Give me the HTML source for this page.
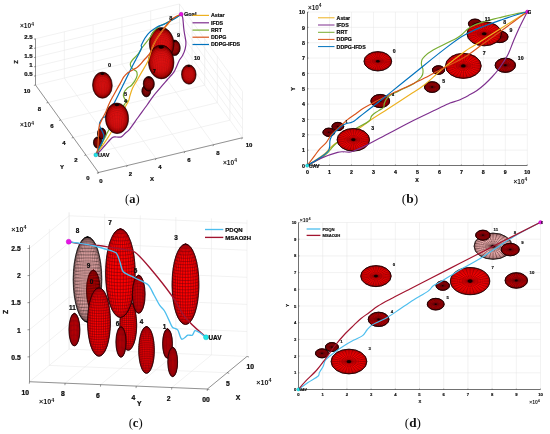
<!DOCTYPE html>
<html><head><meta charset="utf-8"><title>Figure</title>
<style>
html,body{margin:0;padding:0;background:#fff;}
body{width:550px;height:434px;overflow:hidden;}
svg{display:block;font-family:'Liberation Sans', Arial, sans-serif;}
.cap{font-family:'Liberation Serif', 'DejaVu Serif', serif;}
</style></head><body>
<svg width="550" height="434" viewBox="0 0 550 434">
<defs><radialGradient id="sg" cx="0.5" cy="0.5" r="0.5"><stop offset="0" stop-color="#f01414"/><stop offset="0.6" stop-color="#e61010"/><stop offset="0.85" stop-color="#c00808"/><stop offset="0.96" stop-color="#800000"/><stop offset="1" stop-color="#400000"/></radialGradient></defs>
<rect width="550" height="434" fill="#fff"/>
<line x1="98.5" y1="172.5" x2="35.5" y2="85" stroke="#e4e4e4" stroke-width="0.5" />
<line x1="98.5" y1="172.5" x2="242.5" y2="137.7" stroke="#e4e4e4" stroke-width="0.5" />
<line x1="35.5" y1="85" x2="35.5" y2="38.75" stroke="#e4e4e4" stroke-width="0.5" />
<line x1="242.5" y1="137.7" x2="242.5" y2="91.45" stroke="#e4e4e4" stroke-width="0.5" />
<line x1="127.3" y1="165.54" x2="64.3" y2="78.04" stroke="#e4e4e4" stroke-width="0.5" />
<line x1="85.9" y1="155" x2="229.9" y2="120.2" stroke="#e4e4e4" stroke-width="0.5" />
<line x1="64.3" y1="78.04" x2="64.3" y2="31.79" stroke="#e4e4e4" stroke-width="0.5" />
<line x1="229.9" y1="120.2" x2="229.9" y2="73.95" stroke="#e4e4e4" stroke-width="0.5" />
<line x1="156.1" y1="158.58" x2="93.1" y2="71.08" stroke="#e4e4e4" stroke-width="0.5" />
<line x1="73.3" y1="137.5" x2="217.3" y2="102.7" stroke="#e4e4e4" stroke-width="0.5" />
<line x1="93.1" y1="71.08" x2="93.1" y2="24.83" stroke="#e4e4e4" stroke-width="0.5" />
<line x1="217.3" y1="102.7" x2="217.3" y2="56.45" stroke="#e4e4e4" stroke-width="0.5" />
<line x1="184.9" y1="151.62" x2="121.9" y2="64.12" stroke="#e4e4e4" stroke-width="0.5" />
<line x1="60.7" y1="120" x2="204.7" y2="85.2" stroke="#e4e4e4" stroke-width="0.5" />
<line x1="121.9" y1="64.12" x2="121.9" y2="17.87" stroke="#e4e4e4" stroke-width="0.5" />
<line x1="204.7" y1="85.2" x2="204.7" y2="38.95" stroke="#e4e4e4" stroke-width="0.5" />
<line x1="213.7" y1="144.66" x2="150.7" y2="57.16" stroke="#e4e4e4" stroke-width="0.5" />
<line x1="48.1" y1="102.5" x2="192.1" y2="67.7" stroke="#e4e4e4" stroke-width="0.5" />
<line x1="150.7" y1="57.16" x2="150.7" y2="10.91" stroke="#e4e4e4" stroke-width="0.5" />
<line x1="192.1" y1="67.7" x2="192.1" y2="21.45" stroke="#e4e4e4" stroke-width="0.5" />
<line x1="242.5" y1="137.7" x2="179.5" y2="50.2" stroke="#e4e4e4" stroke-width="0.5" />
<line x1="35.5" y1="85" x2="179.5" y2="50.2" stroke="#e4e4e4" stroke-width="0.5" />
<line x1="179.5" y1="50.2" x2="179.5" y2="3.95" stroke="#e4e4e4" stroke-width="0.5" />
<line x1="179.5" y1="50.2" x2="179.5" y2="3.95" stroke="#e4e4e4" stroke-width="0.5" />
<line x1="35.5" y1="75.75" x2="179.5" y2="40.95" stroke="#e4e4e4" stroke-width="0.5" />
<line x1="179.5" y1="40.95" x2="242.5" y2="128.45" stroke="#e4e4e4" stroke-width="0.5" />
<line x1="35.5" y1="66.5" x2="179.5" y2="31.7" stroke="#e4e4e4" stroke-width="0.5" />
<line x1="179.5" y1="31.7" x2="242.5" y2="119.2" stroke="#e4e4e4" stroke-width="0.5" />
<line x1="35.5" y1="57.25" x2="179.5" y2="22.45" stroke="#e4e4e4" stroke-width="0.5" />
<line x1="179.5" y1="22.45" x2="242.5" y2="109.95" stroke="#e4e4e4" stroke-width="0.5" />
<line x1="35.5" y1="48" x2="179.5" y2="13.2" stroke="#e4e4e4" stroke-width="0.5" />
<line x1="179.5" y1="13.2" x2="242.5" y2="100.7" stroke="#e4e4e4" stroke-width="0.5" />
<line x1="35.5" y1="38.75" x2="179.5" y2="3.95" stroke="#e4e4e4" stroke-width="0.5" />
<line x1="179.5" y1="3.95" x2="242.5" y2="91.45" stroke="#e4e4e4" stroke-width="0.5" />
<line x1="35.5" y1="85" x2="35.5" y2="38.75" stroke="#333" stroke-width="0.5" />
<line x1="35.5" y1="85" x2="98.5" y2="172.5" stroke="#333" stroke-width="0.5" />
<line x1="98.5" y1="172.5" x2="242.5" y2="137.7" stroke="#333" stroke-width="0.5" />
<line x1="35.5" y1="75.75" x2="34" y2="76.15" stroke="#333" stroke-width="0.5" />
<line x1="35.5" y1="66.5" x2="34" y2="66.9" stroke="#333" stroke-width="0.5" />
<line x1="35.5" y1="57.25" x2="34" y2="57.65" stroke="#333" stroke-width="0.5" />
<line x1="35.5" y1="48" x2="34" y2="48.4" stroke="#333" stroke-width="0.5" />
<line x1="35.5" y1="38.75" x2="34" y2="39.15" stroke="#333" stroke-width="0.5" />
<line x1="98.5" y1="172.5" x2="96.9" y2="172.9" stroke="#333" stroke-width="0.5" />
<line x1="98.5" y1="172.5" x2="97.7" y2="174" stroke="#333" stroke-width="0.5" />
<line x1="85.9" y1="155" x2="84.3" y2="155.4" stroke="#333" stroke-width="0.5" />
<line x1="127.3" y1="165.54" x2="126.5" y2="167.04" stroke="#333" stroke-width="0.5" />
<line x1="73.3" y1="137.5" x2="71.7" y2="137.9" stroke="#333" stroke-width="0.5" />
<line x1="156.1" y1="158.58" x2="155.3" y2="160.08" stroke="#333" stroke-width="0.5" />
<line x1="60.7" y1="120" x2="59.1" y2="120.4" stroke="#333" stroke-width="0.5" />
<line x1="184.9" y1="151.62" x2="184.1" y2="153.12" stroke="#333" stroke-width="0.5" />
<line x1="48.1" y1="102.5" x2="46.5" y2="102.9" stroke="#333" stroke-width="0.5" />
<line x1="213.7" y1="144.66" x2="212.9" y2="146.16" stroke="#333" stroke-width="0.5" />
<line x1="35.5" y1="85" x2="33.9" y2="85.4" stroke="#333" stroke-width="0.5" />
<line x1="242.5" y1="137.7" x2="241.7" y2="139.2" stroke="#333" stroke-width="0.5" />
<text x="32.5" y="76.35" font-size="6" text-anchor="end" font-weight="bold" fill="#0a0a0a" stroke="#0a0a0a" stroke-width="0.21" >0.5</text>
<text x="32.5" y="67.1" font-size="6" text-anchor="end" font-weight="bold" fill="#0a0a0a" stroke="#0a0a0a" stroke-width="0.21" >1</text>
<text x="32.5" y="57.85" font-size="6" text-anchor="end" font-weight="bold" fill="#0a0a0a" stroke="#0a0a0a" stroke-width="0.21" >1.5</text>
<text x="32.5" y="48.6" font-size="6" text-anchor="end" font-weight="bold" fill="#0a0a0a" stroke="#0a0a0a" stroke-width="0.21" >2</text>
<text x="32.5" y="39.35" font-size="6" text-anchor="end" font-weight="bold" fill="#0a0a0a" stroke="#0a0a0a" stroke-width="0.21" >2.5</text>
<text x="20" y="28.2" font-size="6.6" text-anchor="start" font-weight="bold" fill="#1a1a1a">×10<tspan dy="-2.64" font-size="4.95">4</tspan></text>
<text x="0" y="0" font-size="6" text-anchor="middle" font-weight="bold" fill="#0a0a0a" stroke="#0a0a0a" stroke-width="0.21" transform="translate(18,62) rotate(-90)">Z</text>
<text x="27" y="93.1" font-size="6" text-anchor="middle" font-weight="bold" fill="#0a0a0a" stroke="#0a0a0a" stroke-width="0.21" >10</text>
<text x="39.5" y="110.6" font-size="6" text-anchor="middle" font-weight="bold" fill="#0a0a0a" stroke="#0a0a0a" stroke-width="0.21" >8</text>
<text x="52" y="127.8" font-size="6" text-anchor="middle" font-weight="bold" fill="#0a0a0a" stroke="#0a0a0a" stroke-width="0.21" >6</text>
<text x="64" y="145.1" font-size="6" text-anchor="middle" font-weight="bold" fill="#0a0a0a" stroke="#0a0a0a" stroke-width="0.21" >4</text>
<text x="76" y="162.3" font-size="6" text-anchor="middle" font-weight="bold" fill="#0a0a0a" stroke="#0a0a0a" stroke-width="0.21" >2</text>
<text x="88" y="179.7" font-size="6" text-anchor="middle" font-weight="bold" fill="#0a0a0a" stroke="#0a0a0a" stroke-width="0.21" >0</text>
<text x="20" y="127.2" font-size="6.6" text-anchor="start" font-weight="bold" fill="#1a1a1a">×10<tspan dy="-2.64" font-size="4.95">4</tspan></text>
<text x="62" y="169" font-size="6" text-anchor="middle" font-weight="bold" fill="#0a0a0a" stroke="#0a0a0a" stroke-width="0.21" >Y</text>
<text x="101" y="183.1" font-size="6" text-anchor="middle" font-weight="bold" fill="#0a0a0a" stroke="#0a0a0a" stroke-width="0.21" >0</text>
<text x="130.5" y="176.1" font-size="6" text-anchor="middle" font-weight="bold" fill="#0a0a0a" stroke="#0a0a0a" stroke-width="0.21" >2</text>
<text x="159.8" y="169" font-size="6" text-anchor="middle" font-weight="bold" fill="#0a0a0a" stroke="#0a0a0a" stroke-width="0.21" >4</text>
<text x="189" y="162.1" font-size="6" text-anchor="middle" font-weight="bold" fill="#0a0a0a" stroke="#0a0a0a" stroke-width="0.21" >6</text>
<text x="218" y="155.1" font-size="6" text-anchor="middle" font-weight="bold" fill="#0a0a0a" stroke="#0a0a0a" stroke-width="0.21" >8</text>
<text x="249" y="147.1" font-size="6" text-anchor="middle" font-weight="bold" fill="#0a0a0a" stroke="#0a0a0a" stroke-width="0.21" >10</text>
<text x="223" y="164.5" font-size="6.6" text-anchor="start" font-weight="bold" fill="#1a1a1a">×10<tspan dy="-2.64" font-size="4.95">4</tspan></text>
<text x="152" y="181.2" font-size="6" text-anchor="middle" font-weight="bold" fill="#0a0a0a" stroke="#0a0a0a" stroke-width="0.21" >X</text>
<g>
<circle r="1" transform="matrix(-5.89 -0.12 0 7.78 174.3 47.8)" fill="url(#sg)" fill-opacity="1.0" stroke="none"/>
<g fill="none" stroke="#000" stroke-width="0.17" vector-effect="non-scaling-stroke">
<path d="M-0.88 -0.475A1 1 0 0 1 0.249 -0.969" transform="matrix(2.93 -0.71 -1.28 -1.78 174.3 53.63)" vector-effect="non-scaling-stroke"/>
<path d="M-0.975 -0.223A1 1 0 0 1 0.498 -0.867" transform="matrix(3.51 -0.85 -1.54 -2.13 174.3 53.07)" vector-effect="non-scaling-stroke"/>
<path d="M-0.997 -0.079A1 1 0 0 1 0.619 -0.786" transform="matrix(3.96 -0.96 -1.73 -2.41 174.3 52.52)" vector-effect="non-scaling-stroke"/>
<path d="M-1 0.021A1 1 0 0 1 0.694 -0.72" transform="matrix(4.32 -1.04 -1.89 -2.63 174.3 51.96)" vector-effect="non-scaling-stroke"/>
<path d="M-0.995 0.097A1 1 0 0 1 0.747 -0.665" transform="matrix(4.61 -1.11 -2.02 -2.8 174.3 51.41)" vector-effect="non-scaling-stroke"/>
<path d="M-0.987 0.16A1 1 0 0 1 0.787 -0.617" transform="matrix(4.85 -1.17 -2.12 -2.95 174.3 50.85)" vector-effect="non-scaling-stroke"/>
<path d="M-0.977 0.213A1 1 0 0 1 0.82 -0.573" transform="matrix(5.04 -1.22 -2.2 -3.06 174.3 50.3)" vector-effect="non-scaling-stroke"/>
<path d="M-0.965 0.26A1 1 0 0 1 0.847 -0.532" transform="matrix(5.18 -1.25 -2.27 -3.15 174.3 49.74)" vector-effect="non-scaling-stroke"/>
<path d="M-0.953 0.304A1 1 0 0 1 0.87 -0.494" transform="matrix(5.29 -1.28 -2.31 -3.21 174.3 49.19)" vector-effect="non-scaling-stroke"/>
<path d="M-0.939 0.344A1 1 0 0 1 0.89 -0.456" transform="matrix(5.36 -1.3 -2.35 -3.26 174.3 48.63)" vector-effect="non-scaling-stroke"/>
<path d="M-0.924 0.382A1 1 0 0 1 0.908 -0.419" transform="matrix(5.4 -1.3 -2.36 -3.28 174.3 48.08)" vector-effect="non-scaling-stroke"/>
<path d="M-0.908 0.419A1 1 0 1 1 0.924 -0.382" transform="matrix(5.4 -1.3 -2.36 -3.28 174.3 47.52)" vector-effect="non-scaling-stroke"/>
<path d="M-0.89 0.456A1 1 0 1 1 0.939 -0.344" transform="matrix(5.36 -1.3 -2.35 -3.26 174.3 46.97)" vector-effect="non-scaling-stroke"/>
<path d="M-0.87 0.494A1 1 0 1 1 0.953 -0.304" transform="matrix(5.29 -1.28 -2.31 -3.21 174.3 46.41)" vector-effect="non-scaling-stroke"/>
<path d="M-0.847 0.532A1 1 0 1 1 0.965 -0.26" transform="matrix(5.18 -1.25 -2.27 -3.15 174.3 45.86)" vector-effect="non-scaling-stroke"/>
<path d="M-0.82 0.573A1 1 0 1 1 0.977 -0.213" transform="matrix(5.04 -1.22 -2.2 -3.06 174.3 45.3)" vector-effect="non-scaling-stroke"/>
<path d="M-0.787 0.617A1 1 0 1 1 0.987 -0.16" transform="matrix(4.85 -1.17 -2.12 -2.95 174.3 44.75)" vector-effect="non-scaling-stroke"/>
<path d="M-0.747 0.665A1 1 0 1 1 0.995 -0.097" transform="matrix(4.61 -1.11 -2.02 -2.8 174.3 44.19)" vector-effect="non-scaling-stroke"/>
<path d="M-0.694 0.72A1 1 0 1 1 1 -0.021" transform="matrix(4.32 -1.04 -1.89 -2.62 174.3 43.64)" vector-effect="non-scaling-stroke"/>
<path d="M-0.619 0.786A1 1 0 1 1 0.997 0.079" transform="matrix(3.96 -0.96 -1.73 -2.41 174.3 43.08)" vector-effect="non-scaling-stroke"/>
<path d="M-0.498 0.867A1 1 0 1 1 0.975 0.223" transform="matrix(3.51 -0.85 -1.54 -2.13 174.3 42.53)" vector-effect="non-scaling-stroke"/>
<path d="M-0.249 0.969A1 1 0 1 1 0.88 0.475" transform="matrix(2.93 -0.71 -1.28 -1.78 174.3 41.97)" vector-effect="non-scaling-stroke"/>
<circle r="1" transform="matrix(2.12 -0.51 -0.93 -1.29 174.3 41.42)" vector-effect="non-scaling-stroke"/>
<path d="M0.785 0.619A1 1 0 0 1 0 1" transform="matrix(5.4 -1.3 0 -6.94 174.3 47.8)" vector-effect="non-scaling-stroke"/>
<path d="M0.676 0.736A1 1 0 0 1 0 1" transform="matrix(4.91 -1.85 0 -6.94 174.3 47.8)" vector-effect="non-scaling-stroke"/>
<path d="M0.593 0.805A1 1 0 0 1 0 1" transform="matrix(4.27 -2.35 0 -6.94 174.3 47.8)" vector-effect="non-scaling-stroke"/>
<path d="M0.534 0.845A1 1 0 0 1 0 1" transform="matrix(3.5 -2.77 0 -6.94 174.3 47.8)" vector-effect="non-scaling-stroke"/>
<path d="M0.494 0.87A1 1 0 0 1 0 1" transform="matrix(2.62 -3.11 0 -6.94 174.3 47.8)" vector-effect="non-scaling-stroke"/>
<path d="M0.468 0.883A1 1 0 0 1 0 1" transform="matrix(1.66 -3.35 0 -6.94 174.3 47.8)" vector-effect="non-scaling-stroke"/>
<path d="M0.456 0.89A1 1 0 0 1 0 1" transform="matrix(0.65 -3.49 0 -6.94 174.3 47.8)" vector-effect="non-scaling-stroke"/>
<path d="M0.454 0.891A1 1 0 0 1 0 1" transform="matrix(-0.37 -3.53 0 -6.94 174.3 47.8)" vector-effect="non-scaling-stroke"/>
<path d="M0.464 0.886A1 1 0 0 1 0 1" transform="matrix(-1.39 -3.46 0 -6.94 174.3 47.8)" vector-effect="non-scaling-stroke"/>
<path d="M0.485 0.874A1 1 0 0 1 0 1" transform="matrix(-2.36 -3.28 0 -6.94 174.3 47.8)" vector-effect="non-scaling-stroke"/>
<path d="M0.521 0.853A1 1 0 0 1 0 1" transform="matrix(-3.26 -3 0 -6.94 174.3 47.8)" vector-effect="non-scaling-stroke"/>
<path d="M0.575 0.818A1 1 0 0 1 0 1" transform="matrix(-4.07 -2.64 0 -6.94 174.3 47.8)" vector-effect="non-scaling-stroke"/>
<path d="M0.651 0.759A1 1 0 0 1 0 1" transform="matrix(-4.75 -2.19 0 -6.94 174.3 47.8)" vector-effect="non-scaling-stroke"/>
<path d="M0.753 0.658A1 1 0 0 1 0 1" transform="matrix(-5.28 -1.67 0 -6.94 174.3 47.8)" vector-effect="non-scaling-stroke"/>
<path d="M0.875 0.485A1 1 0 0 1 0 1" transform="matrix(-5.66 -1.11 0 -6.94 174.3 47.8)" vector-effect="non-scaling-stroke"/>
<path d="M0.977 0.213A1 1 0 0 1 0 1" transform="matrix(-5.86 -0.51 0 -6.94 174.3 47.8)" vector-effect="non-scaling-stroke"/>
<path d="M0.992 -0.123A1 1 0 0 1 0 1" transform="matrix(-5.88 0.1 0 -6.94 174.3 47.8)" vector-effect="non-scaling-stroke"/>
<path d="M0.907 -0.42A1 1 0 0 1 0 1" transform="matrix(-5.73 0.72 0 -6.94 174.3 47.8)" vector-effect="non-scaling-stroke"/>
<path d="M0.785 -0.619A1 1 0 0 1 0 1" transform="matrix(-5.4 1.3 0 -6.94 174.3 47.8)" vector-effect="non-scaling-stroke"/>
<path d="M0.676 -0.736A1 1 0 0 1 0 1" transform="matrix(-4.91 1.85 0 -6.94 174.3 47.8)" vector-effect="non-scaling-stroke"/>
<path d="M0.593 -0.805A1 1 0 0 1 0 1" transform="matrix(-4.27 2.35 0 -6.94 174.3 47.8)" vector-effect="non-scaling-stroke"/>
<path d="M0.534 -0.845A1 1 0 0 1 0 1" transform="matrix(-3.5 2.77 0 -6.94 174.3 47.8)" vector-effect="non-scaling-stroke"/>
<path d="M0.494 -0.87A1 1 0 0 1 0 1" transform="matrix(-2.62 3.11 0 -6.94 174.3 47.8)" vector-effect="non-scaling-stroke"/>
<path d="M0.468 -0.883A1 1 0 0 1 0 1" transform="matrix(-1.66 3.35 0 -6.94 174.3 47.8)" vector-effect="non-scaling-stroke"/>
<path d="M0.456 -0.89A1 1 0 0 1 0 1" transform="matrix(-0.65 3.49 0 -6.94 174.3 47.8)" vector-effect="non-scaling-stroke"/>
<path d="M0.454 -0.891A1 1 0 0 1 0 1" transform="matrix(0.37 3.53 0 -6.94 174.3 47.8)" vector-effect="non-scaling-stroke"/>
<path d="M0.464 -0.886A1 1 0 0 1 0 1" transform="matrix(1.39 3.46 0 -6.94 174.3 47.8)" vector-effect="non-scaling-stroke"/>
<path d="M0.485 -0.874A1 1 0 0 1 0 1" transform="matrix(2.36 3.28 0 -6.94 174.3 47.8)" vector-effect="non-scaling-stroke"/>
<path d="M0.521 -0.853A1 1 0 0 1 0 1" transform="matrix(3.26 3 0 -6.94 174.3 47.8)" vector-effect="non-scaling-stroke"/>
<path d="M0.575 -0.818A1 1 0 0 1 0 1" transform="matrix(4.07 2.64 0 -6.94 174.3 47.8)" vector-effect="non-scaling-stroke"/>
<path d="M0.651 -0.759A1 1 0 0 1 0 1" transform="matrix(4.75 2.19 0 -6.94 174.3 47.8)" vector-effect="non-scaling-stroke"/>
<path d="M0.753 -0.658A1 1 0 0 1 0 1" transform="matrix(5.28 1.67 0 -6.94 174.3 47.8)" vector-effect="non-scaling-stroke"/>
<path d="M0.875 -0.485A1 1 0 0 1 0 1" transform="matrix(5.66 1.11 0 -6.94 174.3 47.8)" vector-effect="non-scaling-stroke"/>
<path d="M0.977 -0.213A1 1 0 0 1 0 1" transform="matrix(5.86 0.51 0 -6.94 174.3 47.8)" vector-effect="non-scaling-stroke"/>
<path d="M0.992 0.123A1 1 0 0 1 0 1" transform="matrix(5.88 -0.1 0 -6.94 174.3 47.8)" vector-effect="non-scaling-stroke"/>
<path d="M0.907 0.42A1 1 0 0 1 0 1" transform="matrix(5.73 -0.72 0 -6.94 174.3 47.8)" vector-effect="non-scaling-stroke"/>
</g>
<circle r="1" transform="matrix(1.08 -0.26 -0.47 -0.66 174.3 40.97)" fill="#100000"/>
<circle r="1" transform="matrix(-5.89 -0.12 0 7.78 174.3 47.8)" fill="none" stroke="#200" stroke-width="0.45" vector-effect="non-scaling-stroke"/>
</g>
<g>
<circle r="1" transform="matrix(-12.34 -0.25 0 16.29 161.6 43.8)" fill="url(#sg)" fill-opacity="1.0" stroke="none"/>
<g fill="none" stroke="#000" stroke-width="0.1" vector-effect="non-scaling-stroke">
<path d="M-0.88 -0.475A1 1 0 0 1 0.249 -0.969" transform="matrix(6.13 -1.48 -2.68 -3.73 161.6 56)" vector-effect="non-scaling-stroke"/>
<path d="M-0.975 -0.223A1 1 0 0 1 0.498 -0.867" transform="matrix(7.35 -1.78 -3.21 -4.46 161.6 54.84)" vector-effect="non-scaling-stroke"/>
<path d="M-0.997 -0.079A1 1 0 0 1 0.619 -0.786" transform="matrix(8.29 -2 -3.63 -5.04 161.6 53.68)" vector-effect="non-scaling-stroke"/>
<path d="M-1 0.021A1 1 0 0 1 0.694 -0.72" transform="matrix(9.04 -2.19 -3.96 -5.5 161.6 52.51)" vector-effect="non-scaling-stroke"/>
<path d="M-0.995 0.097A1 1 0 0 1 0.747 -0.665" transform="matrix(9.66 -2.33 -4.22 -5.87 161.6 51.35)" vector-effect="non-scaling-stroke"/>
<path d="M-0.987 0.16A1 1 0 0 1 0.787 -0.617" transform="matrix(10.15 -2.45 -4.44 -6.17 161.6 50.19)" vector-effect="non-scaling-stroke"/>
<path d="M-0.977 0.213A1 1 0 0 1 0.82 -0.573" transform="matrix(10.55 -2.55 -4.61 -6.41 161.6 49.03)" vector-effect="non-scaling-stroke"/>
<path d="M-0.965 0.26A1 1 0 0 1 0.847 -0.532" transform="matrix(10.85 -2.62 -4.75 -6.59 161.6 47.87)" vector-effect="non-scaling-stroke"/>
<path d="M-0.953 0.304A1 1 0 0 1 0.87 -0.494" transform="matrix(11.08 -2.68 -4.85 -6.73 161.6 46.7)" vector-effect="non-scaling-stroke"/>
<path d="M-0.939 0.344A1 1 0 0 1 0.89 -0.456" transform="matrix(11.22 -2.71 -4.91 -6.82 161.6 45.54)" vector-effect="non-scaling-stroke"/>
<path d="M-0.924 0.382A1 1 0 0 1 0.908 -0.419" transform="matrix(11.29 -2.73 -4.94 -6.86 161.6 44.38)" vector-effect="non-scaling-stroke"/>
<path d="M-0.908 0.419A1 1 0 1 1 0.924 -0.382" transform="matrix(11.29 -2.73 -4.94 -6.86 161.6 43.22)" vector-effect="non-scaling-stroke"/>
<path d="M-0.89 0.456A1 1 0 1 1 0.939 -0.344" transform="matrix(11.22 -2.71 -4.91 -6.82 161.6 42.06)" vector-effect="non-scaling-stroke"/>
<path d="M-0.87 0.494A1 1 0 1 1 0.953 -0.304" transform="matrix(11.08 -2.68 -4.85 -6.73 161.6 40.9)" vector-effect="non-scaling-stroke"/>
<path d="M-0.847 0.532A1 1 0 1 1 0.965 -0.26" transform="matrix(10.85 -2.62 -4.75 -6.59 161.6 39.73)" vector-effect="non-scaling-stroke"/>
<path d="M-0.82 0.573A1 1 0 1 1 0.977 -0.213" transform="matrix(10.55 -2.55 -4.61 -6.41 161.6 38.57)" vector-effect="non-scaling-stroke"/>
<path d="M-0.787 0.617A1 1 0 1 1 0.987 -0.16" transform="matrix(10.15 -2.45 -4.44 -6.17 161.6 37.41)" vector-effect="non-scaling-stroke"/>
<path d="M-0.747 0.665A1 1 0 1 1 0.995 -0.097" transform="matrix(9.66 -2.33 -4.22 -5.87 161.6 36.25)" vector-effect="non-scaling-stroke"/>
<path d="M-0.694 0.72A1 1 0 1 1 1 -0.021" transform="matrix(9.04 -2.19 -3.96 -5.5 161.6 35.09)" vector-effect="non-scaling-stroke"/>
<path d="M-0.619 0.786A1 1 0 1 1 0.997 0.079" transform="matrix(8.29 -2 -3.63 -5.04 161.6 33.92)" vector-effect="non-scaling-stroke"/>
<path d="M-0.498 0.867A1 1 0 1 1 0.975 0.223" transform="matrix(7.35 -1.78 -3.21 -4.46 161.6 32.76)" vector-effect="non-scaling-stroke"/>
<path d="M-0.249 0.969A1 1 0 1 1 0.88 0.475" transform="matrix(6.13 -1.48 -2.68 -3.73 161.6 31.6)" vector-effect="non-scaling-stroke"/>
<circle r="1" transform="matrix(4.43 -1.07 -1.94 -2.69 161.6 30.44)" vector-effect="non-scaling-stroke"/>
<path d="M0.785 0.619A1 1 0 0 1 0 1" transform="matrix(11.3 -2.73 0 -14.52 161.6 43.8)" vector-effect="non-scaling-stroke"/>
<path d="M0.676 0.736A1 1 0 0 1 0 1" transform="matrix(10.27 -3.88 0 -14.52 161.6 43.8)" vector-effect="non-scaling-stroke"/>
<path d="M0.593 0.805A1 1 0 0 1 0 1" transform="matrix(8.93 -4.92 0 -14.52 161.6 43.8)" vector-effect="non-scaling-stroke"/>
<path d="M0.534 0.845A1 1 0 0 1 0 1" transform="matrix(7.32 -5.8 0 -14.52 161.6 43.8)" vector-effect="non-scaling-stroke"/>
<path d="M0.494 0.87A1 1 0 0 1 0 1" transform="matrix(5.48 -6.51 0 -14.52 161.6 43.8)" vector-effect="non-scaling-stroke"/>
<path d="M0.468 0.883A1 1 0 0 1 0 1" transform="matrix(3.48 -7.02 0 -14.52 161.6 43.8)" vector-effect="non-scaling-stroke"/>
<path d="M0.456 0.89A1 1 0 0 1 0 1" transform="matrix(1.37 -7.31 0 -14.52 161.6 43.8)" vector-effect="non-scaling-stroke"/>
<path d="M0.454 0.891A1 1 0 0 1 0 1" transform="matrix(-0.78 -7.39 0 -14.52 161.6 43.8)" vector-effect="non-scaling-stroke"/>
<path d="M0.464 0.886A1 1 0 0 1 0 1" transform="matrix(-2.91 -7.24 0 -14.52 161.6 43.8)" vector-effect="non-scaling-stroke"/>
<path d="M0.485 0.874A1 1 0 0 1 0 1" transform="matrix(-4.95 -6.87 0 -14.52 161.6 43.8)" vector-effect="non-scaling-stroke"/>
<path d="M0.521 0.853A1 1 0 0 1 0 1" transform="matrix(-6.83 -6.29 0 -14.52 161.6 43.8)" vector-effect="non-scaling-stroke"/>
<path d="M0.575 0.818A1 1 0 0 1 0 1" transform="matrix(-8.51 -5.52 0 -14.52 161.6 43.8)" vector-effect="non-scaling-stroke"/>
<path d="M0.651 0.759A1 1 0 0 1 0 1" transform="matrix(-9.93 -4.58 0 -14.52 161.6 43.8)" vector-effect="non-scaling-stroke"/>
<path d="M0.753 0.658A1 1 0 0 1 0 1" transform="matrix(-11.05 -3.51 0 -14.52 161.6 43.8)" vector-effect="non-scaling-stroke"/>
<path d="M0.875 0.485A1 1 0 0 1 0 1" transform="matrix(-11.84 -2.32 0 -14.52 161.6 43.8)" vector-effect="non-scaling-stroke"/>
<path d="M0.977 0.213A1 1 0 0 1 0 1" transform="matrix(-12.26 -1.07 0 -14.52 161.6 43.8)" vector-effect="non-scaling-stroke"/>
<path d="M0.992 -0.123A1 1 0 0 1 0 1" transform="matrix(-12.31 0.22 0 -14.52 161.6 43.8)" vector-effect="non-scaling-stroke"/>
<path d="M0.907 -0.42A1 1 0 0 1 0 1" transform="matrix(-11.99 1.5 0 -14.52 161.6 43.8)" vector-effect="non-scaling-stroke"/>
<path d="M0.785 -0.619A1 1 0 0 1 0 1" transform="matrix(-11.3 2.73 0 -14.52 161.6 43.8)" vector-effect="non-scaling-stroke"/>
<path d="M0.676 -0.736A1 1 0 0 1 0 1" transform="matrix(-10.27 3.88 0 -14.52 161.6 43.8)" vector-effect="non-scaling-stroke"/>
<path d="M0.593 -0.805A1 1 0 0 1 0 1" transform="matrix(-8.93 4.92 0 -14.52 161.6 43.8)" vector-effect="non-scaling-stroke"/>
<path d="M0.534 -0.845A1 1 0 0 1 0 1" transform="matrix(-7.32 5.8 0 -14.52 161.6 43.8)" vector-effect="non-scaling-stroke"/>
<path d="M0.494 -0.87A1 1 0 0 1 0 1" transform="matrix(-5.48 6.51 0 -14.52 161.6 43.8)" vector-effect="non-scaling-stroke"/>
<path d="M0.468 -0.883A1 1 0 0 1 0 1" transform="matrix(-3.48 7.02 0 -14.52 161.6 43.8)" vector-effect="non-scaling-stroke"/>
<path d="M0.456 -0.89A1 1 0 0 1 0 1" transform="matrix(-1.37 7.31 0 -14.52 161.6 43.8)" vector-effect="non-scaling-stroke"/>
<path d="M0.454 -0.891A1 1 0 0 1 0 1" transform="matrix(0.78 7.39 0 -14.52 161.6 43.8)" vector-effect="non-scaling-stroke"/>
<path d="M0.464 -0.886A1 1 0 0 1 0 1" transform="matrix(2.91 7.24 0 -14.52 161.6 43.8)" vector-effect="non-scaling-stroke"/>
<path d="M0.485 -0.874A1 1 0 0 1 0 1" transform="matrix(4.95 6.87 0 -14.52 161.6 43.8)" vector-effect="non-scaling-stroke"/>
<path d="M0.521 -0.853A1 1 0 0 1 0 1" transform="matrix(6.83 6.29 0 -14.52 161.6 43.8)" vector-effect="non-scaling-stroke"/>
<path d="M0.575 -0.818A1 1 0 0 1 0 1" transform="matrix(8.51 5.52 0 -14.52 161.6 43.8)" vector-effect="non-scaling-stroke"/>
<path d="M0.651 -0.759A1 1 0 0 1 0 1" transform="matrix(9.93 4.58 0 -14.52 161.6 43.8)" vector-effect="non-scaling-stroke"/>
<path d="M0.753 -0.658A1 1 0 0 1 0 1" transform="matrix(11.05 3.51 0 -14.52 161.6 43.8)" vector-effect="non-scaling-stroke"/>
<path d="M0.875 -0.485A1 1 0 0 1 0 1" transform="matrix(11.84 2.32 0 -14.52 161.6 43.8)" vector-effect="non-scaling-stroke"/>
<path d="M0.977 -0.213A1 1 0 0 1 0 1" transform="matrix(12.26 1.07 0 -14.52 161.6 43.8)" vector-effect="non-scaling-stroke"/>
<path d="M0.992 0.123A1 1 0 0 1 0 1" transform="matrix(12.31 -0.22 0 -14.52 161.6 43.8)" vector-effect="non-scaling-stroke"/>
<path d="M0.907 0.42A1 1 0 0 1 0 1" transform="matrix(11.99 -1.5 0 -14.52 161.6 43.8)" vector-effect="non-scaling-stroke"/>
</g>
<circle r="1" transform="matrix(2.26 -0.55 -0.99 -1.37 161.6 29.5)" fill="#100000"/>
<circle r="1" transform="matrix(-12.34 -0.25 0 16.29 161.6 43.8)" fill="none" stroke="#200" stroke-width="0.45" vector-effect="non-scaling-stroke"/>
</g>
<g>
<circle r="1" transform="matrix(-12.81 -0.26 0 16.92 161.2 62)" fill="url(#sg)" fill-opacity="1.0" stroke="none"/>
<g fill="none" stroke="#000" stroke-width="0.1" vector-effect="non-scaling-stroke">
<path d="M-0.88 -0.475A1 1 0 0 1 0.249 -0.969" transform="matrix(6.37 -1.54 -2.79 -3.87 161.2 74.67)" vector-effect="non-scaling-stroke"/>
<path d="M-0.975 -0.223A1 1 0 0 1 0.498 -0.867" transform="matrix(7.63 -1.84 -3.34 -4.63 161.2 73.46)" vector-effect="non-scaling-stroke"/>
<path d="M-0.997 -0.079A1 1 0 0 1 0.619 -0.786" transform="matrix(8.6 -2.08 -3.76 -5.23 161.2 72.25)" vector-effect="non-scaling-stroke"/>
<path d="M-1 0.021A1 1 0 0 1 0.694 -0.72" transform="matrix(9.39 -2.27 -4.11 -5.71 161.2 71.05)" vector-effect="non-scaling-stroke"/>
<path d="M-0.995 0.097A1 1 0 0 1 0.747 -0.665" transform="matrix(10.02 -2.42 -4.39 -6.09 161.2 69.84)" vector-effect="non-scaling-stroke"/>
<path d="M-0.987 0.16A1 1 0 0 1 0.787 -0.617" transform="matrix(10.54 -2.55 -4.61 -6.4 161.2 68.63)" vector-effect="non-scaling-stroke"/>
<path d="M-0.977 0.213A1 1 0 0 1 0.82 -0.573" transform="matrix(10.95 -2.65 -4.79 -6.65 161.2 67.43)" vector-effect="non-scaling-stroke"/>
<path d="M-0.965 0.26A1 1 0 0 1 0.847 -0.532" transform="matrix(11.27 -2.72 -4.93 -6.85 161.2 66.22)" vector-effect="non-scaling-stroke"/>
<path d="M-0.953 0.304A1 1 0 0 1 0.87 -0.494" transform="matrix(11.5 -2.78 -5.03 -6.99 161.2 65.02)" vector-effect="non-scaling-stroke"/>
<path d="M-0.939 0.344A1 1 0 0 1 0.89 -0.456" transform="matrix(11.65 -2.82 -5.1 -7.08 161.2 63.81)" vector-effect="non-scaling-stroke"/>
<path d="M-0.924 0.382A1 1 0 0 1 0.908 -0.419" transform="matrix(11.73 -2.83 -5.13 -7.13 161.2 62.6)" vector-effect="non-scaling-stroke"/>
<path d="M-0.908 0.419A1 1 0 1 1 0.924 -0.382" transform="matrix(11.73 -2.83 -5.13 -7.13 161.2 61.4)" vector-effect="non-scaling-stroke"/>
<path d="M-0.89 0.456A1 1 0 1 1 0.939 -0.344" transform="matrix(11.65 -2.82 -5.1 -7.08 161.2 60.19)" vector-effect="non-scaling-stroke"/>
<path d="M-0.87 0.494A1 1 0 1 1 0.953 -0.304" transform="matrix(11.5 -2.78 -5.03 -6.99 161.2 58.98)" vector-effect="non-scaling-stroke"/>
<path d="M-0.847 0.532A1 1 0 1 1 0.965 -0.26" transform="matrix(11.27 -2.72 -4.93 -6.85 161.2 57.78)" vector-effect="non-scaling-stroke"/>
<path d="M-0.82 0.573A1 1 0 1 1 0.977 -0.213" transform="matrix(10.95 -2.65 -4.79 -6.65 161.2 56.57)" vector-effect="non-scaling-stroke"/>
<path d="M-0.787 0.617A1 1 0 1 1 0.987 -0.16" transform="matrix(10.54 -2.55 -4.61 -6.4 161.2 55.37)" vector-effect="non-scaling-stroke"/>
<path d="M-0.747 0.665A1 1 0 1 1 0.995 -0.097" transform="matrix(10.02 -2.42 -4.39 -6.09 161.2 54.16)" vector-effect="non-scaling-stroke"/>
<path d="M-0.694 0.72A1 1 0 1 1 1 -0.021" transform="matrix(9.39 -2.27 -4.11 -5.7 161.2 52.95)" vector-effect="non-scaling-stroke"/>
<path d="M-0.619 0.786A1 1 0 1 1 0.997 0.079" transform="matrix(8.6 -2.08 -3.76 -5.23 161.2 51.75)" vector-effect="non-scaling-stroke"/>
<path d="M-0.498 0.867A1 1 0 1 1 0.975 0.223" transform="matrix(7.63 -1.84 -3.34 -4.63 161.2 50.54)" vector-effect="non-scaling-stroke"/>
<path d="M-0.249 0.969A1 1 0 1 1 0.88 0.475" transform="matrix(6.37 -1.54 -2.79 -3.87 161.2 49.33)" vector-effect="non-scaling-stroke"/>
<circle r="1" transform="matrix(4.6 -1.11 -2.01 -2.79 161.2 48.13)" vector-effect="non-scaling-stroke"/>
<path d="M0.785 0.619A1 1 0 0 1 0 1" transform="matrix(11.74 -2.84 0 -15.08 161.2 62)" vector-effect="non-scaling-stroke"/>
<path d="M0.676 0.736A1 1 0 0 1 0 1" transform="matrix(10.67 -4.03 0 -15.08 161.2 62)" vector-effect="non-scaling-stroke"/>
<path d="M0.593 0.805A1 1 0 0 1 0 1" transform="matrix(9.27 -5.1 0 -15.08 161.2 62)" vector-effect="non-scaling-stroke"/>
<path d="M0.534 0.845A1 1 0 0 1 0 1" transform="matrix(7.6 -6.02 0 -15.08 161.2 62)" vector-effect="non-scaling-stroke"/>
<path d="M0.494 0.87A1 1 0 0 1 0 1" transform="matrix(5.69 -6.76 0 -15.08 161.2 62)" vector-effect="non-scaling-stroke"/>
<path d="M0.468 0.883A1 1 0 0 1 0 1" transform="matrix(3.61 -7.29 0 -15.08 161.2 62)" vector-effect="non-scaling-stroke"/>
<path d="M0.456 0.89A1 1 0 0 1 0 1" transform="matrix(1.42 -7.59 0 -15.08 161.2 62)" vector-effect="non-scaling-stroke"/>
<path d="M0.454 0.891A1 1 0 0 1 0 1" transform="matrix(-0.81 -7.67 0 -15.08 161.2 62)" vector-effect="non-scaling-stroke"/>
<path d="M0.464 0.886A1 1 0 0 1 0 1" transform="matrix(-3.02 -7.52 0 -15.08 161.2 62)" vector-effect="non-scaling-stroke"/>
<path d="M0.485 0.874A1 1 0 0 1 0 1" transform="matrix(-5.13 -7.13 0 -15.08 161.2 62)" vector-effect="non-scaling-stroke"/>
<path d="M0.521 0.853A1 1 0 0 1 0 1" transform="matrix(-7.09 -6.53 0 -15.08 161.2 62)" vector-effect="non-scaling-stroke"/>
<path d="M0.575 0.818A1 1 0 0 1 0 1" transform="matrix(-8.84 -5.73 0 -15.08 161.2 62)" vector-effect="non-scaling-stroke"/>
<path d="M0.651 0.759A1 1 0 0 1 0 1" transform="matrix(-10.31 -4.76 0 -15.08 161.2 62)" vector-effect="non-scaling-stroke"/>
<path d="M0.753 0.658A1 1 0 0 1 0 1" transform="matrix(-11.48 -3.64 0 -15.08 161.2 62)" vector-effect="non-scaling-stroke"/>
<path d="M0.875 0.485A1 1 0 0 1 0 1" transform="matrix(-12.29 -2.41 0 -15.08 161.2 62)" vector-effect="non-scaling-stroke"/>
<path d="M0.977 0.213A1 1 0 0 1 0 1" transform="matrix(-12.73 -1.11 0 -15.08 161.2 62)" vector-effect="non-scaling-stroke"/>
<path d="M0.992 -0.123A1 1 0 0 1 0 1" transform="matrix(-12.78 0.23 0 -15.08 161.2 62)" vector-effect="non-scaling-stroke"/>
<path d="M0.907 -0.42A1 1 0 0 1 0 1" transform="matrix(-12.45 1.55 0 -15.08 161.2 62)" vector-effect="non-scaling-stroke"/>
<path d="M0.785 -0.619A1 1 0 0 1 0 1" transform="matrix(-11.74 2.84 0 -15.08 161.2 62)" vector-effect="non-scaling-stroke"/>
<path d="M0.676 -0.736A1 1 0 0 1 0 1" transform="matrix(-10.67 4.03 0 -15.08 161.2 62)" vector-effect="non-scaling-stroke"/>
<path d="M0.593 -0.805A1 1 0 0 1 0 1" transform="matrix(-9.27 5.1 0 -15.08 161.2 62)" vector-effect="non-scaling-stroke"/>
<path d="M0.534 -0.845A1 1 0 0 1 0 1" transform="matrix(-7.6 6.02 0 -15.08 161.2 62)" vector-effect="non-scaling-stroke"/>
<path d="M0.494 -0.87A1 1 0 0 1 0 1" transform="matrix(-5.69 6.76 0 -15.08 161.2 62)" vector-effect="non-scaling-stroke"/>
<path d="M0.468 -0.883A1 1 0 0 1 0 1" transform="matrix(-3.61 7.29 0 -15.08 161.2 62)" vector-effect="non-scaling-stroke"/>
<path d="M0.456 -0.89A1 1 0 0 1 0 1" transform="matrix(-1.42 7.59 0 -15.08 161.2 62)" vector-effect="non-scaling-stroke"/>
<path d="M0.454 -0.891A1 1 0 0 1 0 1" transform="matrix(0.81 7.67 0 -15.08 161.2 62)" vector-effect="non-scaling-stroke"/>
<path d="M0.464 -0.886A1 1 0 0 1 0 1" transform="matrix(3.02 7.52 0 -15.08 161.2 62)" vector-effect="non-scaling-stroke"/>
<path d="M0.485 -0.874A1 1 0 0 1 0 1" transform="matrix(5.13 7.13 0 -15.08 161.2 62)" vector-effect="non-scaling-stroke"/>
<path d="M0.521 -0.853A1 1 0 0 1 0 1" transform="matrix(7.09 6.53 0 -15.08 161.2 62)" vector-effect="non-scaling-stroke"/>
<path d="M0.575 -0.818A1 1 0 0 1 0 1" transform="matrix(8.84 5.73 0 -15.08 161.2 62)" vector-effect="non-scaling-stroke"/>
<path d="M0.651 -0.759A1 1 0 0 1 0 1" transform="matrix(10.31 4.76 0 -15.08 161.2 62)" vector-effect="non-scaling-stroke"/>
<path d="M0.753 -0.658A1 1 0 0 1 0 1" transform="matrix(11.48 3.64 0 -15.08 161.2 62)" vector-effect="non-scaling-stroke"/>
<path d="M0.875 -0.485A1 1 0 0 1 0 1" transform="matrix(12.29 2.41 0 -15.08 161.2 62)" vector-effect="non-scaling-stroke"/>
<path d="M0.977 -0.213A1 1 0 0 1 0 1" transform="matrix(12.73 1.11 0 -15.08 161.2 62)" vector-effect="non-scaling-stroke"/>
<path d="M0.992 0.123A1 1 0 0 1 0 1" transform="matrix(12.78 -0.23 0 -15.08 161.2 62)" vector-effect="non-scaling-stroke"/>
<path d="M0.907 0.42A1 1 0 0 1 0 1" transform="matrix(12.45 -1.55 0 -15.08 161.2 62)" vector-effect="non-scaling-stroke"/>
</g>
<circle r="1" transform="matrix(2.35 -0.57 -1.03 -1.43 161.2 47.15)" fill="#100000"/>
<circle r="1" transform="matrix(-12.81 -0.26 0 16.92 161.2 62)" fill="none" stroke="#200" stroke-width="0.45" vector-effect="non-scaling-stroke"/>
</g>
<g>
<circle r="1" transform="matrix(-7.31 -0.15 0 9.65 188.8 74.5)" fill="url(#sg)" fill-opacity="1.0" stroke="none"/>
<g fill="none" stroke="#000" stroke-width="0.1" vector-effect="non-scaling-stroke">
<path d="M-0.88 -0.475A1 1 0 0 1 0.249 -0.969" transform="matrix(3.63 -0.88 -1.59 -2.21 188.8 81.73)" vector-effect="non-scaling-stroke"/>
<path d="M-0.975 -0.223A1 1 0 0 1 0.498 -0.867" transform="matrix(4.35 -1.05 -1.9 -2.64 188.8 81.04)" vector-effect="non-scaling-stroke"/>
<path d="M-0.997 -0.079A1 1 0 0 1 0.619 -0.786" transform="matrix(4.91 -1.19 -2.15 -2.98 188.8 80.35)" vector-effect="non-scaling-stroke"/>
<path d="M-1 0.021A1 1 0 0 1 0.694 -0.72" transform="matrix(5.36 -1.29 -2.34 -3.25 188.8 79.66)" vector-effect="non-scaling-stroke"/>
<path d="M-0.995 0.097A1 1 0 0 1 0.747 -0.665" transform="matrix(5.72 -1.38 -2.5 -3.48 188.8 78.97)" vector-effect="non-scaling-stroke"/>
<path d="M-0.987 0.16A1 1 0 0 1 0.787 -0.617" transform="matrix(6.01 -1.45 -2.63 -3.65 188.8 78.29)" vector-effect="non-scaling-stroke"/>
<path d="M-0.977 0.213A1 1 0 0 1 0.82 -0.573" transform="matrix(6.25 -1.51 -2.73 -3.8 188.8 77.6)" vector-effect="non-scaling-stroke"/>
<path d="M-0.965 0.26A1 1 0 0 1 0.847 -0.532" transform="matrix(6.43 -1.55 -2.81 -3.91 188.8 76.91)" vector-effect="non-scaling-stroke"/>
<path d="M-0.953 0.304A1 1 0 0 1 0.87 -0.494" transform="matrix(6.56 -1.59 -2.87 -3.99 188.8 76.22)" vector-effect="non-scaling-stroke"/>
<path d="M-0.939 0.344A1 1 0 0 1 0.89 -0.456" transform="matrix(6.65 -1.61 -2.91 -4.04 188.8 75.53)" vector-effect="non-scaling-stroke"/>
<path d="M-0.924 0.382A1 1 0 0 1 0.908 -0.419" transform="matrix(6.69 -1.62 -2.93 -4.07 188.8 74.84)" vector-effect="non-scaling-stroke"/>
<path d="M-0.908 0.419A1 1 0 1 1 0.924 -0.382" transform="matrix(6.69 -1.62 -2.93 -4.07 188.8 74.16)" vector-effect="non-scaling-stroke"/>
<path d="M-0.89 0.456A1 1 0 1 1 0.939 -0.344" transform="matrix(6.65 -1.61 -2.91 -4.04 188.8 73.47)" vector-effect="non-scaling-stroke"/>
<path d="M-0.87 0.494A1 1 0 1 1 0.953 -0.304" transform="matrix(6.56 -1.59 -2.87 -3.99 188.8 72.78)" vector-effect="non-scaling-stroke"/>
<path d="M-0.847 0.532A1 1 0 1 1 0.965 -0.26" transform="matrix(6.43 -1.55 -2.81 -3.91 188.8 72.09)" vector-effect="non-scaling-stroke"/>
<path d="M-0.82 0.573A1 1 0 1 1 0.977 -0.213" transform="matrix(6.25 -1.51 -2.73 -3.8 188.8 71.4)" vector-effect="non-scaling-stroke"/>
<path d="M-0.787 0.617A1 1 0 1 1 0.987 -0.16" transform="matrix(6.01 -1.45 -2.63 -3.65 188.8 70.71)" vector-effect="non-scaling-stroke"/>
<path d="M-0.747 0.665A1 1 0 1 1 0.995 -0.097" transform="matrix(5.72 -1.38 -2.5 -3.48 188.8 70.03)" vector-effect="non-scaling-stroke"/>
<path d="M-0.694 0.72A1 1 0 1 1 1 -0.021" transform="matrix(5.36 -1.29 -2.34 -3.25 188.8 69.34)" vector-effect="non-scaling-stroke"/>
<path d="M-0.619 0.786A1 1 0 1 1 0.997 0.079" transform="matrix(4.91 -1.19 -2.15 -2.98 188.8 68.65)" vector-effect="non-scaling-stroke"/>
<path d="M-0.498 0.867A1 1 0 1 1 0.975 0.223" transform="matrix(4.35 -1.05 -1.9 -2.64 188.8 67.96)" vector-effect="non-scaling-stroke"/>
<path d="M-0.249 0.969A1 1 0 1 1 0.88 0.475" transform="matrix(3.63 -0.88 -1.59 -2.21 188.8 67.27)" vector-effect="non-scaling-stroke"/>
<circle r="1" transform="matrix(2.62 -0.63 -1.15 -1.59 188.8 66.59)" vector-effect="non-scaling-stroke"/>
<path d="M0.785 0.619A1 1 0 0 1 0 1" transform="matrix(6.7 -1.62 0 -8.6 188.8 74.5)" vector-effect="non-scaling-stroke"/>
<path d="M0.676 0.736A1 1 0 0 1 0 1" transform="matrix(6.09 -2.3 0 -8.6 188.8 74.5)" vector-effect="non-scaling-stroke"/>
<path d="M0.593 0.805A1 1 0 0 1 0 1" transform="matrix(5.29 -2.91 0 -8.6 188.8 74.5)" vector-effect="non-scaling-stroke"/>
<path d="M0.534 0.845A1 1 0 0 1 0 1" transform="matrix(4.33 -3.44 0 -8.6 188.8 74.5)" vector-effect="non-scaling-stroke"/>
<path d="M0.494 0.87A1 1 0 0 1 0 1" transform="matrix(3.25 -3.85 0 -8.6 188.8 74.5)" vector-effect="non-scaling-stroke"/>
<path d="M0.468 0.883A1 1 0 0 1 0 1" transform="matrix(2.06 -4.16 0 -8.6 188.8 74.5)" vector-effect="non-scaling-stroke"/>
<path d="M0.456 0.89A1 1 0 0 1 0 1" transform="matrix(0.81 -4.33 0 -8.6 188.8 74.5)" vector-effect="non-scaling-stroke"/>
<path d="M0.454 0.891A1 1 0 0 1 0 1" transform="matrix(-0.46 -4.38 0 -8.6 188.8 74.5)" vector-effect="non-scaling-stroke"/>
<path d="M0.464 0.886A1 1 0 0 1 0 1" transform="matrix(-1.72 -4.29 0 -8.6 188.8 74.5)" vector-effect="non-scaling-stroke"/>
<path d="M0.485 0.874A1 1 0 0 1 0 1" transform="matrix(-2.93 -4.07 0 -8.6 188.8 74.5)" vector-effect="non-scaling-stroke"/>
<path d="M0.521 0.853A1 1 0 0 1 0 1" transform="matrix(-4.05 -3.73 0 -8.6 188.8 74.5)" vector-effect="non-scaling-stroke"/>
<path d="M0.575 0.818A1 1 0 0 1 0 1" transform="matrix(-5.04 -3.27 0 -8.6 188.8 74.5)" vector-effect="non-scaling-stroke"/>
<path d="M0.651 0.759A1 1 0 0 1 0 1" transform="matrix(-5.89 -2.71 0 -8.6 188.8 74.5)" vector-effect="non-scaling-stroke"/>
<path d="M0.753 0.658A1 1 0 0 1 0 1" transform="matrix(-6.55 -2.08 0 -8.6 188.8 74.5)" vector-effect="non-scaling-stroke"/>
<path d="M0.875 0.485A1 1 0 0 1 0 1" transform="matrix(-7.01 -1.38 0 -8.6 188.8 74.5)" vector-effect="non-scaling-stroke"/>
<path d="M0.977 0.213A1 1 0 0 1 0 1" transform="matrix(-7.26 -0.63 0 -8.6 188.8 74.5)" vector-effect="non-scaling-stroke"/>
<path d="M0.992 -0.123A1 1 0 0 1 0 1" transform="matrix(-7.29 0.13 0 -8.6 188.8 74.5)" vector-effect="non-scaling-stroke"/>
<path d="M0.907 -0.42A1 1 0 0 1 0 1" transform="matrix(-7.1 0.89 0 -8.6 188.8 74.5)" vector-effect="non-scaling-stroke"/>
<path d="M0.785 -0.619A1 1 0 0 1 0 1" transform="matrix(-6.7 1.62 0 -8.6 188.8 74.5)" vector-effect="non-scaling-stroke"/>
<path d="M0.676 -0.736A1 1 0 0 1 0 1" transform="matrix(-6.09 2.3 0 -8.6 188.8 74.5)" vector-effect="non-scaling-stroke"/>
<path d="M0.593 -0.805A1 1 0 0 1 0 1" transform="matrix(-5.29 2.91 0 -8.6 188.8 74.5)" vector-effect="non-scaling-stroke"/>
<path d="M0.534 -0.845A1 1 0 0 1 0 1" transform="matrix(-4.33 3.44 0 -8.6 188.8 74.5)" vector-effect="non-scaling-stroke"/>
<path d="M0.494 -0.87A1 1 0 0 1 0 1" transform="matrix(-3.25 3.85 0 -8.6 188.8 74.5)" vector-effect="non-scaling-stroke"/>
<path d="M0.468 -0.883A1 1 0 0 1 0 1" transform="matrix(-2.06 4.16 0 -8.6 188.8 74.5)" vector-effect="non-scaling-stroke"/>
<path d="M0.456 -0.89A1 1 0 0 1 0 1" transform="matrix(-0.81 4.33 0 -8.6 188.8 74.5)" vector-effect="non-scaling-stroke"/>
<path d="M0.454 -0.891A1 1 0 0 1 0 1" transform="matrix(0.46 4.38 0 -8.6 188.8 74.5)" vector-effect="non-scaling-stroke"/>
<path d="M0.464 -0.886A1 1 0 0 1 0 1" transform="matrix(1.72 4.29 0 -8.6 188.8 74.5)" vector-effect="non-scaling-stroke"/>
<path d="M0.485 -0.874A1 1 0 0 1 0 1" transform="matrix(2.93 4.07 0 -8.6 188.8 74.5)" vector-effect="non-scaling-stroke"/>
<path d="M0.521 -0.853A1 1 0 0 1 0 1" transform="matrix(4.05 3.73 0 -8.6 188.8 74.5)" vector-effect="non-scaling-stroke"/>
<path d="M0.575 -0.818A1 1 0 0 1 0 1" transform="matrix(5.04 3.27 0 -8.6 188.8 74.5)" vector-effect="non-scaling-stroke"/>
<path d="M0.651 -0.759A1 1 0 0 1 0 1" transform="matrix(5.89 2.71 0 -8.6 188.8 74.5)" vector-effect="non-scaling-stroke"/>
<path d="M0.753 -0.658A1 1 0 0 1 0 1" transform="matrix(6.55 2.08 0 -8.6 188.8 74.5)" vector-effect="non-scaling-stroke"/>
<path d="M0.875 -0.485A1 1 0 0 1 0 1" transform="matrix(7.01 1.38 0 -8.6 188.8 74.5)" vector-effect="non-scaling-stroke"/>
<path d="M0.977 -0.213A1 1 0 0 1 0 1" transform="matrix(7.26 0.63 0 -8.6 188.8 74.5)" vector-effect="non-scaling-stroke"/>
<path d="M0.992 0.123A1 1 0 0 1 0 1" transform="matrix(7.29 -0.13 0 -8.6 188.8 74.5)" vector-effect="non-scaling-stroke"/>
<path d="M0.907 0.42A1 1 0 0 1 0 1" transform="matrix(7.1 -0.89 0 -8.6 188.8 74.5)" vector-effect="non-scaling-stroke"/>
</g>
<circle r="1" transform="matrix(1.34 -0.32 -0.59 -0.81 188.8 66.03)" fill="#100000"/>
<circle r="1" transform="matrix(-7.31 -0.15 0 9.65 188.8 74.5)" fill="none" stroke="#200" stroke-width="0.45" vector-effect="non-scaling-stroke"/>
</g>
<g>
<circle r="1" transform="matrix(-4.4 -0.09 0 5.81 146.3 91)" fill="url(#sg)" fill-opacity="1.0" stroke="none"/>
<g fill="none" stroke="#000" stroke-width="0.17" vector-effect="non-scaling-stroke">
<path d="M-0.88 -0.475A1 1 0 0 1 0.249 -0.969" transform="matrix(2.19 -0.53 -0.96 -1.33 146.3 95.35)" vector-effect="non-scaling-stroke"/>
<path d="M-0.975 -0.223A1 1 0 0 1 0.498 -0.867" transform="matrix(2.62 -0.63 -1.15 -1.59 146.3 94.94)" vector-effect="non-scaling-stroke"/>
<path d="M-0.997 -0.079A1 1 0 0 1 0.619 -0.786" transform="matrix(2.96 -0.71 -1.29 -1.8 146.3 94.52)" vector-effect="non-scaling-stroke"/>
<path d="M-1 0.021A1 1 0 0 1 0.694 -0.72" transform="matrix(3.23 -0.78 -1.41 -1.96 146.3 94.11)" vector-effect="non-scaling-stroke"/>
<path d="M-0.995 0.097A1 1 0 0 1 0.747 -0.665" transform="matrix(3.44 -0.83 -1.51 -2.09 146.3 93.69)" vector-effect="non-scaling-stroke"/>
<path d="M-0.987 0.16A1 1 0 0 1 0.787 -0.617" transform="matrix(3.62 -0.88 -1.58 -2.2 146.3 93.28)" vector-effect="non-scaling-stroke"/>
<path d="M-0.977 0.213A1 1 0 0 1 0.82 -0.573" transform="matrix(3.76 -0.91 -1.65 -2.29 146.3 92.86)" vector-effect="non-scaling-stroke"/>
<path d="M-0.965 0.26A1 1 0 0 1 0.847 -0.532" transform="matrix(3.87 -0.94 -1.69 -2.35 146.3 92.45)" vector-effect="non-scaling-stroke"/>
<path d="M-0.953 0.304A1 1 0 0 1 0.87 -0.494" transform="matrix(3.95 -0.95 -1.73 -2.4 146.3 92.04)" vector-effect="non-scaling-stroke"/>
<path d="M-0.939 0.344A1 1 0 0 1 0.89 -0.456" transform="matrix(4 -0.97 -1.75 -2.43 146.3 91.62)" vector-effect="non-scaling-stroke"/>
<path d="M-0.924 0.382A1 1 0 0 1 0.908 -0.419" transform="matrix(4.03 -0.97 -1.76 -2.45 146.3 91.21)" vector-effect="non-scaling-stroke"/>
<path d="M-0.908 0.419A1 1 0 1 1 0.924 -0.382" transform="matrix(4.03 -0.97 -1.76 -2.45 146.3 90.79)" vector-effect="non-scaling-stroke"/>
<path d="M-0.89 0.456A1 1 0 1 1 0.939 -0.344" transform="matrix(4 -0.97 -1.75 -2.43 146.3 90.38)" vector-effect="non-scaling-stroke"/>
<path d="M-0.87 0.494A1 1 0 1 1 0.953 -0.304" transform="matrix(3.95 -0.95 -1.73 -2.4 146.3 89.96)" vector-effect="non-scaling-stroke"/>
<path d="M-0.847 0.532A1 1 0 1 1 0.965 -0.26" transform="matrix(3.87 -0.94 -1.69 -2.35 146.3 89.55)" vector-effect="non-scaling-stroke"/>
<path d="M-0.82 0.573A1 1 0 1 1 0.977 -0.213" transform="matrix(3.76 -0.91 -1.65 -2.29 146.3 89.14)" vector-effect="non-scaling-stroke"/>
<path d="M-0.787 0.617A1 1 0 1 1 0.987 -0.16" transform="matrix(3.62 -0.88 -1.58 -2.2 146.3 88.72)" vector-effect="non-scaling-stroke"/>
<path d="M-0.747 0.665A1 1 0 1 1 0.995 -0.097" transform="matrix(3.44 -0.83 -1.51 -2.09 146.3 88.31)" vector-effect="non-scaling-stroke"/>
<path d="M-0.694 0.72A1 1 0 1 1 1 -0.021" transform="matrix(3.23 -0.78 -1.41 -1.96 146.3 87.89)" vector-effect="non-scaling-stroke"/>
<path d="M-0.619 0.786A1 1 0 1 1 0.997 0.079" transform="matrix(2.96 -0.71 -1.29 -1.8 146.3 87.48)" vector-effect="non-scaling-stroke"/>
<path d="M-0.498 0.867A1 1 0 1 1 0.975 0.223" transform="matrix(2.62 -0.63 -1.15 -1.59 146.3 87.06)" vector-effect="non-scaling-stroke"/>
<path d="M-0.249 0.969A1 1 0 1 1 0.88 0.475" transform="matrix(2.19 -0.53 -0.96 -1.33 146.3 86.65)" vector-effect="non-scaling-stroke"/>
<circle r="1" transform="matrix(1.58 -0.38 -0.69 -0.96 146.3 86.23)" vector-effect="non-scaling-stroke"/>
<path d="M0.785 0.619A1 1 0 0 1 0 1" transform="matrix(4.03 -0.97 0 -5.18 146.3 91)" vector-effect="non-scaling-stroke"/>
<path d="M0.676 0.736A1 1 0 0 1 0 1" transform="matrix(3.66 -1.39 0 -5.18 146.3 91)" vector-effect="non-scaling-stroke"/>
<path d="M0.593 0.805A1 1 0 0 1 0 1" transform="matrix(3.19 -1.75 0 -5.18 146.3 91)" vector-effect="non-scaling-stroke"/>
<path d="M0.534 0.845A1 1 0 0 1 0 1" transform="matrix(2.61 -2.07 0 -5.18 146.3 91)" vector-effect="non-scaling-stroke"/>
<path d="M0.494 0.87A1 1 0 0 1 0 1" transform="matrix(1.95 -2.32 0 -5.18 146.3 91)" vector-effect="non-scaling-stroke"/>
<path d="M0.468 0.883A1 1 0 0 1 0 1" transform="matrix(1.24 -2.5 0 -5.18 146.3 91)" vector-effect="non-scaling-stroke"/>
<path d="M0.456 0.89A1 1 0 0 1 0 1" transform="matrix(0.49 -2.61 0 -5.18 146.3 91)" vector-effect="non-scaling-stroke"/>
<path d="M0.454 0.891A1 1 0 0 1 0 1" transform="matrix(-0.28 -2.64 0 -5.18 146.3 91)" vector-effect="non-scaling-stroke"/>
<path d="M0.464 0.886A1 1 0 0 1 0 1" transform="matrix(-1.04 -2.58 0 -5.18 146.3 91)" vector-effect="non-scaling-stroke"/>
<path d="M0.485 0.874A1 1 0 0 1 0 1" transform="matrix(-1.76 -2.45 0 -5.18 146.3 91)" vector-effect="non-scaling-stroke"/>
<path d="M0.521 0.853A1 1 0 0 1 0 1" transform="matrix(-2.44 -2.24 0 -5.18 146.3 91)" vector-effect="non-scaling-stroke"/>
<path d="M0.575 0.818A1 1 0 0 1 0 1" transform="matrix(-3.04 -1.97 0 -5.18 146.3 91)" vector-effect="non-scaling-stroke"/>
<path d="M0.651 0.759A1 1 0 0 1 0 1" transform="matrix(-3.54 -1.63 0 -5.18 146.3 91)" vector-effect="non-scaling-stroke"/>
<path d="M0.753 0.658A1 1 0 0 1 0 1" transform="matrix(-3.94 -1.25 0 -5.18 146.3 91)" vector-effect="non-scaling-stroke"/>
<path d="M0.875 0.485A1 1 0 0 1 0 1" transform="matrix(-4.22 -0.83 0 -5.18 146.3 91)" vector-effect="non-scaling-stroke"/>
<path d="M0.977 0.213A1 1 0 0 1 0 1" transform="matrix(-4.37 -0.38 0 -5.18 146.3 91)" vector-effect="non-scaling-stroke"/>
<path d="M0.992 -0.123A1 1 0 0 1 0 1" transform="matrix(-4.39 0.08 0 -5.18 146.3 91)" vector-effect="non-scaling-stroke"/>
<path d="M0.907 -0.42A1 1 0 0 1 0 1" transform="matrix(-4.28 0.53 0 -5.18 146.3 91)" vector-effect="non-scaling-stroke"/>
<path d="M0.785 -0.619A1 1 0 0 1 0 1" transform="matrix(-4.03 0.97 0 -5.18 146.3 91)" vector-effect="non-scaling-stroke"/>
<path d="M0.676 -0.736A1 1 0 0 1 0 1" transform="matrix(-3.66 1.39 0 -5.18 146.3 91)" vector-effect="non-scaling-stroke"/>
<path d="M0.593 -0.805A1 1 0 0 1 0 1" transform="matrix(-3.19 1.75 0 -5.18 146.3 91)" vector-effect="non-scaling-stroke"/>
<path d="M0.534 -0.845A1 1 0 0 1 0 1" transform="matrix(-2.61 2.07 0 -5.18 146.3 91)" vector-effect="non-scaling-stroke"/>
<path d="M0.494 -0.87A1 1 0 0 1 0 1" transform="matrix(-1.95 2.32 0 -5.18 146.3 91)" vector-effect="non-scaling-stroke"/>
<path d="M0.468 -0.883A1 1 0 0 1 0 1" transform="matrix(-1.24 2.5 0 -5.18 146.3 91)" vector-effect="non-scaling-stroke"/>
<path d="M0.456 -0.89A1 1 0 0 1 0 1" transform="matrix(-0.49 2.61 0 -5.18 146.3 91)" vector-effect="non-scaling-stroke"/>
<path d="M0.454 -0.891A1 1 0 0 1 0 1" transform="matrix(0.28 2.64 0 -5.18 146.3 91)" vector-effect="non-scaling-stroke"/>
<path d="M0.464 -0.886A1 1 0 0 1 0 1" transform="matrix(1.04 2.58 0 -5.18 146.3 91)" vector-effect="non-scaling-stroke"/>
<path d="M0.485 -0.874A1 1 0 0 1 0 1" transform="matrix(1.76 2.45 0 -5.18 146.3 91)" vector-effect="non-scaling-stroke"/>
<path d="M0.521 -0.853A1 1 0 0 1 0 1" transform="matrix(2.44 2.24 0 -5.18 146.3 91)" vector-effect="non-scaling-stroke"/>
<path d="M0.575 -0.818A1 1 0 0 1 0 1" transform="matrix(3.04 1.97 0 -5.18 146.3 91)" vector-effect="non-scaling-stroke"/>
<path d="M0.651 -0.759A1 1 0 0 1 0 1" transform="matrix(3.54 1.63 0 -5.18 146.3 91)" vector-effect="non-scaling-stroke"/>
<path d="M0.753 -0.658A1 1 0 0 1 0 1" transform="matrix(3.94 1.25 0 -5.18 146.3 91)" vector-effect="non-scaling-stroke"/>
<path d="M0.875 -0.485A1 1 0 0 1 0 1" transform="matrix(4.22 0.83 0 -5.18 146.3 91)" vector-effect="non-scaling-stroke"/>
<path d="M0.977 -0.213A1 1 0 0 1 0 1" transform="matrix(4.37 0.38 0 -5.18 146.3 91)" vector-effect="non-scaling-stroke"/>
<path d="M0.992 0.123A1 1 0 0 1 0 1" transform="matrix(4.39 -0.08 0 -5.18 146.3 91)" vector-effect="non-scaling-stroke"/>
<path d="M0.907 0.42A1 1 0 0 1 0 1" transform="matrix(4.28 -0.53 0 -5.18 146.3 91)" vector-effect="non-scaling-stroke"/>
</g>
<circle r="1" transform="matrix(0.81 -0.19 -0.35 -0.49 146.3 85.9)" fill="#100000"/>
<circle r="1" transform="matrix(-4.4 -0.09 0 5.81 146.3 91)" fill="none" stroke="#200" stroke-width="0.45" vector-effect="non-scaling-stroke"/>
</g>
<g>
<circle r="1" transform="matrix(-5.5 -0.11 0 7.26 148.8 83.8)" fill="url(#sg)" fill-opacity="1.0" stroke="none"/>
<g fill="none" stroke="#000" stroke-width="0.17" vector-effect="non-scaling-stroke">
<path d="M-0.88 -0.475A1 1 0 0 1 0.249 -0.969" transform="matrix(2.73 -0.66 -1.2 -1.66 148.8 89.24)" vector-effect="non-scaling-stroke"/>
<path d="M-0.975 -0.223A1 1 0 0 1 0.498 -0.867" transform="matrix(3.28 -0.79 -1.43 -1.99 148.8 88.72)" vector-effect="non-scaling-stroke"/>
<path d="M-0.997 -0.079A1 1 0 0 1 0.619 -0.786" transform="matrix(3.7 -0.89 -1.62 -2.25 148.8 88.2)" vector-effect="non-scaling-stroke"/>
<path d="M-1 0.021A1 1 0 0 1 0.694 -0.72" transform="matrix(4.03 -0.97 -1.76 -2.45 148.8 87.69)" vector-effect="non-scaling-stroke"/>
<path d="M-0.995 0.097A1 1 0 0 1 0.747 -0.665" transform="matrix(4.3 -1.04 -1.88 -2.62 148.8 87.17)" vector-effect="non-scaling-stroke"/>
<path d="M-0.987 0.16A1 1 0 0 1 0.787 -0.617" transform="matrix(4.53 -1.09 -1.98 -2.75 148.8 86.65)" vector-effect="non-scaling-stroke"/>
<path d="M-0.977 0.213A1 1 0 0 1 0.82 -0.573" transform="matrix(4.7 -1.14 -2.06 -2.86 148.8 86.13)" vector-effect="non-scaling-stroke"/>
<path d="M-0.965 0.26A1 1 0 0 1 0.847 -0.532" transform="matrix(4.84 -1.17 -2.12 -2.94 148.8 85.61)" vector-effect="non-scaling-stroke"/>
<path d="M-0.953 0.304A1 1 0 0 1 0.87 -0.494" transform="matrix(4.94 -1.19 -2.16 -3 148.8 85.09)" vector-effect="non-scaling-stroke"/>
<path d="M-0.939 0.344A1 1 0 0 1 0.89 -0.456" transform="matrix(5 -1.21 -2.19 -3.04 148.8 84.58)" vector-effect="non-scaling-stroke"/>
<path d="M-0.924 0.382A1 1 0 0 1 0.908 -0.419" transform="matrix(5.04 -1.22 -2.2 -3.06 148.8 84.06)" vector-effect="non-scaling-stroke"/>
<path d="M-0.908 0.419A1 1 0 1 1 0.924 -0.382" transform="matrix(5.04 -1.22 -2.2 -3.06 148.8 83.54)" vector-effect="non-scaling-stroke"/>
<path d="M-0.89 0.456A1 1 0 1 1 0.939 -0.344" transform="matrix(5 -1.21 -2.19 -3.04 148.8 83.02)" vector-effect="non-scaling-stroke"/>
<path d="M-0.87 0.494A1 1 0 1 1 0.953 -0.304" transform="matrix(4.94 -1.19 -2.16 -3 148.8 82.5)" vector-effect="non-scaling-stroke"/>
<path d="M-0.847 0.532A1 1 0 1 1 0.965 -0.26" transform="matrix(4.84 -1.17 -2.12 -2.94 148.8 81.99)" vector-effect="non-scaling-stroke"/>
<path d="M-0.82 0.573A1 1 0 1 1 0.977 -0.213" transform="matrix(4.7 -1.14 -2.06 -2.86 148.8 81.47)" vector-effect="non-scaling-stroke"/>
<path d="M-0.787 0.617A1 1 0 1 1 0.987 -0.16" transform="matrix(4.53 -1.09 -1.98 -2.75 148.8 80.95)" vector-effect="non-scaling-stroke"/>
<path d="M-0.747 0.665A1 1 0 1 1 0.995 -0.097" transform="matrix(4.3 -1.04 -1.88 -2.62 148.8 80.43)" vector-effect="non-scaling-stroke"/>
<path d="M-0.694 0.72A1 1 0 1 1 1 -0.021" transform="matrix(4.03 -0.97 -1.76 -2.45 148.8 79.91)" vector-effect="non-scaling-stroke"/>
<path d="M-0.619 0.786A1 1 0 1 1 0.997 0.079" transform="matrix(3.7 -0.89 -1.62 -2.25 148.8 79.4)" vector-effect="non-scaling-stroke"/>
<path d="M-0.498 0.867A1 1 0 1 1 0.975 0.223" transform="matrix(3.28 -0.79 -1.43 -1.99 148.8 78.88)" vector-effect="non-scaling-stroke"/>
<path d="M-0.249 0.969A1 1 0 1 1 0.88 0.475" transform="matrix(2.73 -0.66 -1.2 -1.66 148.8 78.36)" vector-effect="non-scaling-stroke"/>
<circle r="1" transform="matrix(1.98 -0.48 -0.86 -1.2 148.8 77.84)" vector-effect="non-scaling-stroke"/>
<path d="M0.785 0.619A1 1 0 0 1 0 1" transform="matrix(5.04 -1.22 0 -6.47 148.8 83.8)" vector-effect="non-scaling-stroke"/>
<path d="M0.676 0.736A1 1 0 0 1 0 1" transform="matrix(4.58 -1.73 0 -6.47 148.8 83.8)" vector-effect="non-scaling-stroke"/>
<path d="M0.593 0.805A1 1 0 0 1 0 1" transform="matrix(3.98 -2.19 0 -6.47 148.8 83.8)" vector-effect="non-scaling-stroke"/>
<path d="M0.534 0.845A1 1 0 0 1 0 1" transform="matrix(3.26 -2.59 0 -6.47 148.8 83.8)" vector-effect="non-scaling-stroke"/>
<path d="M0.494 0.87A1 1 0 0 1 0 1" transform="matrix(2.44 -2.9 0 -6.47 148.8 83.8)" vector-effect="non-scaling-stroke"/>
<path d="M0.468 0.883A1 1 0 0 1 0 1" transform="matrix(1.55 -3.13 0 -6.47 148.8 83.8)" vector-effect="non-scaling-stroke"/>
<path d="M0.456 0.89A1 1 0 0 1 0 1" transform="matrix(0.61 -3.26 0 -6.47 148.8 83.8)" vector-effect="non-scaling-stroke"/>
<path d="M0.454 0.891A1 1 0 0 1 0 1" transform="matrix(-0.35 -3.29 0 -6.47 148.8 83.8)" vector-effect="non-scaling-stroke"/>
<path d="M0.464 0.886A1 1 0 0 1 0 1" transform="matrix(-1.3 -3.23 0 -6.47 148.8 83.8)" vector-effect="non-scaling-stroke"/>
<path d="M0.485 0.874A1 1 0 0 1 0 1" transform="matrix(-2.2 -3.06 0 -6.47 148.8 83.8)" vector-effect="non-scaling-stroke"/>
<path d="M0.521 0.853A1 1 0 0 1 0 1" transform="matrix(-3.05 -2.8 0 -6.47 148.8 83.8)" vector-effect="non-scaling-stroke"/>
<path d="M0.575 0.818A1 1 0 0 1 0 1" transform="matrix(-3.8 -2.46 0 -6.47 148.8 83.8)" vector-effect="non-scaling-stroke"/>
<path d="M0.651 0.759A1 1 0 0 1 0 1" transform="matrix(-4.43 -2.04 0 -6.47 148.8 83.8)" vector-effect="non-scaling-stroke"/>
<path d="M0.753 0.658A1 1 0 0 1 0 1" transform="matrix(-4.93 -1.56 0 -6.47 148.8 83.8)" vector-effect="non-scaling-stroke"/>
<path d="M0.875 0.485A1 1 0 0 1 0 1" transform="matrix(-5.28 -1.04 0 -6.47 148.8 83.8)" vector-effect="non-scaling-stroke"/>
<path d="M0.977 0.213A1 1 0 0 1 0 1" transform="matrix(-5.47 -0.48 0 -6.47 148.8 83.8)" vector-effect="non-scaling-stroke"/>
<path d="M0.992 -0.123A1 1 0 0 1 0 1" transform="matrix(-5.49 0.1 0 -6.47 148.8 83.8)" vector-effect="non-scaling-stroke"/>
<path d="M0.907 -0.42A1 1 0 0 1 0 1" transform="matrix(-5.35 0.67 0 -6.47 148.8 83.8)" vector-effect="non-scaling-stroke"/>
<path d="M0.785 -0.619A1 1 0 0 1 0 1" transform="matrix(-5.04 1.22 0 -6.47 148.8 83.8)" vector-effect="non-scaling-stroke"/>
<path d="M0.676 -0.736A1 1 0 0 1 0 1" transform="matrix(-4.58 1.73 0 -6.47 148.8 83.8)" vector-effect="non-scaling-stroke"/>
<path d="M0.593 -0.805A1 1 0 0 1 0 1" transform="matrix(-3.98 2.19 0 -6.47 148.8 83.8)" vector-effect="non-scaling-stroke"/>
<path d="M0.534 -0.845A1 1 0 0 1 0 1" transform="matrix(-3.26 2.59 0 -6.47 148.8 83.8)" vector-effect="non-scaling-stroke"/>
<path d="M0.494 -0.87A1 1 0 0 1 0 1" transform="matrix(-2.44 2.9 0 -6.47 148.8 83.8)" vector-effect="non-scaling-stroke"/>
<path d="M0.468 -0.883A1 1 0 0 1 0 1" transform="matrix(-1.55 3.13 0 -6.47 148.8 83.8)" vector-effect="non-scaling-stroke"/>
<path d="M0.456 -0.89A1 1 0 0 1 0 1" transform="matrix(-0.61 3.26 0 -6.47 148.8 83.8)" vector-effect="non-scaling-stroke"/>
<path d="M0.454 -0.891A1 1 0 0 1 0 1" transform="matrix(0.35 3.29 0 -6.47 148.8 83.8)" vector-effect="non-scaling-stroke"/>
<path d="M0.464 -0.886A1 1 0 0 1 0 1" transform="matrix(1.3 3.23 0 -6.47 148.8 83.8)" vector-effect="non-scaling-stroke"/>
<path d="M0.485 -0.874A1 1 0 0 1 0 1" transform="matrix(2.2 3.06 0 -6.47 148.8 83.8)" vector-effect="non-scaling-stroke"/>
<path d="M0.521 -0.853A1 1 0 0 1 0 1" transform="matrix(3.05 2.8 0 -6.47 148.8 83.8)" vector-effect="non-scaling-stroke"/>
<path d="M0.575 -0.818A1 1 0 0 1 0 1" transform="matrix(3.8 2.46 0 -6.47 148.8 83.8)" vector-effect="non-scaling-stroke"/>
<path d="M0.651 -0.759A1 1 0 0 1 0 1" transform="matrix(4.43 2.04 0 -6.47 148.8 83.8)" vector-effect="non-scaling-stroke"/>
<path d="M0.753 -0.658A1 1 0 0 1 0 1" transform="matrix(4.93 1.56 0 -6.47 148.8 83.8)" vector-effect="non-scaling-stroke"/>
<path d="M0.875 -0.485A1 1 0 0 1 0 1" transform="matrix(5.28 1.04 0 -6.47 148.8 83.8)" vector-effect="non-scaling-stroke"/>
<path d="M0.977 -0.213A1 1 0 0 1 0 1" transform="matrix(5.47 0.48 0 -6.47 148.8 83.8)" vector-effect="non-scaling-stroke"/>
<path d="M0.992 0.123A1 1 0 0 1 0 1" transform="matrix(5.49 -0.1 0 -6.47 148.8 83.8)" vector-effect="non-scaling-stroke"/>
<path d="M0.907 0.42A1 1 0 0 1 0 1" transform="matrix(5.35 -0.67 0 -6.47 148.8 83.8)" vector-effect="non-scaling-stroke"/>
</g>
<circle r="1" transform="matrix(1.01 -0.24 -0.44 -0.61 148.8 77.42)" fill="#100000"/>
<circle r="1" transform="matrix(-5.5 -0.11 0 7.26 148.8 83.8)" fill="none" stroke="#200" stroke-width="0.45" vector-effect="non-scaling-stroke"/>
</g>
<g>
<circle r="1" transform="matrix(-9.9 -0.2 0 13.08 102.4 85.2)" fill="url(#sg)" fill-opacity="1.0" stroke="none"/>
<g fill="none" stroke="#000" stroke-width="0.1" vector-effect="non-scaling-stroke">
<path d="M-0.88 -0.475A1 1 0 0 1 0.249 -0.969" transform="matrix(4.92 -1.19 -2.15 -2.99 102.4 94.99)" vector-effect="non-scaling-stroke"/>
<path d="M-0.975 -0.223A1 1 0 0 1 0.498 -0.867" transform="matrix(5.9 -1.42 -2.58 -3.58 102.4 94.06)" vector-effect="non-scaling-stroke"/>
<path d="M-0.997 -0.079A1 1 0 0 1 0.619 -0.786" transform="matrix(6.65 -1.61 -2.91 -4.04 102.4 93.13)" vector-effect="non-scaling-stroke"/>
<path d="M-1 0.021A1 1 0 0 1 0.694 -0.72" transform="matrix(7.26 -1.75 -3.18 -4.41 102.4 92.19)" vector-effect="non-scaling-stroke"/>
<path d="M-0.995 0.097A1 1 0 0 1 0.747 -0.665" transform="matrix(7.75 -1.87 -3.39 -4.71 102.4 91.26)" vector-effect="non-scaling-stroke"/>
<path d="M-0.987 0.16A1 1 0 0 1 0.787 -0.617" transform="matrix(8.15 -1.97 -3.56 -4.95 102.4 90.33)" vector-effect="non-scaling-stroke"/>
<path d="M-0.977 0.213A1 1 0 0 1 0.82 -0.573" transform="matrix(8.46 -2.05 -3.7 -5.14 102.4 89.4)" vector-effect="non-scaling-stroke"/>
<path d="M-0.965 0.26A1 1 0 0 1 0.847 -0.532" transform="matrix(8.71 -2.1 -3.81 -5.29 102.4 88.46)" vector-effect="non-scaling-stroke"/>
<path d="M-0.953 0.304A1 1 0 0 1 0.87 -0.494" transform="matrix(8.89 -2.15 -3.89 -5.4 102.4 87.53)" vector-effect="non-scaling-stroke"/>
<path d="M-0.939 0.344A1 1 0 0 1 0.89 -0.456" transform="matrix(9.01 -2.18 -3.94 -5.47 102.4 86.6)" vector-effect="non-scaling-stroke"/>
<path d="M-0.924 0.382A1 1 0 0 1 0.908 -0.419" transform="matrix(9.06 -2.19 -3.97 -5.51 102.4 85.67)" vector-effect="non-scaling-stroke"/>
<path d="M-0.908 0.419A1 1 0 1 1 0.924 -0.382" transform="matrix(9.06 -2.19 -3.97 -5.51 102.4 84.73)" vector-effect="non-scaling-stroke"/>
<path d="M-0.89 0.456A1 1 0 1 1 0.939 -0.344" transform="matrix(9.01 -2.18 -3.94 -5.47 102.4 83.8)" vector-effect="non-scaling-stroke"/>
<path d="M-0.87 0.494A1 1 0 1 1 0.953 -0.304" transform="matrix(8.89 -2.15 -3.89 -5.4 102.4 82.87)" vector-effect="non-scaling-stroke"/>
<path d="M-0.847 0.532A1 1 0 1 1 0.965 -0.26" transform="matrix(8.71 -2.1 -3.81 -5.29 102.4 81.94)" vector-effect="non-scaling-stroke"/>
<path d="M-0.82 0.573A1 1 0 1 1 0.977 -0.213" transform="matrix(8.46 -2.05 -3.7 -5.14 102.4 81)" vector-effect="non-scaling-stroke"/>
<path d="M-0.787 0.617A1 1 0 1 1 0.987 -0.16" transform="matrix(8.15 -1.97 -3.56 -4.95 102.4 80.07)" vector-effect="non-scaling-stroke"/>
<path d="M-0.747 0.665A1 1 0 1 1 0.995 -0.097" transform="matrix(7.75 -1.87 -3.39 -4.71 102.4 79.14)" vector-effect="non-scaling-stroke"/>
<path d="M-0.694 0.72A1 1 0 1 1 1 -0.021" transform="matrix(7.26 -1.75 -3.18 -4.41 102.4 78.21)" vector-effect="non-scaling-stroke"/>
<path d="M-0.619 0.786A1 1 0 1 1 0.997 0.079" transform="matrix(6.65 -1.61 -2.91 -4.04 102.4 77.27)" vector-effect="non-scaling-stroke"/>
<path d="M-0.498 0.867A1 1 0 1 1 0.975 0.223" transform="matrix(5.9 -1.42 -2.58 -3.58 102.4 76.34)" vector-effect="non-scaling-stroke"/>
<path d="M-0.249 0.969A1 1 0 1 1 0.88 0.475" transform="matrix(4.92 -1.19 -2.15 -2.99 102.4 75.41)" vector-effect="non-scaling-stroke"/>
<circle r="1" transform="matrix(3.56 -0.86 -1.56 -2.16 102.4 74.48)" vector-effect="non-scaling-stroke"/>
<path d="M0.785 0.619A1 1 0 0 1 0 1" transform="matrix(9.07 -2.19 0 -11.65 102.4 85.2)" vector-effect="non-scaling-stroke"/>
<path d="M0.676 0.736A1 1 0 0 1 0 1" transform="matrix(8.24 -3.12 0 -11.65 102.4 85.2)" vector-effect="non-scaling-stroke"/>
<path d="M0.593 0.805A1 1 0 0 1 0 1" transform="matrix(7.17 -3.95 0 -11.65 102.4 85.2)" vector-effect="non-scaling-stroke"/>
<path d="M0.534 0.845A1 1 0 0 1 0 1" transform="matrix(5.87 -4.65 0 -11.65 102.4 85.2)" vector-effect="non-scaling-stroke"/>
<path d="M0.494 0.87A1 1 0 0 1 0 1" transform="matrix(4.4 -5.22 0 -11.65 102.4 85.2)" vector-effect="non-scaling-stroke"/>
<path d="M0.468 0.883A1 1 0 0 1 0 1" transform="matrix(2.79 -5.63 0 -11.65 102.4 85.2)" vector-effect="non-scaling-stroke"/>
<path d="M0.456 0.89A1 1 0 0 1 0 1" transform="matrix(1.1 -5.87 0 -11.65 102.4 85.2)" vector-effect="non-scaling-stroke"/>
<path d="M0.454 0.891A1 1 0 0 1 0 1" transform="matrix(-0.63 -5.93 0 -11.65 102.4 85.2)" vector-effect="non-scaling-stroke"/>
<path d="M0.464 0.886A1 1 0 0 1 0 1" transform="matrix(-2.33 -5.81 0 -11.65 102.4 85.2)" vector-effect="non-scaling-stroke"/>
<path d="M0.485 0.874A1 1 0 0 1 0 1" transform="matrix(-3.97 -5.51 0 -11.65 102.4 85.2)" vector-effect="non-scaling-stroke"/>
<path d="M0.521 0.853A1 1 0 0 1 0 1" transform="matrix(-5.48 -5.05 0 -11.65 102.4 85.2)" vector-effect="non-scaling-stroke"/>
<path d="M0.575 0.818A1 1 0 0 1 0 1" transform="matrix(-6.83 -4.43 0 -11.65 102.4 85.2)" vector-effect="non-scaling-stroke"/>
<path d="M0.651 0.759A1 1 0 0 1 0 1" transform="matrix(-7.97 -3.68 0 -11.65 102.4 85.2)" vector-effect="non-scaling-stroke"/>
<path d="M0.753 0.658A1 1 0 0 1 0 1" transform="matrix(-8.87 -2.81 0 -11.65 102.4 85.2)" vector-effect="non-scaling-stroke"/>
<path d="M0.875 0.485A1 1 0 0 1 0 1" transform="matrix(-9.5 -1.86 0 -11.65 102.4 85.2)" vector-effect="non-scaling-stroke"/>
<path d="M0.977 0.213A1 1 0 0 1 0 1" transform="matrix(-9.84 -0.86 0 -11.65 102.4 85.2)" vector-effect="non-scaling-stroke"/>
<path d="M0.992 -0.123A1 1 0 0 1 0 1" transform="matrix(-9.88 0.17 0 -11.65 102.4 85.2)" vector-effect="non-scaling-stroke"/>
<path d="M0.907 -0.42A1 1 0 0 1 0 1" transform="matrix(-9.62 1.2 0 -11.65 102.4 85.2)" vector-effect="non-scaling-stroke"/>
<path d="M0.785 -0.619A1 1 0 0 1 0 1" transform="matrix(-9.07 2.19 0 -11.65 102.4 85.2)" vector-effect="non-scaling-stroke"/>
<path d="M0.676 -0.736A1 1 0 0 1 0 1" transform="matrix(-8.24 3.12 0 -11.65 102.4 85.2)" vector-effect="non-scaling-stroke"/>
<path d="M0.593 -0.805A1 1 0 0 1 0 1" transform="matrix(-7.17 3.95 0 -11.65 102.4 85.2)" vector-effect="non-scaling-stroke"/>
<path d="M0.534 -0.845A1 1 0 0 1 0 1" transform="matrix(-5.87 4.65 0 -11.65 102.4 85.2)" vector-effect="non-scaling-stroke"/>
<path d="M0.494 -0.87A1 1 0 0 1 0 1" transform="matrix(-4.4 5.22 0 -11.65 102.4 85.2)" vector-effect="non-scaling-stroke"/>
<path d="M0.468 -0.883A1 1 0 0 1 0 1" transform="matrix(-2.79 5.63 0 -11.65 102.4 85.2)" vector-effect="non-scaling-stroke"/>
<path d="M0.456 -0.89A1 1 0 0 1 0 1" transform="matrix(-1.1 5.87 0 -11.65 102.4 85.2)" vector-effect="non-scaling-stroke"/>
<path d="M0.454 -0.891A1 1 0 0 1 0 1" transform="matrix(0.63 5.93 0 -11.65 102.4 85.2)" vector-effect="non-scaling-stroke"/>
<path d="M0.464 -0.886A1 1 0 0 1 0 1" transform="matrix(2.33 5.81 0 -11.65 102.4 85.2)" vector-effect="non-scaling-stroke"/>
<path d="M0.485 -0.874A1 1 0 0 1 0 1" transform="matrix(3.97 5.51 0 -11.65 102.4 85.2)" vector-effect="non-scaling-stroke"/>
<path d="M0.521 -0.853A1 1 0 0 1 0 1" transform="matrix(5.48 5.05 0 -11.65 102.4 85.2)" vector-effect="non-scaling-stroke"/>
<path d="M0.575 -0.818A1 1 0 0 1 0 1" transform="matrix(6.83 4.43 0 -11.65 102.4 85.2)" vector-effect="non-scaling-stroke"/>
<path d="M0.651 -0.759A1 1 0 0 1 0 1" transform="matrix(7.97 3.68 0 -11.65 102.4 85.2)" vector-effect="non-scaling-stroke"/>
<path d="M0.753 -0.658A1 1 0 0 1 0 1" transform="matrix(8.87 2.81 0 -11.65 102.4 85.2)" vector-effect="non-scaling-stroke"/>
<path d="M0.875 -0.485A1 1 0 0 1 0 1" transform="matrix(9.5 1.86 0 -11.65 102.4 85.2)" vector-effect="non-scaling-stroke"/>
<path d="M0.977 -0.213A1 1 0 0 1 0 1" transform="matrix(9.84 0.86 0 -11.65 102.4 85.2)" vector-effect="non-scaling-stroke"/>
<path d="M0.992 0.123A1 1 0 0 1 0 1" transform="matrix(9.88 -0.17 0 -11.65 102.4 85.2)" vector-effect="non-scaling-stroke"/>
<path d="M0.907 0.42A1 1 0 0 1 0 1" transform="matrix(9.62 -1.2 0 -11.65 102.4 85.2)" vector-effect="non-scaling-stroke"/>
</g>
<circle r="1" transform="matrix(1.81 -0.44 -0.79 -1.1 102.4 73.72)" fill="#100000"/>
<circle r="1" transform="matrix(-9.9 -0.2 0 13.08 102.4 85.2)" fill="none" stroke="#200" stroke-width="0.45" vector-effect="non-scaling-stroke"/>
</g>
<g>
<circle r="1" transform="matrix(-4.24 -0.09 0 5.6 101.7 133.7)" fill="url(#sg)" fill-opacity="1.0" stroke="none"/>
<g fill="none" stroke="#000" stroke-width="0.17" vector-effect="non-scaling-stroke">
<path d="M-0.88 -0.475A1 1 0 0 1 0.249 -0.969" transform="matrix(2.11 -0.51 -0.92 -1.28 101.7 137.9)" vector-effect="non-scaling-stroke"/>
<path d="M-0.975 -0.223A1 1 0 0 1 0.498 -0.867" transform="matrix(2.53 -0.61 -1.11 -1.54 101.7 137.5)" vector-effect="non-scaling-stroke"/>
<path d="M-0.997 -0.079A1 1 0 0 1 0.619 -0.786" transform="matrix(2.85 -0.69 -1.25 -1.73 101.7 137.1)" vector-effect="non-scaling-stroke"/>
<path d="M-1 0.021A1 1 0 0 1 0.694 -0.72" transform="matrix(3.11 -0.75 -1.36 -1.89 101.7 136.7)" vector-effect="non-scaling-stroke"/>
<path d="M-0.995 0.097A1 1 0 0 1 0.747 -0.665" transform="matrix(3.32 -0.8 -1.45 -2.02 101.7 136.3)" vector-effect="non-scaling-stroke"/>
<path d="M-0.987 0.16A1 1 0 0 1 0.787 -0.617" transform="matrix(3.49 -0.84 -1.53 -2.12 101.7 135.9)" vector-effect="non-scaling-stroke"/>
<path d="M-0.977 0.213A1 1 0 0 1 0.82 -0.573" transform="matrix(3.63 -0.88 -1.59 -2.2 101.7 135.5)" vector-effect="non-scaling-stroke"/>
<path d="M-0.965 0.26A1 1 0 0 1 0.847 -0.532" transform="matrix(3.73 -0.9 -1.63 -2.27 101.7 135.1)" vector-effect="non-scaling-stroke"/>
<path d="M-0.953 0.304A1 1 0 0 1 0.87 -0.494" transform="matrix(3.81 -0.92 -1.67 -2.31 101.7 134.7)" vector-effect="non-scaling-stroke"/>
<path d="M-0.939 0.344A1 1 0 0 1 0.89 -0.456" transform="matrix(3.86 -0.93 -1.69 -2.35 101.7 134.3)" vector-effect="non-scaling-stroke"/>
<path d="M-0.924 0.382A1 1 0 0 1 0.908 -0.419" transform="matrix(3.88 -0.94 -1.7 -2.36 101.7 133.9)" vector-effect="non-scaling-stroke"/>
<path d="M-0.908 0.419A1 1 0 1 1 0.924 -0.382" transform="matrix(3.88 -0.94 -1.7 -2.36 101.7 133.5)" vector-effect="non-scaling-stroke"/>
<path d="M-0.89 0.456A1 1 0 1 1 0.939 -0.344" transform="matrix(3.86 -0.93 -1.69 -2.35 101.7 133.1)" vector-effect="non-scaling-stroke"/>
<path d="M-0.87 0.494A1 1 0 1 1 0.953 -0.304" transform="matrix(3.81 -0.92 -1.67 -2.31 101.7 132.7)" vector-effect="non-scaling-stroke"/>
<path d="M-0.847 0.532A1 1 0 1 1 0.965 -0.26" transform="matrix(3.73 -0.9 -1.63 -2.27 101.7 132.3)" vector-effect="non-scaling-stroke"/>
<path d="M-0.82 0.573A1 1 0 1 1 0.977 -0.213" transform="matrix(3.63 -0.88 -1.59 -2.2 101.7 131.9)" vector-effect="non-scaling-stroke"/>
<path d="M-0.787 0.617A1 1 0 1 1 0.987 -0.16" transform="matrix(3.49 -0.84 -1.53 -2.12 101.7 131.5)" vector-effect="non-scaling-stroke"/>
<path d="M-0.747 0.665A1 1 0 1 1 0.995 -0.097" transform="matrix(3.32 -0.8 -1.45 -2.02 101.7 131.1)" vector-effect="non-scaling-stroke"/>
<path d="M-0.694 0.72A1 1 0 1 1 1 -0.021" transform="matrix(3.11 -0.75 -1.36 -1.89 101.7 130.7)" vector-effect="non-scaling-stroke"/>
<path d="M-0.619 0.786A1 1 0 1 1 0.997 0.079" transform="matrix(2.85 -0.69 -1.25 -1.73 101.7 130.3)" vector-effect="non-scaling-stroke"/>
<path d="M-0.498 0.867A1 1 0 1 1 0.975 0.223" transform="matrix(2.53 -0.61 -1.11 -1.54 101.7 129.9)" vector-effect="non-scaling-stroke"/>
<path d="M-0.249 0.969A1 1 0 1 1 0.88 0.475" transform="matrix(2.11 -0.51 -0.92 -1.28 101.7 129.5)" vector-effect="non-scaling-stroke"/>
<circle r="1" transform="matrix(1.52 -0.37 -0.67 -0.93 101.7 129.1)" vector-effect="non-scaling-stroke"/>
<path d="M0.785 0.619A1 1 0 0 1 0 1" transform="matrix(3.89 -0.94 0 -5 101.7 133.7)" vector-effect="non-scaling-stroke"/>
<path d="M0.676 0.736A1 1 0 0 1 0 1" transform="matrix(3.53 -1.34 0 -5 101.7 133.7)" vector-effect="non-scaling-stroke"/>
<path d="M0.593 0.805A1 1 0 0 1 0 1" transform="matrix(3.07 -1.69 0 -5 101.7 133.7)" vector-effect="non-scaling-stroke"/>
<path d="M0.534 0.845A1 1 0 0 1 0 1" transform="matrix(2.52 -1.99 0 -5 101.7 133.7)" vector-effect="non-scaling-stroke"/>
<path d="M0.494 0.87A1 1 0 0 1 0 1" transform="matrix(1.88 -2.24 0 -5 101.7 133.7)" vector-effect="non-scaling-stroke"/>
<path d="M0.468 0.883A1 1 0 0 1 0 1" transform="matrix(1.2 -2.41 0 -5 101.7 133.7)" vector-effect="non-scaling-stroke"/>
<path d="M0.456 0.89A1 1 0 0 1 0 1" transform="matrix(0.47 -2.52 0 -5 101.7 133.7)" vector-effect="non-scaling-stroke"/>
<path d="M0.454 0.891A1 1 0 0 1 0 1" transform="matrix(-0.27 -2.54 0 -5 101.7 133.7)" vector-effect="non-scaling-stroke"/>
<path d="M0.464 0.886A1 1 0 0 1 0 1" transform="matrix(-1 -2.49 0 -5 101.7 133.7)" vector-effect="non-scaling-stroke"/>
<path d="M0.485 0.874A1 1 0 0 1 0 1" transform="matrix(-1.7 -2.36 0 -5 101.7 133.7)" vector-effect="non-scaling-stroke"/>
<path d="M0.521 0.853A1 1 0 0 1 0 1" transform="matrix(-2.35 -2.16 0 -5 101.7 133.7)" vector-effect="non-scaling-stroke"/>
<path d="M0.575 0.818A1 1 0 0 1 0 1" transform="matrix(-2.93 -1.9 0 -5 101.7 133.7)" vector-effect="non-scaling-stroke"/>
<path d="M0.651 0.759A1 1 0 0 1 0 1" transform="matrix(-3.42 -1.58 0 -5 101.7 133.7)" vector-effect="non-scaling-stroke"/>
<path d="M0.753 0.658A1 1 0 0 1 0 1" transform="matrix(-3.8 -1.21 0 -5 101.7 133.7)" vector-effect="non-scaling-stroke"/>
<path d="M0.875 0.485A1 1 0 0 1 0 1" transform="matrix(-4.07 -0.8 0 -5 101.7 133.7)" vector-effect="non-scaling-stroke"/>
<path d="M0.977 0.213A1 1 0 0 1 0 1" transform="matrix(-4.22 -0.37 0 -5 101.7 133.7)" vector-effect="non-scaling-stroke"/>
<path d="M0.992 -0.123A1 1 0 0 1 0 1" transform="matrix(-4.24 0.07 0 -5 101.7 133.7)" vector-effect="non-scaling-stroke"/>
<path d="M0.907 -0.42A1 1 0 0 1 0 1" transform="matrix(-4.12 0.52 0 -5 101.7 133.7)" vector-effect="non-scaling-stroke"/>
<path d="M0.785 -0.619A1 1 0 0 1 0 1" transform="matrix(-3.89 0.94 0 -5 101.7 133.7)" vector-effect="non-scaling-stroke"/>
<path d="M0.676 -0.736A1 1 0 0 1 0 1" transform="matrix(-3.53 1.34 0 -5 101.7 133.7)" vector-effect="non-scaling-stroke"/>
<path d="M0.593 -0.805A1 1 0 0 1 0 1" transform="matrix(-3.07 1.69 0 -5 101.7 133.7)" vector-effect="non-scaling-stroke"/>
<path d="M0.534 -0.845A1 1 0 0 1 0 1" transform="matrix(-2.52 1.99 0 -5 101.7 133.7)" vector-effect="non-scaling-stroke"/>
<path d="M0.494 -0.87A1 1 0 0 1 0 1" transform="matrix(-1.88 2.24 0 -5 101.7 133.7)" vector-effect="non-scaling-stroke"/>
<path d="M0.468 -0.883A1 1 0 0 1 0 1" transform="matrix(-1.2 2.41 0 -5 101.7 133.7)" vector-effect="non-scaling-stroke"/>
<path d="M0.456 -0.89A1 1 0 0 1 0 1" transform="matrix(-0.47 2.52 0 -5 101.7 133.7)" vector-effect="non-scaling-stroke"/>
<path d="M0.454 -0.891A1 1 0 0 1 0 1" transform="matrix(0.27 2.54 0 -5 101.7 133.7)" vector-effect="non-scaling-stroke"/>
<path d="M0.464 -0.886A1 1 0 0 1 0 1" transform="matrix(1 2.49 0 -5 101.7 133.7)" vector-effect="non-scaling-stroke"/>
<path d="M0.485 -0.874A1 1 0 0 1 0 1" transform="matrix(1.7 2.36 0 -5 101.7 133.7)" vector-effect="non-scaling-stroke"/>
<path d="M0.521 -0.853A1 1 0 0 1 0 1" transform="matrix(2.35 2.16 0 -5 101.7 133.7)" vector-effect="non-scaling-stroke"/>
<path d="M0.575 -0.818A1 1 0 0 1 0 1" transform="matrix(2.93 1.9 0 -5 101.7 133.7)" vector-effect="non-scaling-stroke"/>
<path d="M0.651 -0.759A1 1 0 0 1 0 1" transform="matrix(3.42 1.58 0 -5 101.7 133.7)" vector-effect="non-scaling-stroke"/>
<path d="M0.753 -0.658A1 1 0 0 1 0 1" transform="matrix(3.8 1.21 0 -5 101.7 133.7)" vector-effect="non-scaling-stroke"/>
<path d="M0.875 -0.485A1 1 0 0 1 0 1" transform="matrix(4.07 0.8 0 -5 101.7 133.7)" vector-effect="non-scaling-stroke"/>
<path d="M0.977 -0.213A1 1 0 0 1 0 1" transform="matrix(4.22 0.37 0 -5 101.7 133.7)" vector-effect="non-scaling-stroke"/>
<path d="M0.992 0.123A1 1 0 0 1 0 1" transform="matrix(4.24 -0.07 0 -5 101.7 133.7)" vector-effect="non-scaling-stroke"/>
<path d="M0.907 0.42A1 1 0 0 1 0 1" transform="matrix(4.12 -0.52 0 -5 101.7 133.7)" vector-effect="non-scaling-stroke"/>
</g>
<circle r="1" transform="matrix(0.78 -0.19 -0.34 -0.47 101.7 128.78)" fill="#100000"/>
<circle r="1" transform="matrix(-4.24 -0.09 0 5.6 101.7 133.7)" fill="none" stroke="#200" stroke-width="0.45" vector-effect="non-scaling-stroke"/>
</g>
<g>
<circle r="1" transform="matrix(-4.24 -0.09 0 5.6 97.7 142.6)" fill="url(#sg)" fill-opacity="1.0" stroke="none"/>
<g fill="none" stroke="#000" stroke-width="0.17" vector-effect="non-scaling-stroke">
<path d="M-0.88 -0.475A1 1 0 0 1 0.249 -0.969" transform="matrix(2.11 -0.51 -0.92 -1.28 97.7 146.8)" vector-effect="non-scaling-stroke"/>
<path d="M-0.975 -0.223A1 1 0 0 1 0.498 -0.867" transform="matrix(2.53 -0.61 -1.11 -1.54 97.7 146.4)" vector-effect="non-scaling-stroke"/>
<path d="M-0.997 -0.079A1 1 0 0 1 0.619 -0.786" transform="matrix(2.85 -0.69 -1.25 -1.73 97.7 146)" vector-effect="non-scaling-stroke"/>
<path d="M-1 0.021A1 1 0 0 1 0.694 -0.72" transform="matrix(3.11 -0.75 -1.36 -1.89 97.7 145.6)" vector-effect="non-scaling-stroke"/>
<path d="M-0.995 0.097A1 1 0 0 1 0.747 -0.665" transform="matrix(3.32 -0.8 -1.45 -2.02 97.7 145.2)" vector-effect="non-scaling-stroke"/>
<path d="M-0.987 0.16A1 1 0 0 1 0.787 -0.617" transform="matrix(3.49 -0.84 -1.53 -2.12 97.7 144.8)" vector-effect="non-scaling-stroke"/>
<path d="M-0.977 0.213A1 1 0 0 1 0.82 -0.573" transform="matrix(3.63 -0.88 -1.59 -2.2 97.7 144.4)" vector-effect="non-scaling-stroke"/>
<path d="M-0.965 0.26A1 1 0 0 1 0.847 -0.532" transform="matrix(3.73 -0.9 -1.63 -2.27 97.7 144)" vector-effect="non-scaling-stroke"/>
<path d="M-0.953 0.304A1 1 0 0 1 0.87 -0.494" transform="matrix(3.81 -0.92 -1.67 -2.31 97.7 143.6)" vector-effect="non-scaling-stroke"/>
<path d="M-0.939 0.344A1 1 0 0 1 0.89 -0.456" transform="matrix(3.86 -0.93 -1.69 -2.35 97.7 143.2)" vector-effect="non-scaling-stroke"/>
<path d="M-0.924 0.382A1 1 0 0 1 0.908 -0.419" transform="matrix(3.88 -0.94 -1.7 -2.36 97.7 142.8)" vector-effect="non-scaling-stroke"/>
<path d="M-0.908 0.419A1 1 0 1 1 0.924 -0.382" transform="matrix(3.88 -0.94 -1.7 -2.36 97.7 142.4)" vector-effect="non-scaling-stroke"/>
<path d="M-0.89 0.456A1 1 0 1 1 0.939 -0.344" transform="matrix(3.86 -0.93 -1.69 -2.35 97.7 142)" vector-effect="non-scaling-stroke"/>
<path d="M-0.87 0.494A1 1 0 1 1 0.953 -0.304" transform="matrix(3.81 -0.92 -1.67 -2.31 97.7 141.6)" vector-effect="non-scaling-stroke"/>
<path d="M-0.847 0.532A1 1 0 1 1 0.965 -0.26" transform="matrix(3.73 -0.9 -1.63 -2.27 97.7 141.2)" vector-effect="non-scaling-stroke"/>
<path d="M-0.82 0.573A1 1 0 1 1 0.977 -0.213" transform="matrix(3.63 -0.88 -1.59 -2.2 97.7 140.8)" vector-effect="non-scaling-stroke"/>
<path d="M-0.787 0.617A1 1 0 1 1 0.987 -0.16" transform="matrix(3.49 -0.84 -1.53 -2.12 97.7 140.4)" vector-effect="non-scaling-stroke"/>
<path d="M-0.747 0.665A1 1 0 1 1 0.995 -0.097" transform="matrix(3.32 -0.8 -1.45 -2.02 97.7 140)" vector-effect="non-scaling-stroke"/>
<path d="M-0.694 0.72A1 1 0 1 1 1 -0.021" transform="matrix(3.11 -0.75 -1.36 -1.89 97.7 139.6)" vector-effect="non-scaling-stroke"/>
<path d="M-0.619 0.786A1 1 0 1 1 0.997 0.079" transform="matrix(2.85 -0.69 -1.25 -1.73 97.7 139.2)" vector-effect="non-scaling-stroke"/>
<path d="M-0.498 0.867A1 1 0 1 1 0.975 0.223" transform="matrix(2.53 -0.61 -1.11 -1.54 97.7 138.8)" vector-effect="non-scaling-stroke"/>
<path d="M-0.249 0.969A1 1 0 1 1 0.88 0.475" transform="matrix(2.11 -0.51 -0.92 -1.28 97.7 138.4)" vector-effect="non-scaling-stroke"/>
<circle r="1" transform="matrix(1.52 -0.37 -0.67 -0.93 97.7 138)" vector-effect="non-scaling-stroke"/>
<path d="M0.785 0.619A1 1 0 0 1 0 1" transform="matrix(3.89 -0.94 0 -5 97.7 142.6)" vector-effect="non-scaling-stroke"/>
<path d="M0.676 0.736A1 1 0 0 1 0 1" transform="matrix(3.53 -1.34 0 -5 97.7 142.6)" vector-effect="non-scaling-stroke"/>
<path d="M0.593 0.805A1 1 0 0 1 0 1" transform="matrix(3.07 -1.69 0 -5 97.7 142.6)" vector-effect="non-scaling-stroke"/>
<path d="M0.534 0.845A1 1 0 0 1 0 1" transform="matrix(2.52 -1.99 0 -5 97.7 142.6)" vector-effect="non-scaling-stroke"/>
<path d="M0.494 0.87A1 1 0 0 1 0 1" transform="matrix(1.88 -2.24 0 -5 97.7 142.6)" vector-effect="non-scaling-stroke"/>
<path d="M0.468 0.883A1 1 0 0 1 0 1" transform="matrix(1.2 -2.41 0 -5 97.7 142.6)" vector-effect="non-scaling-stroke"/>
<path d="M0.456 0.89A1 1 0 0 1 0 1" transform="matrix(0.47 -2.52 0 -5 97.7 142.6)" vector-effect="non-scaling-stroke"/>
<path d="M0.454 0.891A1 1 0 0 1 0 1" transform="matrix(-0.27 -2.54 0 -5 97.7 142.6)" vector-effect="non-scaling-stroke"/>
<path d="M0.464 0.886A1 1 0 0 1 0 1" transform="matrix(-1 -2.49 0 -5 97.7 142.6)" vector-effect="non-scaling-stroke"/>
<path d="M0.485 0.874A1 1 0 0 1 0 1" transform="matrix(-1.7 -2.36 0 -5 97.7 142.6)" vector-effect="non-scaling-stroke"/>
<path d="M0.521 0.853A1 1 0 0 1 0 1" transform="matrix(-2.35 -2.16 0 -5 97.7 142.6)" vector-effect="non-scaling-stroke"/>
<path d="M0.575 0.818A1 1 0 0 1 0 1" transform="matrix(-2.93 -1.9 0 -5 97.7 142.6)" vector-effect="non-scaling-stroke"/>
<path d="M0.651 0.759A1 1 0 0 1 0 1" transform="matrix(-3.42 -1.58 0 -5 97.7 142.6)" vector-effect="non-scaling-stroke"/>
<path d="M0.753 0.658A1 1 0 0 1 0 1" transform="matrix(-3.8 -1.21 0 -5 97.7 142.6)" vector-effect="non-scaling-stroke"/>
<path d="M0.875 0.485A1 1 0 0 1 0 1" transform="matrix(-4.07 -0.8 0 -5 97.7 142.6)" vector-effect="non-scaling-stroke"/>
<path d="M0.977 0.213A1 1 0 0 1 0 1" transform="matrix(-4.22 -0.37 0 -5 97.7 142.6)" vector-effect="non-scaling-stroke"/>
<path d="M0.992 -0.123A1 1 0 0 1 0 1" transform="matrix(-4.24 0.07 0 -5 97.7 142.6)" vector-effect="non-scaling-stroke"/>
<path d="M0.907 -0.42A1 1 0 0 1 0 1" transform="matrix(-4.12 0.52 0 -5 97.7 142.6)" vector-effect="non-scaling-stroke"/>
<path d="M0.785 -0.619A1 1 0 0 1 0 1" transform="matrix(-3.89 0.94 0 -5 97.7 142.6)" vector-effect="non-scaling-stroke"/>
<path d="M0.676 -0.736A1 1 0 0 1 0 1" transform="matrix(-3.53 1.34 0 -5 97.7 142.6)" vector-effect="non-scaling-stroke"/>
<path d="M0.593 -0.805A1 1 0 0 1 0 1" transform="matrix(-3.07 1.69 0 -5 97.7 142.6)" vector-effect="non-scaling-stroke"/>
<path d="M0.534 -0.845A1 1 0 0 1 0 1" transform="matrix(-2.52 1.99 0 -5 97.7 142.6)" vector-effect="non-scaling-stroke"/>
<path d="M0.494 -0.87A1 1 0 0 1 0 1" transform="matrix(-1.88 2.24 0 -5 97.7 142.6)" vector-effect="non-scaling-stroke"/>
<path d="M0.468 -0.883A1 1 0 0 1 0 1" transform="matrix(-1.2 2.41 0 -5 97.7 142.6)" vector-effect="non-scaling-stroke"/>
<path d="M0.456 -0.89A1 1 0 0 1 0 1" transform="matrix(-0.47 2.52 0 -5 97.7 142.6)" vector-effect="non-scaling-stroke"/>
<path d="M0.454 -0.891A1 1 0 0 1 0 1" transform="matrix(0.27 2.54 0 -5 97.7 142.6)" vector-effect="non-scaling-stroke"/>
<path d="M0.464 -0.886A1 1 0 0 1 0 1" transform="matrix(1 2.49 0 -5 97.7 142.6)" vector-effect="non-scaling-stroke"/>
<path d="M0.485 -0.874A1 1 0 0 1 0 1" transform="matrix(1.7 2.36 0 -5 97.7 142.6)" vector-effect="non-scaling-stroke"/>
<path d="M0.521 -0.853A1 1 0 0 1 0 1" transform="matrix(2.35 2.16 0 -5 97.7 142.6)" vector-effect="non-scaling-stroke"/>
<path d="M0.575 -0.818A1 1 0 0 1 0 1" transform="matrix(2.93 1.9 0 -5 97.7 142.6)" vector-effect="non-scaling-stroke"/>
<path d="M0.651 -0.759A1 1 0 0 1 0 1" transform="matrix(3.42 1.58 0 -5 97.7 142.6)" vector-effect="non-scaling-stroke"/>
<path d="M0.753 -0.658A1 1 0 0 1 0 1" transform="matrix(3.8 1.21 0 -5 97.7 142.6)" vector-effect="non-scaling-stroke"/>
<path d="M0.875 -0.485A1 1 0 0 1 0 1" transform="matrix(4.07 0.8 0 -5 97.7 142.6)" vector-effect="non-scaling-stroke"/>
<path d="M0.977 -0.213A1 1 0 0 1 0 1" transform="matrix(4.22 0.37 0 -5 97.7 142.6)" vector-effect="non-scaling-stroke"/>
<path d="M0.992 0.123A1 1 0 0 1 0 1" transform="matrix(4.24 -0.07 0 -5 97.7 142.6)" vector-effect="non-scaling-stroke"/>
<path d="M0.907 0.42A1 1 0 0 1 0 1" transform="matrix(4.12 -0.52 0 -5 97.7 142.6)" vector-effect="non-scaling-stroke"/>
</g>
<circle r="1" transform="matrix(0.78 -0.19 -0.34 -0.47 97.7 137.68)" fill="#100000"/>
<circle r="1" transform="matrix(-4.24 -0.09 0 5.6 97.7 142.6)" fill="none" stroke="#200" stroke-width="0.45" vector-effect="non-scaling-stroke"/>
</g>
<path d="M95.8 154.9 C97.4 152.65 102.85 145.13 105.4 141.4 C107.95 137.67 108.83 136.4 111.1 132.5 C113.37 128.6 116.35 122.78 119 118 C121.65 113.22 125.35 106.8 127 103.8 C128.65 100.8 128.42 101.33 128.9 100 C129.38 98.67 129.3 97.77 129.9 95.8 C130.5 93.83 131.33 90.75 132.5 88.2 C133.67 85.65 135.32 83.27 136.9 80.5 C138.48 77.73 140.15 74.85 142 71.6 C143.85 68.35 146.42 64.6 148 61 C149.58 57.4 150.17 53.5 151.5 50 C152.83 46.5 154.3 43.05 156 40 C157.7 36.95 159.87 34.2 161.7 31.7 C163.53 29.2 165.08 27.22 167 25 C168.92 22.78 170.83 20.2 173.2 18.4 C175.57 16.6 179.87 14.9 181.2 14.2" fill="none" stroke="#EDB120" stroke-width="1.2" stroke-linejoin="round" stroke-linecap="round" />
<path d="M95.8 154.9 C97.99 150.79 100.61 146.01 104 139.5 C107.39 132.99 105.03 136.77 108.5 130.5 C111.97 124.23 112.41 123.47 117 116 C121.59 108.53 123.11 106.42 125.7 102.5 C128.29 98.58 126.94 102.23 126.7 101.3 C126.46 100.37 125.65 100.97 124.8 99 C123.95 97.03 122.81 96.78 123.5 93.9 C124.19 91.02 125.19 90.57 127.4 88.2 C129.61 85.83 129.43 87.72 131.8 85 C134.17 82.28 134.94 81.39 136.3 78 C137.66 74.61 137.75 74.67 136.9 72.3 C136.05 69.93 134.81 70.97 133.1 69.1 C131.39 67.23 130.85 67.51 130.5 65.3 C130.15 63.09 129.75 63.87 131.8 60.8 C133.85 57.73 135.32 57.48 138.2 53.8 C141.08 50.12 139.45 51.35 142.6 47 C145.75 42.65 146.96 41.77 150 37.5 C153.04 33.23 151.6 33.93 154 31 C156.4 28.07 156.25 28.37 159 26.5 C161.75 24.63 160.51 25.92 164.3 24 C168.09 22.08 168.69 21.91 173.2 19.3 C177.71 16.69 179.07 15.56 181.2 14.2" fill="none" stroke="#77AC30" stroke-width="1.2" stroke-linejoin="round" stroke-linecap="round" />
<path d="M95.8 154.9 C96.43 153.52 97.17 151.71 98.5 149 C99.83 146.29 100.22 146.12 101.5 143.3 C102.78 140.48 103.84 139.72 104 136.9 C104.16 134.08 103.06 133.42 102.2 131.2 C101.34 128.98 100.91 129.34 100.3 127.4 C99.69 125.46 99.02 125.14 99.6 122.9 C100.18 120.66 101.31 119.41 102.8 117.8 C104.29 116.19 104.32 118.05 106 116 C107.68 113.95 107.9 112.38 110 109 C112.1 105.62 110.4 110.27 115 101.5 C119.6 92.73 123.7 83.42 129.7 71.4 C135.7 59.38 137.92 56.28 140.7 50 C143.48 43.72 139.97 48.16 141.6 44.5 C143.23 40.84 144.2 38.31 147.7 34.3 C151.2 30.29 152.73 29.68 156.6 27.3 C160.47 24.92 160.43 25.9 164.3 24.1 C168.17 22.3 169.26 21.91 173.2 19.6 C177.14 17.29 179.33 15.46 181.2 14.2" fill="none" stroke="#0072BD" stroke-width="1.2" stroke-linejoin="round" stroke-linecap="round" />
<g>
<circle r="1" transform="matrix(-11.63 -0.24 0 15.36 117 118.3)" fill="url(#sg)" fill-opacity="1.0" stroke="none"/>
<g fill="none" stroke="#000" stroke-width="0.1" vector-effect="non-scaling-stroke">
<path d="M-0.88 -0.475A1 1 0 0 1 0.249 -0.969" transform="matrix(5.78 -1.4 -2.53 -3.51 117 129.8)" vector-effect="non-scaling-stroke"/>
<path d="M-0.975 -0.223A1 1 0 0 1 0.498 -0.867" transform="matrix(6.93 -1.67 -3.03 -4.21 117 128.7)" vector-effect="non-scaling-stroke"/>
<path d="M-0.997 -0.079A1 1 0 0 1 0.619 -0.786" transform="matrix(7.81 -1.89 -3.42 -4.75 117 127.61)" vector-effect="non-scaling-stroke"/>
<path d="M-1 0.021A1 1 0 0 1 0.694 -0.72" transform="matrix(8.52 -2.06 -3.73 -5.18 117 126.51)" vector-effect="non-scaling-stroke"/>
<path d="M-0.995 0.097A1 1 0 0 1 0.747 -0.665" transform="matrix(9.1 -2.2 -3.98 -5.53 117 125.42)" vector-effect="non-scaling-stroke"/>
<path d="M-0.987 0.16A1 1 0 0 1 0.787 -0.617" transform="matrix(9.57 -2.31 -4.19 -5.81 117 124.32)" vector-effect="non-scaling-stroke"/>
<path d="M-0.977 0.213A1 1 0 0 1 0.82 -0.573" transform="matrix(9.94 -2.4 -4.35 -6.04 117 123.23)" vector-effect="non-scaling-stroke"/>
<path d="M-0.965 0.26A1 1 0 0 1 0.847 -0.532" transform="matrix(10.23 -2.47 -4.48 -6.22 117 122.13)" vector-effect="non-scaling-stroke"/>
<path d="M-0.953 0.304A1 1 0 0 1 0.87 -0.494" transform="matrix(10.44 -2.52 -4.57 -6.34 117 121.04)" vector-effect="non-scaling-stroke"/>
<path d="M-0.939 0.344A1 1 0 0 1 0.89 -0.456" transform="matrix(10.58 -2.56 -4.63 -6.43 117 119.94)" vector-effect="non-scaling-stroke"/>
<path d="M-0.924 0.382A1 1 0 0 1 0.908 -0.419" transform="matrix(10.65 -2.57 -4.66 -6.47 117 118.85)" vector-effect="non-scaling-stroke"/>
<path d="M-0.908 0.419A1 1 0 1 1 0.924 -0.382" transform="matrix(10.65 -2.57 -4.66 -6.47 117 117.75)" vector-effect="non-scaling-stroke"/>
<path d="M-0.89 0.456A1 1 0 1 1 0.939 -0.344" transform="matrix(10.58 -2.56 -4.63 -6.43 117 116.66)" vector-effect="non-scaling-stroke"/>
<path d="M-0.87 0.494A1 1 0 1 1 0.953 -0.304" transform="matrix(10.44 -2.52 -4.57 -6.34 117 115.56)" vector-effect="non-scaling-stroke"/>
<path d="M-0.847 0.532A1 1 0 1 1 0.965 -0.26" transform="matrix(10.23 -2.47 -4.48 -6.22 117 114.47)" vector-effect="non-scaling-stroke"/>
<path d="M-0.82 0.573A1 1 0 1 1 0.977 -0.213" transform="matrix(9.94 -2.4 -4.35 -6.04 117 113.37)" vector-effect="non-scaling-stroke"/>
<path d="M-0.787 0.617A1 1 0 1 1 0.987 -0.16" transform="matrix(9.57 -2.31 -4.19 -5.81 117 112.28)" vector-effect="non-scaling-stroke"/>
<path d="M-0.747 0.665A1 1 0 1 1 0.995 -0.097" transform="matrix(9.1 -2.2 -3.98 -5.53 117 111.18)" vector-effect="non-scaling-stroke"/>
<path d="M-0.694 0.72A1 1 0 1 1 1 -0.021" transform="matrix(8.52 -2.06 -3.73 -5.18 117 110.09)" vector-effect="non-scaling-stroke"/>
<path d="M-0.619 0.786A1 1 0 1 1 0.997 0.079" transform="matrix(7.81 -1.89 -3.42 -4.75 117 108.99)" vector-effect="non-scaling-stroke"/>
<path d="M-0.498 0.867A1 1 0 1 1 0.975 0.223" transform="matrix(6.93 -1.67 -3.03 -4.21 117 107.9)" vector-effect="non-scaling-stroke"/>
<path d="M-0.249 0.969A1 1 0 1 1 0.88 0.475" transform="matrix(5.78 -1.4 -2.53 -3.51 117 106.8)" vector-effect="non-scaling-stroke"/>
<circle r="1" transform="matrix(4.18 -1.01 -1.83 -2.54 117 105.71)" vector-effect="non-scaling-stroke"/>
<path d="M0.785 0.619A1 1 0 0 1 0 1" transform="matrix(10.66 -2.58 0 -13.69 117 118.3)" vector-effect="non-scaling-stroke"/>
<path d="M0.676 0.736A1 1 0 0 1 0 1" transform="matrix(9.68 -3.66 0 -13.69 117 118.3)" vector-effect="non-scaling-stroke"/>
<path d="M0.593 0.805A1 1 0 0 1 0 1" transform="matrix(8.42 -4.63 0 -13.69 117 118.3)" vector-effect="non-scaling-stroke"/>
<path d="M0.534 0.845A1 1 0 0 1 0 1" transform="matrix(6.9 -5.47 0 -13.69 117 118.3)" vector-effect="non-scaling-stroke"/>
<path d="M0.494 0.87A1 1 0 0 1 0 1" transform="matrix(5.17 -6.13 0 -13.69 117 118.3)" vector-effect="non-scaling-stroke"/>
<path d="M0.468 0.883A1 1 0 0 1 0 1" transform="matrix(3.28 -6.62 0 -13.69 117 118.3)" vector-effect="non-scaling-stroke"/>
<path d="M0.456 0.89A1 1 0 0 1 0 1" transform="matrix(1.29 -6.9 0 -13.69 117 118.3)" vector-effect="non-scaling-stroke"/>
<path d="M0.454 0.891A1 1 0 0 1 0 1" transform="matrix(-0.74 -6.97 0 -13.69 117 118.3)" vector-effect="non-scaling-stroke"/>
<path d="M0.464 0.886A1 1 0 0 1 0 1" transform="matrix(-2.74 -6.82 0 -13.69 117 118.3)" vector-effect="non-scaling-stroke"/>
<path d="M0.485 0.874A1 1 0 0 1 0 1" transform="matrix(-4.66 -6.47 0 -13.69 117 118.3)" vector-effect="non-scaling-stroke"/>
<path d="M0.521 0.853A1 1 0 0 1 0 1" transform="matrix(-6.44 -5.93 0 -13.69 117 118.3)" vector-effect="non-scaling-stroke"/>
<path d="M0.575 0.818A1 1 0 0 1 0 1" transform="matrix(-8.03 -5.2 0 -13.69 117 118.3)" vector-effect="non-scaling-stroke"/>
<path d="M0.651 0.759A1 1 0 0 1 0 1" transform="matrix(-9.37 -4.32 0 -13.69 117 118.3)" vector-effect="non-scaling-stroke"/>
<path d="M0.753 0.658A1 1 0 0 1 0 1" transform="matrix(-10.42 -3.3 0 -13.69 117 118.3)" vector-effect="non-scaling-stroke"/>
<path d="M0.875 0.485A1 1 0 0 1 0 1" transform="matrix(-11.16 -2.19 0 -13.69 117 118.3)" vector-effect="non-scaling-stroke"/>
<path d="M0.977 0.213A1 1 0 0 1 0 1" transform="matrix(-11.56 -1.01 0 -13.69 117 118.3)" vector-effect="non-scaling-stroke"/>
<path d="M0.992 -0.123A1 1 0 0 1 0 1" transform="matrix(-11.61 0.21 0 -13.69 117 118.3)" vector-effect="non-scaling-stroke"/>
<path d="M0.907 -0.42A1 1 0 0 1 0 1" transform="matrix(-11.3 1.41 0 -13.69 117 118.3)" vector-effect="non-scaling-stroke"/>
<path d="M0.785 -0.619A1 1 0 0 1 0 1" transform="matrix(-10.66 2.58 0 -13.69 117 118.3)" vector-effect="non-scaling-stroke"/>
<path d="M0.676 -0.736A1 1 0 0 1 0 1" transform="matrix(-9.68 3.66 0 -13.69 117 118.3)" vector-effect="non-scaling-stroke"/>
<path d="M0.593 -0.805A1 1 0 0 1 0 1" transform="matrix(-8.42 4.63 0 -13.69 117 118.3)" vector-effect="non-scaling-stroke"/>
<path d="M0.534 -0.845A1 1 0 0 1 0 1" transform="matrix(-6.9 5.47 0 -13.69 117 118.3)" vector-effect="non-scaling-stroke"/>
<path d="M0.494 -0.87A1 1 0 0 1 0 1" transform="matrix(-5.17 6.13 0 -13.69 117 118.3)" vector-effect="non-scaling-stroke"/>
<path d="M0.468 -0.883A1 1 0 0 1 0 1" transform="matrix(-3.28 6.62 0 -13.69 117 118.3)" vector-effect="non-scaling-stroke"/>
<path d="M0.456 -0.89A1 1 0 0 1 0 1" transform="matrix(-1.29 6.9 0 -13.69 117 118.3)" vector-effect="non-scaling-stroke"/>
<path d="M0.454 -0.891A1 1 0 0 1 0 1" transform="matrix(0.74 6.97 0 -13.69 117 118.3)" vector-effect="non-scaling-stroke"/>
<path d="M0.464 -0.886A1 1 0 0 1 0 1" transform="matrix(2.74 6.82 0 -13.69 117 118.3)" vector-effect="non-scaling-stroke"/>
<path d="M0.485 -0.874A1 1 0 0 1 0 1" transform="matrix(4.66 6.47 0 -13.69 117 118.3)" vector-effect="non-scaling-stroke"/>
<path d="M0.521 -0.853A1 1 0 0 1 0 1" transform="matrix(6.44 5.93 0 -13.69 117 118.3)" vector-effect="non-scaling-stroke"/>
<path d="M0.575 -0.818A1 1 0 0 1 0 1" transform="matrix(8.03 5.2 0 -13.69 117 118.3)" vector-effect="non-scaling-stroke"/>
<path d="M0.651 -0.759A1 1 0 0 1 0 1" transform="matrix(9.37 4.32 0 -13.69 117 118.3)" vector-effect="non-scaling-stroke"/>
<path d="M0.753 -0.658A1 1 0 0 1 0 1" transform="matrix(10.42 3.3 0 -13.69 117 118.3)" vector-effect="non-scaling-stroke"/>
<path d="M0.875 -0.485A1 1 0 0 1 0 1" transform="matrix(11.16 2.19 0 -13.69 117 118.3)" vector-effect="non-scaling-stroke"/>
<path d="M0.977 -0.213A1 1 0 0 1 0 1" transform="matrix(11.56 1.01 0 -13.69 117 118.3)" vector-effect="non-scaling-stroke"/>
<path d="M0.992 0.123A1 1 0 0 1 0 1" transform="matrix(11.61 -0.21 0 -13.69 117 118.3)" vector-effect="non-scaling-stroke"/>
<path d="M0.907 0.42A1 1 0 0 1 0 1" transform="matrix(11.3 -1.41 0 -13.69 117 118.3)" vector-effect="non-scaling-stroke"/>
</g>
<circle r="1" transform="matrix(2.13 -0.52 -0.93 -1.29 117 104.82)" fill="#100000"/>
<circle r="1" transform="matrix(-11.63 -0.24 0 15.36 117 118.3)" fill="none" stroke="#200" stroke-width="0.45" vector-effect="non-scaling-stroke"/>
</g>
<path d="M95.8 154.9 C96.25 153.59 96.86 153.44 97.5 150 C98.14 146.56 97.93 146 98.2 142 C98.47 138 98.29 138.89 98.5 135 C98.71 131.11 98.2 131.29 99 127.4 C99.8 123.51 99.63 124.64 101.5 120.4 C103.37 116.16 103.87 116.14 106 111.5 C108.13 106.86 107.37 107.53 109.5 103 C111.63 98.47 111.09 99.81 114 94.5 C116.91 89.19 117.33 88.35 120.4 83.1 C123.47 77.85 122.11 78.37 125.5 74.8 C128.89 71.23 129.71 71.91 133.1 69.7 C136.49 67.49 135.16 69.22 138.2 66.5 C141.24 63.78 141.27 63.23 144.5 59.5 C147.73 55.77 148.17 56.1 150.3 52.5 C152.43 48.9 150.85 49.6 152.5 46 C154.15 42.4 154.05 42.95 156.5 39 C158.95 35.05 158.9 35.04 161.7 31.2 C164.5 27.36 163.93 28.07 167 24.6 C170.07 21.13 169.41 20.97 173.2 18.2 C176.99 15.43 179.07 15.27 181.2 14.2" fill="none" stroke="#D95319" stroke-width="1.2" stroke-linejoin="round" stroke-linecap="round" />
<path d="M95.8 154.9 C96.12 154.67 96.17 155.07 97.7 153.5 C99.23 151.93 102.55 148.17 105 145.5 C107.45 142.83 110.48 138.92 112.4 137.5 C114.32 136.08 115.02 137.1 116.5 137 C117.98 136.9 119.8 137.57 121.3 136.9 C122.8 136.23 124.13 134.27 125.5 133 C126.87 131.73 127.42 131.88 129.5 129.3 C131.58 126.72 135.07 121.55 138 117.5 C140.93 113.45 144.52 108.62 147.1 105 C149.68 101.38 151.17 98.82 153.5 95.8 C155.83 92.78 158.35 90.08 161.1 86.9 C163.85 83.72 167.8 79.28 170 76.7 C172.2 74.12 172.72 74.18 174.3 71.4 C175.88 68.62 178.1 62.68 179.5 60 C180.9 57.32 181.73 57.25 182.7 55.3 C183.67 53.35 184.77 50.53 185.3 48.3 C185.83 46.07 186.12 44.87 185.9 41.9 C185.68 38.93 184.53 34.53 184 30.5 C183.47 26.47 183.17 20.42 182.7 17.7 C182.23 14.98 181.45 14.78 181.2 14.2" fill="none" stroke="#7E2F8E" stroke-width="1.2" stroke-linejoin="round" stroke-linecap="round" />
<circle cx="181.2" cy="14.2" r="1.9" fill="#e514e5" stroke="#b000b0" stroke-width="0.5"/>
<circle cx="95.8" cy="154.9" r="1.9" fill="#22e6e6" stroke="#00a0b0" stroke-width="0.5"/>
<text x="184" y="16.3" font-size="5.6" text-anchor="start" font-weight="bold" fill="#0a0a0a" stroke="#0a0a0a" stroke-width="0.2" >Goal</text>
<text x="98" y="157" font-size="5.6" text-anchor="start" font-weight="bold" fill="#0a0a0a" stroke="#0a0a0a" stroke-width="0.2" >UAV</text>
<text x="109.6" y="66.5" font-size="5.6" text-anchor="middle" font-weight="bold" fill="#0a0a0a" stroke="#0a0a0a" stroke-width="0.2" >0</text>
<text x="178.6" y="36.6" font-size="5.6" text-anchor="middle" font-weight="bold" fill="#0a0a0a" stroke="#0a0a0a" stroke-width="0.2" >9</text>
<text x="197" y="60" font-size="5.6" text-anchor="middle" font-weight="bold" fill="#0a0a0a" stroke="#0a0a0a" stroke-width="0.2" >10</text>
<text x="170.8" y="20.3" font-size="5.6" text-anchor="middle" font-weight="bold" fill="#0a0a0a" stroke="#0a0a0a" stroke-width="0.2" >8</text>
<text x="125.6" y="95.6" font-size="5.6" text-anchor="middle" font-weight="bold" fill="#0a0a0a" stroke="#0a0a0a" stroke-width="0.2" >5</text>
<text x="125.6" y="103.2" font-size="5.6" text-anchor="middle" font-weight="bold" fill="#0a0a0a" stroke="#0a0a0a" stroke-width="0.2" >4</text>
<text x="154.3" y="72.8" font-size="5.0" text-anchor="middle" font-weight="bold" fill="#0a0a0a" stroke="#0a0a0a" stroke-width="0.18" >7</text>
<line x1="192.5" y1="15.4" x2="209" y2="15.4" stroke="#EDB120" stroke-width="1.2" />
<text x="211" y="17.3" font-size="5.3" text-anchor="start" font-weight="bold" fill="#0a0a0a" stroke="#0a0a0a" stroke-width="0.19" >Astar</text>
<line x1="192.5" y1="22.8" x2="209" y2="22.8" stroke="#7E2F8E" stroke-width="1.2" />
<text x="211" y="24.7" font-size="5.3" text-anchor="start" font-weight="bold" fill="#0a0a0a" stroke="#0a0a0a" stroke-width="0.19" >IFDS</text>
<line x1="192.5" y1="30.1" x2="209" y2="30.1" stroke="#77AC30" stroke-width="1.2" />
<text x="211" y="32" font-size="5.3" text-anchor="start" font-weight="bold" fill="#0a0a0a" stroke="#0a0a0a" stroke-width="0.19" >RRT</text>
<line x1="192.5" y1="37.2" x2="209" y2="37.2" stroke="#D95319" stroke-width="1.2" />
<text x="211" y="39.1" font-size="5.3" text-anchor="start" font-weight="bold" fill="#0a0a0a" stroke="#0a0a0a" stroke-width="0.19" >DDPG</text>
<line x1="192.5" y1="44.5" x2="209" y2="44.5" stroke="#0072BD" stroke-width="1.2" />
<text x="211" y="46.4" font-size="5.3" text-anchor="start" font-weight="bold" fill="#0a0a0a" stroke="#0a0a0a" stroke-width="0.19" >DDPG-IFDS</text>
<text class="cap" transform="translate(132.4 202.6) scale(1.04 1)" font-size="12" text-anchor="middle" fill="#111">(<tspan font-weight="bold">a</tspan>)</text>
<line x1="329.48" y1="165.5" x2="329.48" y2="12" stroke="#e4e4e4" stroke-width="0.5" />
<line x1="307.5" y1="150.15" x2="527.3" y2="150.15" stroke="#e4e4e4" stroke-width="0.5" />
<line x1="351.46" y1="165.5" x2="351.46" y2="12" stroke="#e4e4e4" stroke-width="0.5" />
<line x1="307.5" y1="134.8" x2="527.3" y2="134.8" stroke="#e4e4e4" stroke-width="0.5" />
<line x1="373.44" y1="165.5" x2="373.44" y2="12" stroke="#e4e4e4" stroke-width="0.5" />
<line x1="307.5" y1="119.45" x2="527.3" y2="119.45" stroke="#e4e4e4" stroke-width="0.5" />
<line x1="395.42" y1="165.5" x2="395.42" y2="12" stroke="#e4e4e4" stroke-width="0.5" />
<line x1="307.5" y1="104.1" x2="527.3" y2="104.1" stroke="#e4e4e4" stroke-width="0.5" />
<line x1="417.4" y1="165.5" x2="417.4" y2="12" stroke="#e4e4e4" stroke-width="0.5" />
<line x1="307.5" y1="88.75" x2="527.3" y2="88.75" stroke="#e4e4e4" stroke-width="0.5" />
<line x1="439.38" y1="165.5" x2="439.38" y2="12" stroke="#e4e4e4" stroke-width="0.5" />
<line x1="307.5" y1="73.4" x2="527.3" y2="73.4" stroke="#e4e4e4" stroke-width="0.5" />
<line x1="461.36" y1="165.5" x2="461.36" y2="12" stroke="#e4e4e4" stroke-width="0.5" />
<line x1="307.5" y1="58.05" x2="527.3" y2="58.05" stroke="#e4e4e4" stroke-width="0.5" />
<line x1="483.34" y1="165.5" x2="483.34" y2="12" stroke="#e4e4e4" stroke-width="0.5" />
<line x1="307.5" y1="42.7" x2="527.3" y2="42.7" stroke="#e4e4e4" stroke-width="0.5" />
<line x1="505.32" y1="165.5" x2="505.32" y2="12" stroke="#e4e4e4" stroke-width="0.5" />
<line x1="307.5" y1="27.35" x2="527.3" y2="27.35" stroke="#e4e4e4" stroke-width="0.5" />
<line x1="527.3" y1="165.5" x2="527.3" y2="12" stroke="#e4e4e4" stroke-width="0.5" />
<line x1="307.5" y1="12" x2="527.3" y2="12" stroke="#e4e4e4" stroke-width="0.5" />
<line x1="307.5" y1="165.5" x2="527.3" y2="165.5" stroke="#333" stroke-width="0.7" />
<line x1="307.5" y1="165.5" x2="307.5" y2="12" stroke="#333" stroke-width="0.7" />
<line x1="307.5" y1="165.5" x2="307.5" y2="164.3" stroke="#333" stroke-width="0.4" />
<line x1="307.5" y1="165.5" x2="308.7" y2="165.5" stroke="#333" stroke-width="0.4" />
<line x1="329.48" y1="165.5" x2="329.48" y2="164.3" stroke="#333" stroke-width="0.4" />
<line x1="307.5" y1="150.15" x2="308.7" y2="150.15" stroke="#333" stroke-width="0.4" />
<line x1="351.46" y1="165.5" x2="351.46" y2="164.3" stroke="#333" stroke-width="0.4" />
<line x1="307.5" y1="134.8" x2="308.7" y2="134.8" stroke="#333" stroke-width="0.4" />
<line x1="373.44" y1="165.5" x2="373.44" y2="164.3" stroke="#333" stroke-width="0.4" />
<line x1="307.5" y1="119.45" x2="308.7" y2="119.45" stroke="#333" stroke-width="0.4" />
<line x1="395.42" y1="165.5" x2="395.42" y2="164.3" stroke="#333" stroke-width="0.4" />
<line x1="307.5" y1="104.1" x2="308.7" y2="104.1" stroke="#333" stroke-width="0.4" />
<line x1="417.4" y1="165.5" x2="417.4" y2="164.3" stroke="#333" stroke-width="0.4" />
<line x1="307.5" y1="88.75" x2="308.7" y2="88.75" stroke="#333" stroke-width="0.4" />
<line x1="439.38" y1="165.5" x2="439.38" y2="164.3" stroke="#333" stroke-width="0.4" />
<line x1="307.5" y1="73.4" x2="308.7" y2="73.4" stroke="#333" stroke-width="0.4" />
<line x1="461.36" y1="165.5" x2="461.36" y2="164.3" stroke="#333" stroke-width="0.4" />
<line x1="307.5" y1="58.05" x2="308.7" y2="58.05" stroke="#333" stroke-width="0.4" />
<line x1="483.34" y1="165.5" x2="483.34" y2="164.3" stroke="#333" stroke-width="0.4" />
<line x1="307.5" y1="42.7" x2="308.7" y2="42.7" stroke="#333" stroke-width="0.4" />
<line x1="505.32" y1="165.5" x2="505.32" y2="164.3" stroke="#333" stroke-width="0.4" />
<line x1="307.5" y1="27.35" x2="308.7" y2="27.35" stroke="#333" stroke-width="0.4" />
<line x1="527.3" y1="165.5" x2="527.3" y2="164.3" stroke="#333" stroke-width="0.4" />
<line x1="307.5" y1="12" x2="308.7" y2="12" stroke="#333" stroke-width="0.4" />
<text x="307.5" y="173.9" font-size="5.3" text-anchor="middle" font-weight="bold" fill="#0a0a0a" stroke="#0a0a0a" stroke-width="0.19" >0</text>
<text x="305" y="167.7" font-size="5.3" text-anchor="end" font-weight="bold" fill="#0a0a0a" stroke="#0a0a0a" stroke-width="0.19" >0</text>
<text x="329.48" y="173.9" font-size="5.3" text-anchor="middle" font-weight="bold" fill="#0a0a0a" stroke="#0a0a0a" stroke-width="0.19" >1</text>
<text x="305" y="152.35" font-size="5.3" text-anchor="end" font-weight="bold" fill="#0a0a0a" stroke="#0a0a0a" stroke-width="0.19" >1</text>
<text x="351.46" y="173.9" font-size="5.3" text-anchor="middle" font-weight="bold" fill="#0a0a0a" stroke="#0a0a0a" stroke-width="0.19" >2</text>
<text x="305" y="137" font-size="5.3" text-anchor="end" font-weight="bold" fill="#0a0a0a" stroke="#0a0a0a" stroke-width="0.19" >2</text>
<text x="373.44" y="173.9" font-size="5.3" text-anchor="middle" font-weight="bold" fill="#0a0a0a" stroke="#0a0a0a" stroke-width="0.19" >3</text>
<text x="305" y="121.65" font-size="5.3" text-anchor="end" font-weight="bold" fill="#0a0a0a" stroke="#0a0a0a" stroke-width="0.19" >3</text>
<text x="395.42" y="173.9" font-size="5.3" text-anchor="middle" font-weight="bold" fill="#0a0a0a" stroke="#0a0a0a" stroke-width="0.19" >4</text>
<text x="305" y="106.3" font-size="5.3" text-anchor="end" font-weight="bold" fill="#0a0a0a" stroke="#0a0a0a" stroke-width="0.19" >4</text>
<text x="417.4" y="173.9" font-size="5.3" text-anchor="middle" font-weight="bold" fill="#0a0a0a" stroke="#0a0a0a" stroke-width="0.19" >5</text>
<text x="305" y="90.95" font-size="5.3" text-anchor="end" font-weight="bold" fill="#0a0a0a" stroke="#0a0a0a" stroke-width="0.19" >5</text>
<text x="439.38" y="173.9" font-size="5.3" text-anchor="middle" font-weight="bold" fill="#0a0a0a" stroke="#0a0a0a" stroke-width="0.19" >6</text>
<text x="305" y="75.6" font-size="5.3" text-anchor="end" font-weight="bold" fill="#0a0a0a" stroke="#0a0a0a" stroke-width="0.19" >6</text>
<text x="461.36" y="173.9" font-size="5.3" text-anchor="middle" font-weight="bold" fill="#0a0a0a" stroke="#0a0a0a" stroke-width="0.19" >7</text>
<text x="305" y="60.25" font-size="5.3" text-anchor="end" font-weight="bold" fill="#0a0a0a" stroke="#0a0a0a" stroke-width="0.19" >7</text>
<text x="483.34" y="173.9" font-size="5.3" text-anchor="middle" font-weight="bold" fill="#0a0a0a" stroke="#0a0a0a" stroke-width="0.19" >8</text>
<text x="305" y="44.9" font-size="5.3" text-anchor="end" font-weight="bold" fill="#0a0a0a" stroke="#0a0a0a" stroke-width="0.19" >8</text>
<text x="505.32" y="173.9" font-size="5.3" text-anchor="middle" font-weight="bold" fill="#0a0a0a" stroke="#0a0a0a" stroke-width="0.19" >9</text>
<text x="305" y="29.55" font-size="5.3" text-anchor="end" font-weight="bold" fill="#0a0a0a" stroke="#0a0a0a" stroke-width="0.19" >9</text>
<text x="527.3" y="173.9" font-size="5.3" text-anchor="middle" font-weight="bold" fill="#0a0a0a" stroke="#0a0a0a" stroke-width="0.19" >10</text>
<text x="305" y="14.2" font-size="5.3" text-anchor="end" font-weight="bold" fill="#0a0a0a" stroke="#0a0a0a" stroke-width="0.19" >10</text>
<text x="308" y="10" font-size="6.4" text-anchor="start" font-weight="bold" fill="#1a1a1a">×10<tspan dy="-2.56" font-size="4.8">4</tspan></text>
<text x="513.6" y="184" font-size="6.4" text-anchor="start" font-weight="bold" fill="#1a1a1a">×10<tspan dy="-2.56" font-size="4.8">4</tspan></text>
<text x="417" y="181.5" font-size="5.3" text-anchor="middle" font-weight="bold" fill="#0a0a0a" stroke="#0a0a0a" stroke-width="0.19" >X</text>
<text x="0" y="0" font-size="5.3" text-anchor="middle" font-weight="bold" fill="#0a0a0a" stroke="#0a0a0a" stroke-width="0.19" transform="translate(295,89) rotate(-90)">Y</text>
<g transform="matrix(13.85 0 0 9.67 377.84 61.27)">
<circle r="1" fill="#ff0000" fill-opacity="1.0"/>
<g fill="none" stroke="#5a0008" stroke-width="0.42">
<circle r="0.392" stroke-width="0.21" vector-effect="non-scaling-stroke"/>
<circle r="0.543" stroke-width="0.21" vector-effect="non-scaling-stroke"/>
<circle r="0.65" stroke-width="0.21" vector-effect="non-scaling-stroke"/>
<circle r="0.733" stroke-width="0.21" vector-effect="non-scaling-stroke"/>
<circle r="0.8" stroke-width="0.21" vector-effect="non-scaling-stroke"/>
<circle r="0.854" stroke-width="0.21" vector-effect="non-scaling-stroke"/>
<circle r="0.898" stroke-width="0.21" vector-effect="non-scaling-stroke"/>
<circle r="0.933" stroke-width="0.21" vector-effect="non-scaling-stroke"/>
<circle r="0.96" stroke-width="0.21" vector-effect="non-scaling-stroke"/>
<circle r="0.98" stroke-width="0.21" vector-effect="non-scaling-stroke"/>
<circle r="0.993" stroke-width="0.21" vector-effect="non-scaling-stroke"/>
<circle r="0.999" stroke-width="0.21" vector-effect="non-scaling-stroke"/>
<path d="M-1 0L1 0M-0.975 -0.223L0.975 0.223M-0.901 -0.434L0.901 0.434M-0.782 -0.623L0.782 0.623M-0.623 -0.782L0.623 0.782M-0.434 -0.901L0.434 0.901M-0.223 -0.975L0.223 0.975M0 -1L0 1M0.223 -0.975L-0.223 0.975M0.434 -0.901L-0.434 0.901M0.623 -0.782L-0.623 0.782M0.782 -0.623L-0.782 0.623M0.901 -0.434L-0.901 0.434M0.975 -0.223L-0.975 0.223" vector-effect="non-scaling-stroke"/>
</g>
<circle r="0.13" fill="#140000"/>
<circle r="1" fill="none" stroke="#000" stroke-width="0.75" vector-effect="non-scaling-stroke"/>
</g>
<g transform="matrix(5.93 0 0 4.14 328.82 132.27)">
<circle r="1" fill="#ff0000" fill-opacity="1.0"/>
<g fill="none" stroke="#5a0008" stroke-width="0.62">
<circle r="0.392" stroke-width="0.31" vector-effect="non-scaling-stroke"/>
<circle r="0.543" stroke-width="0.31" vector-effect="non-scaling-stroke"/>
<circle r="0.65" stroke-width="0.31" vector-effect="non-scaling-stroke"/>
<circle r="0.733" stroke-width="0.31" vector-effect="non-scaling-stroke"/>
<circle r="0.8" stroke-width="0.31" vector-effect="non-scaling-stroke"/>
<circle r="0.854" stroke-width="0.31" vector-effect="non-scaling-stroke"/>
<circle r="0.898" stroke-width="0.31" vector-effect="non-scaling-stroke"/>
<circle r="0.933" stroke-width="0.31" vector-effect="non-scaling-stroke"/>
<circle r="0.96" stroke-width="0.31" vector-effect="non-scaling-stroke"/>
<circle r="0.98" stroke-width="0.31" vector-effect="non-scaling-stroke"/>
<circle r="0.993" stroke-width="0.31" vector-effect="non-scaling-stroke"/>
<circle r="0.999" stroke-width="0.31" vector-effect="non-scaling-stroke"/>
<path d="M-1 0L1 0M-0.975 -0.223L0.975 0.223M-0.901 -0.434L0.901 0.434M-0.782 -0.623L0.782 0.623M-0.623 -0.782L0.623 0.782M-0.434 -0.901L0.434 0.901M-0.223 -0.975L0.223 0.975M0 -1L0 1M0.223 -0.975L-0.223 0.975M0.434 -0.901L-0.434 0.901M0.623 -0.782L-0.623 0.782M0.782 -0.623L-0.782 0.623M0.901 -0.434L-0.901 0.434M0.975 -0.223L-0.975 0.223" vector-effect="non-scaling-stroke"/>
</g>
<circle r="0.13" fill="#140000"/>
<circle r="1" fill="none" stroke="#000" stroke-width="0.75" vector-effect="non-scaling-stroke"/>
</g>
<g transform="matrix(5.93 0 0 4.14 337.83 126.51)">
<circle r="1" fill="#ff0000" fill-opacity="1.0"/>
<g fill="none" stroke="#5a0008" stroke-width="0.62">
<circle r="0.392" stroke-width="0.31" vector-effect="non-scaling-stroke"/>
<circle r="0.543" stroke-width="0.31" vector-effect="non-scaling-stroke"/>
<circle r="0.65" stroke-width="0.31" vector-effect="non-scaling-stroke"/>
<circle r="0.733" stroke-width="0.31" vector-effect="non-scaling-stroke"/>
<circle r="0.8" stroke-width="0.31" vector-effect="non-scaling-stroke"/>
<circle r="0.854" stroke-width="0.31" vector-effect="non-scaling-stroke"/>
<circle r="0.898" stroke-width="0.31" vector-effect="non-scaling-stroke"/>
<circle r="0.933" stroke-width="0.31" vector-effect="non-scaling-stroke"/>
<circle r="0.96" stroke-width="0.31" vector-effect="non-scaling-stroke"/>
<circle r="0.98" stroke-width="0.31" vector-effect="non-scaling-stroke"/>
<circle r="0.993" stroke-width="0.31" vector-effect="non-scaling-stroke"/>
<circle r="0.999" stroke-width="0.31" vector-effect="non-scaling-stroke"/>
<path d="M-1 0L1 0M-0.975 -0.223L0.975 0.223M-0.901 -0.434L0.901 0.434M-0.782 -0.623L0.782 0.623M-0.623 -0.782L0.623 0.782M-0.434 -0.901L0.434 0.901M-0.223 -0.975L0.223 0.975M0 -1L0 1M0.223 -0.975L-0.223 0.975M0.434 -0.901L-0.434 0.901M0.623 -0.782L-0.623 0.782M0.782 -0.623L-0.782 0.623M0.901 -0.434L-0.901 0.434M0.975 -0.223L-0.975 0.223" vector-effect="non-scaling-stroke"/>
</g>
<circle r="0.13" fill="#140000"/>
<circle r="1" fill="none" stroke="#000" stroke-width="0.75" vector-effect="non-scaling-stroke"/>
</g>
<g transform="matrix(9.45 0 0 6.6 380.25 101.03)">
<circle r="1" fill="#ff0000" fill-opacity="1.0"/>
<g fill="none" stroke="#5a0008" stroke-width="0.62">
<circle r="0.392" stroke-width="0.31" vector-effect="non-scaling-stroke"/>
<circle r="0.543" stroke-width="0.31" vector-effect="non-scaling-stroke"/>
<circle r="0.65" stroke-width="0.31" vector-effect="non-scaling-stroke"/>
<circle r="0.733" stroke-width="0.31" vector-effect="non-scaling-stroke"/>
<circle r="0.8" stroke-width="0.31" vector-effect="non-scaling-stroke"/>
<circle r="0.854" stroke-width="0.31" vector-effect="non-scaling-stroke"/>
<circle r="0.898" stroke-width="0.31" vector-effect="non-scaling-stroke"/>
<circle r="0.933" stroke-width="0.31" vector-effect="non-scaling-stroke"/>
<circle r="0.96" stroke-width="0.31" vector-effect="non-scaling-stroke"/>
<circle r="0.98" stroke-width="0.31" vector-effect="non-scaling-stroke"/>
<circle r="0.993" stroke-width="0.31" vector-effect="non-scaling-stroke"/>
<circle r="0.999" stroke-width="0.31" vector-effect="non-scaling-stroke"/>
<path d="M-1 0L1 0M-0.975 -0.223L0.975 0.223M-0.901 -0.434L0.901 0.434M-0.782 -0.623L0.782 0.623M-0.623 -0.782L0.623 0.782M-0.434 -0.901L0.434 0.901M-0.223 -0.975L0.223 0.975M0 -1L0 1M0.223 -0.975L-0.223 0.975M0.434 -0.901L-0.434 0.901M0.623 -0.782L-0.623 0.782M0.782 -0.623L-0.782 0.623M0.901 -0.434L-0.901 0.434M0.975 -0.223L-0.975 0.223" vector-effect="non-scaling-stroke"/>
</g>
<circle r="0.13" fill="#140000"/>
<circle r="1" fill="none" stroke="#000" stroke-width="0.75" vector-effect="non-scaling-stroke"/>
</g>
<g transform="matrix(7.69 0 0 5.37 432.13 87.06)">
<circle r="1" fill="#ff0000" fill-opacity="1.0"/>
<g fill="none" stroke="#5a0008" stroke-width="0.62">
<circle r="0.392" stroke-width="0.31" vector-effect="non-scaling-stroke"/>
<circle r="0.543" stroke-width="0.31" vector-effect="non-scaling-stroke"/>
<circle r="0.65" stroke-width="0.31" vector-effect="non-scaling-stroke"/>
<circle r="0.733" stroke-width="0.31" vector-effect="non-scaling-stroke"/>
<circle r="0.8" stroke-width="0.31" vector-effect="non-scaling-stroke"/>
<circle r="0.854" stroke-width="0.31" vector-effect="non-scaling-stroke"/>
<circle r="0.898" stroke-width="0.31" vector-effect="non-scaling-stroke"/>
<circle r="0.933" stroke-width="0.31" vector-effect="non-scaling-stroke"/>
<circle r="0.96" stroke-width="0.31" vector-effect="non-scaling-stroke"/>
<circle r="0.98" stroke-width="0.31" vector-effect="non-scaling-stroke"/>
<circle r="0.993" stroke-width="0.31" vector-effect="non-scaling-stroke"/>
<circle r="0.999" stroke-width="0.31" vector-effect="non-scaling-stroke"/>
<path d="M-1 0L1 0M-0.975 -0.223L0.975 0.223M-0.901 -0.434L0.901 0.434M-0.782 -0.623L0.782 0.623M-0.623 -0.782L0.623 0.782M-0.434 -0.901L0.434 0.901M-0.223 -0.975L0.223 0.975M0 -1L0 1M0.223 -0.975L-0.223 0.975M0.434 -0.901L-0.434 0.901M0.623 -0.782L-0.623 0.782M0.782 -0.623L-0.782 0.623M0.901 -0.434L-0.901 0.434M0.975 -0.223L-0.975 0.223" vector-effect="non-scaling-stroke"/>
</g>
<circle r="0.13" fill="#140000"/>
<circle r="1" fill="none" stroke="#000" stroke-width="0.75" vector-effect="non-scaling-stroke"/>
</g>
<g transform="matrix(6.15 0 0 4.3 438.5 70.02)">
<circle r="1" fill="#ff0000" fill-opacity="1.0"/>
<g fill="none" stroke="#5a0008" stroke-width="0.62">
<circle r="0.392" stroke-width="0.31" vector-effect="non-scaling-stroke"/>
<circle r="0.543" stroke-width="0.31" vector-effect="non-scaling-stroke"/>
<circle r="0.65" stroke-width="0.31" vector-effect="non-scaling-stroke"/>
<circle r="0.733" stroke-width="0.31" vector-effect="non-scaling-stroke"/>
<circle r="0.8" stroke-width="0.31" vector-effect="non-scaling-stroke"/>
<circle r="0.854" stroke-width="0.31" vector-effect="non-scaling-stroke"/>
<circle r="0.898" stroke-width="0.31" vector-effect="non-scaling-stroke"/>
<circle r="0.933" stroke-width="0.31" vector-effect="non-scaling-stroke"/>
<circle r="0.96" stroke-width="0.31" vector-effect="non-scaling-stroke"/>
<circle r="0.98" stroke-width="0.31" vector-effect="non-scaling-stroke"/>
<circle r="0.993" stroke-width="0.31" vector-effect="non-scaling-stroke"/>
<circle r="0.999" stroke-width="0.31" vector-effect="non-scaling-stroke"/>
<path d="M-1 0L1 0M-0.975 -0.223L0.975 0.223M-0.901 -0.434L0.901 0.434M-0.782 -0.623L0.782 0.623M-0.623 -0.782L0.623 0.782M-0.434 -0.901L0.434 0.901M-0.223 -0.975L0.223 0.975M0 -1L0 1M0.223 -0.975L-0.223 0.975M0.434 -0.901L-0.434 0.901M0.623 -0.782L-0.623 0.782M0.782 -0.623L-0.782 0.623M0.901 -0.434L-0.901 0.434M0.975 -0.223L-0.975 0.223" vector-effect="non-scaling-stroke"/>
</g>
<circle r="0.13" fill="#140000"/>
<circle r="1" fill="none" stroke="#000" stroke-width="0.75" vector-effect="non-scaling-stroke"/>
</g>
<g transform="matrix(6.59 0 0 4.6 474.99 23.67)">
<circle r="1" fill="#ff0000" fill-opacity="1.0"/>
<g fill="none" stroke="#5a0008" stroke-width="0.62">
<circle r="0.392" stroke-width="0.31" vector-effect="non-scaling-stroke"/>
<circle r="0.543" stroke-width="0.31" vector-effect="non-scaling-stroke"/>
<circle r="0.65" stroke-width="0.31" vector-effect="non-scaling-stroke"/>
<circle r="0.733" stroke-width="0.31" vector-effect="non-scaling-stroke"/>
<circle r="0.8" stroke-width="0.31" vector-effect="non-scaling-stroke"/>
<circle r="0.854" stroke-width="0.31" vector-effect="non-scaling-stroke"/>
<circle r="0.898" stroke-width="0.31" vector-effect="non-scaling-stroke"/>
<circle r="0.933" stroke-width="0.31" vector-effect="non-scaling-stroke"/>
<circle r="0.96" stroke-width="0.31" vector-effect="non-scaling-stroke"/>
<circle r="0.98" stroke-width="0.31" vector-effect="non-scaling-stroke"/>
<circle r="0.993" stroke-width="0.31" vector-effect="non-scaling-stroke"/>
<circle r="0.999" stroke-width="0.31" vector-effect="non-scaling-stroke"/>
<path d="M-1 0L1 0M-0.975 -0.223L0.975 0.223M-0.901 -0.434L0.901 0.434M-0.782 -0.623L0.782 0.623M-0.623 -0.782L0.623 0.782M-0.434 -0.901L0.434 0.901M-0.223 -0.975L0.223 0.975M0 -1L0 1M0.223 -0.975L-0.223 0.975M0.434 -0.901L-0.434 0.901M0.623 -0.782L-0.623 0.782M0.782 -0.623L-0.782 0.623M0.901 -0.434L-0.901 0.434M0.975 -0.223L-0.975 0.223" vector-effect="non-scaling-stroke"/>
</g>
<circle r="0.13" fill="#140000"/>
<circle r="1" fill="none" stroke="#000" stroke-width="0.75" vector-effect="non-scaling-stroke"/>
</g>
<g transform="matrix(8.24 0 0 5.76 499.82 36.87)">
<circle r="1" fill="#ff0000" fill-opacity="1.0"/>
<g fill="none" stroke="#5a0008" stroke-width="0.62">
<circle r="0.392" stroke-width="0.31" vector-effect="non-scaling-stroke"/>
<circle r="0.543" stroke-width="0.31" vector-effect="non-scaling-stroke"/>
<circle r="0.65" stroke-width="0.31" vector-effect="non-scaling-stroke"/>
<circle r="0.733" stroke-width="0.31" vector-effect="non-scaling-stroke"/>
<circle r="0.8" stroke-width="0.31" vector-effect="non-scaling-stroke"/>
<circle r="0.854" stroke-width="0.31" vector-effect="non-scaling-stroke"/>
<circle r="0.898" stroke-width="0.31" vector-effect="non-scaling-stroke"/>
<circle r="0.933" stroke-width="0.31" vector-effect="non-scaling-stroke"/>
<circle r="0.96" stroke-width="0.31" vector-effect="non-scaling-stroke"/>
<circle r="0.98" stroke-width="0.31" vector-effect="non-scaling-stroke"/>
<circle r="0.993" stroke-width="0.31" vector-effect="non-scaling-stroke"/>
<circle r="0.999" stroke-width="0.31" vector-effect="non-scaling-stroke"/>
<path d="M-1 0L1 0M-0.975 -0.223L0.975 0.223M-0.901 -0.434L0.901 0.434M-0.782 -0.623L0.782 0.623M-0.623 -0.782L0.623 0.782M-0.434 -0.901L0.434 0.901M-0.223 -0.975L0.223 0.975M0 -1L0 1M0.223 -0.975L-0.223 0.975M0.434 -0.901L-0.434 0.901M0.623 -0.782L-0.623 0.782M0.782 -0.623L-0.782 0.623M0.901 -0.434L-0.901 0.434M0.975 -0.223L-0.975 0.223" vector-effect="non-scaling-stroke"/>
</g>
<circle r="0.13" fill="#140000"/>
<circle r="1" fill="none" stroke="#000" stroke-width="0.75" vector-effect="non-scaling-stroke"/>
</g>
<g transform="matrix(17.25 0 0 12.05 484.22 33.8)">
<circle r="1" fill="#ff0000" fill-opacity="1.0"/>
<g fill="none" stroke="#5a0008" stroke-width="0.42">
<circle r="0.392" stroke-width="0.21" vector-effect="non-scaling-stroke"/>
<circle r="0.543" stroke-width="0.21" vector-effect="non-scaling-stroke"/>
<circle r="0.65" stroke-width="0.21" vector-effect="non-scaling-stroke"/>
<circle r="0.733" stroke-width="0.21" vector-effect="non-scaling-stroke"/>
<circle r="0.8" stroke-width="0.21" vector-effect="non-scaling-stroke"/>
<circle r="0.854" stroke-width="0.21" vector-effect="non-scaling-stroke"/>
<circle r="0.898" stroke-width="0.21" vector-effect="non-scaling-stroke"/>
<circle r="0.933" stroke-width="0.21" vector-effect="non-scaling-stroke"/>
<circle r="0.96" stroke-width="0.21" vector-effect="non-scaling-stroke"/>
<circle r="0.98" stroke-width="0.21" vector-effect="non-scaling-stroke"/>
<circle r="0.993" stroke-width="0.21" vector-effect="non-scaling-stroke"/>
<circle r="0.999" stroke-width="0.21" vector-effect="non-scaling-stroke"/>
<path d="M-1 0L1 0M-0.975 -0.223L0.975 0.223M-0.901 -0.434L0.901 0.434M-0.782 -0.623L0.782 0.623M-0.623 -0.782L0.623 0.782M-0.434 -0.901L0.434 0.901M-0.223 -0.975L0.223 0.975M0 -1L0 1M0.223 -0.975L-0.223 0.975M0.434 -0.901L-0.434 0.901M0.623 -0.782L-0.623 0.782M0.782 -0.623L-0.782 0.623M0.901 -0.434L-0.901 0.434M0.975 -0.223L-0.975 0.223" vector-effect="non-scaling-stroke"/>
</g>
<circle r="0.13" fill="#140000"/>
<circle r="1" fill="none" stroke="#000" stroke-width="0.75" vector-effect="non-scaling-stroke"/>
</g>
<g transform="matrix(17.91 0 0 12.51 463.34 65.88)">
<circle r="1" fill="#ff0000" fill-opacity="1.0"/>
<g fill="none" stroke="#5a0008" stroke-width="0.42">
<circle r="0.392" stroke-width="0.21" vector-effect="non-scaling-stroke"/>
<circle r="0.543" stroke-width="0.21" vector-effect="non-scaling-stroke"/>
<circle r="0.65" stroke-width="0.21" vector-effect="non-scaling-stroke"/>
<circle r="0.733" stroke-width="0.21" vector-effect="non-scaling-stroke"/>
<circle r="0.8" stroke-width="0.21" vector-effect="non-scaling-stroke"/>
<circle r="0.854" stroke-width="0.21" vector-effect="non-scaling-stroke"/>
<circle r="0.898" stroke-width="0.21" vector-effect="non-scaling-stroke"/>
<circle r="0.933" stroke-width="0.21" vector-effect="non-scaling-stroke"/>
<circle r="0.96" stroke-width="0.21" vector-effect="non-scaling-stroke"/>
<circle r="0.98" stroke-width="0.21" vector-effect="non-scaling-stroke"/>
<circle r="0.993" stroke-width="0.21" vector-effect="non-scaling-stroke"/>
<circle r="0.999" stroke-width="0.21" vector-effect="non-scaling-stroke"/>
<path d="M-1 0L1 0M-0.975 -0.223L0.975 0.223M-0.901 -0.434L0.901 0.434M-0.782 -0.623L0.782 0.623M-0.623 -0.782L0.623 0.782M-0.434 -0.901L0.434 0.901M-0.223 -0.975L0.223 0.975M0 -1L0 1M0.223 -0.975L-0.223 0.975M0.434 -0.901L-0.434 0.901M0.623 -0.782L-0.623 0.782M0.782 -0.623L-0.782 0.623M0.901 -0.434L-0.901 0.434M0.975 -0.223L-0.975 0.223" vector-effect="non-scaling-stroke"/>
</g>
<circle r="0.13" fill="#140000"/>
<circle r="1" fill="none" stroke="#000" stroke-width="0.75" vector-effect="non-scaling-stroke"/>
</g>
<g transform="matrix(10.22 0 0 7.14 505.32 65.26)">
<circle r="1" fill="#ff0000" fill-opacity="1.0"/>
<g fill="none" stroke="#5a0008" stroke-width="0.62">
<circle r="0.392" stroke-width="0.31" vector-effect="non-scaling-stroke"/>
<circle r="0.543" stroke-width="0.31" vector-effect="non-scaling-stroke"/>
<circle r="0.65" stroke-width="0.31" vector-effect="non-scaling-stroke"/>
<circle r="0.733" stroke-width="0.31" vector-effect="non-scaling-stroke"/>
<circle r="0.8" stroke-width="0.31" vector-effect="non-scaling-stroke"/>
<circle r="0.854" stroke-width="0.31" vector-effect="non-scaling-stroke"/>
<circle r="0.898" stroke-width="0.31" vector-effect="non-scaling-stroke"/>
<circle r="0.933" stroke-width="0.31" vector-effect="non-scaling-stroke"/>
<circle r="0.96" stroke-width="0.31" vector-effect="non-scaling-stroke"/>
<circle r="0.98" stroke-width="0.31" vector-effect="non-scaling-stroke"/>
<circle r="0.993" stroke-width="0.31" vector-effect="non-scaling-stroke"/>
<circle r="0.999" stroke-width="0.31" vector-effect="non-scaling-stroke"/>
<path d="M-1 0L1 0M-0.975 -0.223L0.975 0.223M-0.901 -0.434L0.901 0.434M-0.782 -0.623L0.782 0.623M-0.623 -0.782L0.623 0.782M-0.434 -0.901L0.434 0.901M-0.223 -0.975L0.223 0.975M0 -1L0 1M0.223 -0.975L-0.223 0.975M0.434 -0.901L-0.434 0.901M0.623 -0.782L-0.623 0.782M0.782 -0.623L-0.782 0.623M0.901 -0.434L-0.901 0.434M0.975 -0.223L-0.975 0.223" vector-effect="non-scaling-stroke"/>
</g>
<circle r="0.13" fill="#140000"/>
<circle r="1" fill="none" stroke="#000" stroke-width="0.75" vector-effect="non-scaling-stroke"/>
</g>
<path d="M307.2 165.6 C310.08 163.67 319.97 157.57 324.5 154 C329.03 150.43 328.67 148.43 334.4 144.2 C340.13 139.97 352.37 132.97 358.9 128.6 C365.43 124.23 368.78 121.27 373.6 118 C378.42 114.73 381.73 112.92 387.8 109 C393.87 105.08 403.93 98.5 410 94.5 C416.07 90.5 418.6 89.42 424.2 85 C429.8 80.58 436.83 73.58 443.6 68 C450.37 62.42 459.57 55.33 464.8 51.5 C470.03 47.67 469.13 48.75 475 45 C480.87 41.25 491.28 34.53 500 29 C508.72 23.47 522.75 14.67 527.3 11.8" fill="none" stroke="#EDB120" stroke-width="1.15" stroke-linejoin="round" stroke-linecap="round" />
<path d="M307.2 165.6 C311.24 163.27 318.15 160.41 324.5 155.6 C330.85 150.79 329.62 149.57 334.4 145 C339.18 140.43 339.66 140.01 345 136 C350.34 131.99 351.77 131.23 357.3 127.8 C362.83 124.37 365.27 124.17 368.7 121.3 C372.13 118.43 369.69 118 372 115.5 C374.31 113 375.92 112.47 378.6 110.6 C381.28 108.73 382.12 109.27 383.5 107.5 C384.88 105.73 383.31 105.57 384.5 103 C385.69 100.43 385.15 99.37 388.6 96.5 C392.05 93.63 393.37 93.76 399.3 90.7 C405.23 87.64 408.84 86.64 414 83.4 C419.16 80.16 419.3 79.86 421.4 76.8 C423.5 73.74 423 73.54 423 70.3 C423 67.06 421.03 66.14 421.4 62.9 C421.77 59.66 421.75 59.46 424.6 56.4 C427.45 53.34 427.67 53.25 433.6 49.8 C439.53 46.35 443.84 44.82 450 41.6 C456.16 38.38 455.1 39.48 460 36 C464.9 32.52 465.17 30.08 471 26.7 C476.83 23.32 478.47 23.58 485 21.5 C491.53 19.42 492.47 19.43 499 17.8 C505.53 16.17 506.4 15.9 513 14.5 C519.6 13.1 523.96 12.43 527.3 11.8" fill="none" stroke="#77AC30" stroke-width="1.15" stroke-linejoin="round" stroke-linecap="round" />
<g transform="matrix(16.27 0 0 11.36 353.33 139.79)">
<circle r="1" fill="#ff0000" fill-opacity="1.0"/>
<g fill="none" stroke="#5a0008" stroke-width="0.42">
<circle r="0.392" stroke-width="0.21" vector-effect="non-scaling-stroke"/>
<circle r="0.543" stroke-width="0.21" vector-effect="non-scaling-stroke"/>
<circle r="0.65" stroke-width="0.21" vector-effect="non-scaling-stroke"/>
<circle r="0.733" stroke-width="0.21" vector-effect="non-scaling-stroke"/>
<circle r="0.8" stroke-width="0.21" vector-effect="non-scaling-stroke"/>
<circle r="0.854" stroke-width="0.21" vector-effect="non-scaling-stroke"/>
<circle r="0.898" stroke-width="0.21" vector-effect="non-scaling-stroke"/>
<circle r="0.933" stroke-width="0.21" vector-effect="non-scaling-stroke"/>
<circle r="0.96" stroke-width="0.21" vector-effect="non-scaling-stroke"/>
<circle r="0.98" stroke-width="0.21" vector-effect="non-scaling-stroke"/>
<circle r="0.993" stroke-width="0.21" vector-effect="non-scaling-stroke"/>
<circle r="0.999" stroke-width="0.21" vector-effect="non-scaling-stroke"/>
<path d="M-1 0L1 0M-0.975 -0.223L0.975 0.223M-0.901 -0.434L0.901 0.434M-0.782 -0.623L0.782 0.623M-0.623 -0.782L0.623 0.782M-0.434 -0.901L0.434 0.901M-0.223 -0.975L0.223 0.975M0 -1L0 1M0.223 -0.975L-0.223 0.975M0.434 -0.901L-0.434 0.901M0.623 -0.782L-0.623 0.782M0.782 -0.623L-0.782 0.623M0.901 -0.434L-0.901 0.434M0.975 -0.223L-0.975 0.223" vector-effect="non-scaling-stroke"/>
</g>
<circle r="0.13" fill="#140000"/>
<circle r="1" fill="none" stroke="#000" stroke-width="0.75" vector-effect="non-scaling-stroke"/>
</g>
<path d="M307.2 165.6 C309.55 164.35 316.23 160.3 321.3 158.1 C326.37 155.9 333.82 153.45 337.6 152.4 C341.38 151.35 341.82 151.87 344 151.8 C346.18 151.73 348.37 152.43 350.7 152 C353.03 151.57 355.53 150.23 358 149.2 C360.47 148.17 360.17 148.55 365.5 145.8 C370.83 143.05 382.58 136.63 390 132.7 C397.42 128.77 402.45 125.98 410 122.2 C417.55 118.42 428.63 113.2 435.3 110 C441.97 106.8 446.22 104.58 450 103 C453.78 101.42 454.92 101.77 458 100.5 C461.08 99.23 465.33 97.07 468.5 95.4 C471.67 93.73 474.25 92.4 477 90.5 C479.75 88.6 482.5 86.25 485 84 C487.5 81.75 489.83 79.33 492 77 C494.17 74.67 496.08 72.5 498 70 C499.92 67.5 501.75 64.77 503.5 62 C505.25 59.23 506.83 56.9 508.5 53.4 C510.17 49.9 511.72 45.23 513.5 41 C515.28 36.77 516.9 32.87 519.2 28 C521.5 23.13 525.95 14.5 527.3 11.8" fill="none" stroke="#7E2F8E" stroke-width="1.15" stroke-linejoin="round" stroke-linecap="round" />
<path d="M307.2 165.6 C308.45 163.93 312.63 158.35 314.7 155.6 C316.77 152.85 317.68 151.27 319.6 149.1 C321.52 146.93 324.28 144.92 326.2 142.6 C328.12 140.28 329.05 137.67 331.1 135.2 C333.15 132.73 335.77 130.4 338.5 127.8 C341.23 125.2 344.65 121.9 347.5 119.6 C350.35 117.3 353.02 115.85 355.6 114 C358.18 112.15 360.27 110.25 363 108.5 C365.73 106.75 369.4 104.92 372 103.5 C374.6 102.08 375.15 101.72 378.6 100 C382.05 98.28 387.63 95.57 392.7 93.2 C397.77 90.83 405.28 87.53 409 85.8 C412.72 84.07 411.72 84.43 415 82.8 C418.28 81.17 423.93 78.47 428.7 76 C433.47 73.53 437.58 71.17 443.6 68 C449.62 64.83 458.48 60.83 464.8 57 C471.12 53.17 475.8 49.08 481.5 45 C487.2 40.92 493.58 36.42 499 32.5 C504.42 28.58 509.28 24.95 514 21.5 C518.72 18.05 525.08 13.42 527.3 11.8" fill="none" stroke="#D95319" stroke-width="1.15" stroke-linejoin="round" stroke-linecap="round" />
<path d="M307.2 165.6 C309.72 164.04 313.38 161.98 318 158.9 C322.62 155.82 324.32 155.06 327 152.4 C329.68 149.74 328.73 150.56 329.5 147.5 C330.27 144.44 329.16 142.75 330.3 139.3 C331.44 135.85 331.16 136.15 334.4 132.7 C337.64 129.25 340 126.97 344.2 124.5 C348.4 122.03 348.97 123.8 352.4 122.1 C355.83 120.4 355.21 120.02 358.9 117.2 C362.59 114.38 362.86 114.13 368.2 110 C373.54 105.87 372.05 107.27 381.8 99.5 C391.55 91.73 394.09 89.44 410 76.7 C425.91 63.96 436.35 55.1 450 44.9 C463.65 34.7 460.1 37.53 468.5 33 C476.9 28.47 477.72 28.77 486 25.5 C494.28 22.23 497 21.45 504 19 C511 16.55 510.56 16.68 516 15 C521.44 13.32 524.66 12.55 527.3 11.8" fill="none" stroke="#0072BD" stroke-width="1.15" stroke-linejoin="round" stroke-linecap="round" />
<circle cx="527.3" cy="11.8" r="1.7" fill="#e514e5" stroke="#b000b0" stroke-width="0.5"/>
<circle cx="307.2" cy="165.6" r="1.6" fill="#22e6e6" stroke="#00a0b0" stroke-width="0.5"/>
<clipPath id="cb"><rect x="520" y="0" width="11" height="30"/></clipPath>
<g clip-path="url(#cb)">
<text x="527.6" y="13.9" font-size="5.4" text-anchor="start" font-weight="bold" fill="#0a0a0a" stroke="#0a0a0a" stroke-width="0.19" >Goal</text>
</g>
<text x="309" y="167.7" font-size="5.1" text-anchor="start" font-weight="bold" fill="#0a0a0a" stroke="#0a0a0a" stroke-width="0.18" >UAV</text>
<text x="394.3" y="52.9" font-size="5.2" text-anchor="middle" font-weight="bold" fill="#0a0a0a" stroke="#0a0a0a" stroke-width="0.18" >0</text>
<text x="487.6" y="20.5" font-size="5.2" text-anchor="middle" font-weight="bold" fill="#0a0a0a" stroke="#0a0a0a" stroke-width="0.18" >11</text>
<text x="504.7" y="23.5" font-size="5.2" text-anchor="middle" font-weight="bold" fill="#0a0a0a" stroke="#0a0a0a" stroke-width="0.18" >8</text>
<text x="511" y="32.4" font-size="5.2" text-anchor="middle" font-weight="bold" fill="#0a0a0a" stroke="#0a0a0a" stroke-width="0.18" >9</text>
<text x="484.3" y="55.3" font-size="5.2" text-anchor="middle" font-weight="bold" fill="#0a0a0a" stroke="#0a0a0a" stroke-width="0.18" >7</text>
<text x="520.7" y="60.4" font-size="5.2" text-anchor="middle" font-weight="bold" fill="#0a0a0a" stroke="#0a0a0a" stroke-width="0.18" >10</text>
<text x="443.8" y="83.3" font-size="5.2" text-anchor="middle" font-weight="bold" fill="#0a0a0a" stroke="#0a0a0a" stroke-width="0.18" >5</text>
<text x="372.7" y="129.9" font-size="5.2" text-anchor="middle" font-weight="bold" fill="#0a0a0a" stroke="#0a0a0a" stroke-width="0.18" >3</text>
<text x="346.5" y="123.2" font-size="3.8" text-anchor="middle" font-weight="bold" fill="#0a0a0a" stroke="#0a0a0a" stroke-width="0.13" >1</text>
<text x="393" y="95.7" font-size="3.8" text-anchor="middle" font-weight="bold" fill="#0a0a0a" stroke="#0a0a0a" stroke-width="0.13" >4</text>
<line x1="318" y1="17.8" x2="334.5" y2="17.8" stroke="#EDB120" stroke-width="1.0" />
<text x="336.6" y="19.7" font-size="5.3" text-anchor="start" font-weight="bold" fill="#0a0a0a" stroke="#0a0a0a" stroke-width="0.19" >Astar</text>
<line x1="318" y1="25" x2="334.5" y2="25" stroke="#7E2F8E" stroke-width="1.0" />
<text x="336.6" y="26.9" font-size="5.3" text-anchor="start" font-weight="bold" fill="#0a0a0a" stroke="#0a0a0a" stroke-width="0.19" >IFDS</text>
<line x1="318" y1="32.3" x2="334.5" y2="32.3" stroke="#77AC30" stroke-width="1.0" />
<text x="336.6" y="34.2" font-size="5.3" text-anchor="start" font-weight="bold" fill="#0a0a0a" stroke="#0a0a0a" stroke-width="0.19" >RRT</text>
<line x1="318" y1="39.4" x2="334.5" y2="39.4" stroke="#D95319" stroke-width="1.0" />
<text x="336.6" y="41.3" font-size="5.3" text-anchor="start" font-weight="bold" fill="#0a0a0a" stroke="#0a0a0a" stroke-width="0.19" >DDPG</text>
<line x1="318" y1="46.6" x2="334.5" y2="46.6" stroke="#0072BD" stroke-width="1.0" />
<text x="336.6" y="48.5" font-size="5.3" text-anchor="start" font-weight="bold" fill="#0a0a0a" stroke="#0a0a0a" stroke-width="0.19" >DDPG-IFDS</text>
<text class="cap" transform="translate(410 202.9) scale(1.12 1)" font-size="12" text-anchor="middle" fill="#111">(<tspan font-weight="bold">b</tspan>)</text>
<line x1="207.4" y1="389.03" x2="247" y2="356.43" stroke="#e4e4e4" stroke-width="0.5" />
<line x1="247" y1="356.43" x2="247" y2="219.85" stroke="#e4e4e4" stroke-width="0.5" />
<line x1="171.82" y1="387.57" x2="211.42" y2="354.97" stroke="#e4e4e4" stroke-width="0.5" />
<line x1="211.42" y1="354.97" x2="211.42" y2="218.39" stroke="#e4e4e4" stroke-width="0.5" />
<line x1="136.24" y1="386.11" x2="175.84" y2="353.51" stroke="#e4e4e4" stroke-width="0.5" />
<line x1="175.84" y1="353.51" x2="175.84" y2="216.93" stroke="#e4e4e4" stroke-width="0.5" />
<line x1="100.66" y1="384.65" x2="140.26" y2="352.05" stroke="#e4e4e4" stroke-width="0.5" />
<line x1="140.26" y1="352.05" x2="140.26" y2="215.47" stroke="#e4e4e4" stroke-width="0.5" />
<line x1="65.08" y1="383.19" x2="104.68" y2="350.59" stroke="#e4e4e4" stroke-width="0.5" />
<line x1="104.68" y1="350.59" x2="104.68" y2="214.01" stroke="#e4e4e4" stroke-width="0.5" />
<line x1="29.5" y1="381.73" x2="69.1" y2="349.13" stroke="#e4e4e4" stroke-width="0.5" />
<line x1="69.1" y1="349.13" x2="69.1" y2="212.55" stroke="#e4e4e4" stroke-width="0.5" />
<line x1="207.4" y1="389.03" x2="29.5" y2="381.73" stroke="#e4e4e4" stroke-width="0.5" />
<line x1="29.5" y1="381.73" x2="29.5" y2="245.15" stroke="#e4e4e4" stroke-width="0.5" />
<line x1="227.2" y1="372.73" x2="49.3" y2="365.43" stroke="#e4e4e4" stroke-width="0.5" />
<line x1="49.3" y1="365.43" x2="49.3" y2="228.85" stroke="#e4e4e4" stroke-width="0.5" />
<line x1="247" y1="356.43" x2="69.1" y2="349.13" stroke="#e4e4e4" stroke-width="0.5" />
<line x1="69.1" y1="349.13" x2="69.1" y2="212.55" stroke="#e4e4e4" stroke-width="0.5" />
<line x1="29.5" y1="356.8" x2="69.1" y2="324.2" stroke="#e4e4e4" stroke-width="0.5" />
<line x1="69.1" y1="324.2" x2="247" y2="331.5" stroke="#e4e4e4" stroke-width="0.5" />
<line x1="29.5" y1="329.7" x2="69.1" y2="297.1" stroke="#e4e4e4" stroke-width="0.5" />
<line x1="69.1" y1="297.1" x2="247" y2="304.4" stroke="#e4e4e4" stroke-width="0.5" />
<line x1="29.5" y1="302.6" x2="69.1" y2="270" stroke="#e4e4e4" stroke-width="0.5" />
<line x1="69.1" y1="270" x2="247" y2="277.3" stroke="#e4e4e4" stroke-width="0.5" />
<line x1="29.5" y1="275.5" x2="69.1" y2="242.9" stroke="#e4e4e4" stroke-width="0.5" />
<line x1="69.1" y1="242.9" x2="247" y2="250.2" stroke="#e4e4e4" stroke-width="0.5" />
<line x1="29.5" y1="248.4" x2="69.1" y2="215.8" stroke="#e4e4e4" stroke-width="0.5" />
<line x1="69.1" y1="215.8" x2="247" y2="223.1" stroke="#e4e4e4" stroke-width="0.5" />
<line x1="29.5" y1="381.73" x2="29.5" y2="245.15" stroke="#333" stroke-width="0.5" />
<line x1="29.5" y1="381.73" x2="207.4" y2="389.03" stroke="#333" stroke-width="0.5" />
<line x1="207.4" y1="389.03" x2="247" y2="356.43" stroke="#333" stroke-width="0.5" />
<line x1="29.5" y1="356.8" x2="27.5" y2="356.9" stroke="#333" stroke-width="0.5" />
<line x1="29.5" y1="329.7" x2="27.5" y2="329.8" stroke="#333" stroke-width="0.5" />
<line x1="29.5" y1="302.6" x2="27.5" y2="302.7" stroke="#333" stroke-width="0.5" />
<line x1="29.5" y1="275.5" x2="27.5" y2="275.6" stroke="#333" stroke-width="0.5" />
<line x1="29.5" y1="248.4" x2="27.5" y2="248.5" stroke="#333" stroke-width="0.5" />
<line x1="207.4" y1="389.03" x2="207.2" y2="391.03" stroke="#333" stroke-width="0.5" />
<line x1="171.82" y1="387.57" x2="171.62" y2="389.57" stroke="#333" stroke-width="0.5" />
<line x1="136.24" y1="386.11" x2="136.04" y2="388.11" stroke="#333" stroke-width="0.5" />
<line x1="100.66" y1="384.65" x2="100.46" y2="386.65" stroke="#333" stroke-width="0.5" />
<line x1="65.08" y1="383.19" x2="64.88" y2="385.19" stroke="#333" stroke-width="0.5" />
<line x1="29.5" y1="381.73" x2="29.3" y2="383.73" stroke="#333" stroke-width="0.5" />
<line x1="207.4" y1="389.03" x2="209.4" y2="389.63" stroke="#333" stroke-width="0.5" />
<line x1="227.2" y1="372.73" x2="229.2" y2="373.33" stroke="#333" stroke-width="0.5" />
<line x1="247" y1="356.43" x2="249" y2="357.03" stroke="#333" stroke-width="0.5" />
<text x="20.8" y="359.6" font-size="6.8" text-anchor="end" font-weight="bold" fill="#0a0a0a" stroke="#0a0a0a" stroke-width="0.24" >0.5</text>
<text x="20.8" y="332.5" font-size="6.8" text-anchor="end" font-weight="bold" fill="#0a0a0a" stroke="#0a0a0a" stroke-width="0.24" >1</text>
<text x="20.8" y="305.4" font-size="6.8" text-anchor="end" font-weight="bold" fill="#0a0a0a" stroke="#0a0a0a" stroke-width="0.24" >1.5</text>
<text x="20.8" y="278.3" font-size="6.8" text-anchor="end" font-weight="bold" fill="#0a0a0a" stroke="#0a0a0a" stroke-width="0.24" >2</text>
<text x="20.8" y="251.2" font-size="6.8" text-anchor="end" font-weight="bold" fill="#0a0a0a" stroke="#0a0a0a" stroke-width="0.24" >2.5</text>
<text x="11.3" y="232.2" font-size="7.2" text-anchor="start" font-weight="bold" fill="#1a1a1a">×10<tspan dy="-2.88" font-size="5.4">4</tspan></text>
<text x="0" y="0" font-size="6.8" text-anchor="middle" font-weight="bold" fill="#0a0a0a" stroke="#0a0a0a" stroke-width="0.24" transform="translate(8,312) rotate(-90)">Z</text>
<text x="25.2" y="394.9" font-size="6.8" text-anchor="middle" font-weight="bold" fill="#0a0a0a" stroke="#0a0a0a" stroke-width="0.24" >10</text>
<text x="62.8" y="396.1" font-size="6.8" text-anchor="middle" font-weight="bold" fill="#0a0a0a" stroke="#0a0a0a" stroke-width="0.24" >8</text>
<text x="98" y="397.8" font-size="6.8" text-anchor="middle" font-weight="bold" fill="#0a0a0a" stroke="#0a0a0a" stroke-width="0.24" >6</text>
<text x="133.5" y="399.9" font-size="6.8" text-anchor="middle" font-weight="bold" fill="#0a0a0a" stroke="#0a0a0a" stroke-width="0.24" >4</text>
<text x="168.6" y="401" font-size="6.8" text-anchor="middle" font-weight="bold" fill="#0a0a0a" stroke="#0a0a0a" stroke-width="0.24" >2</text>
<text x="206" y="402.4" font-size="6.8" text-anchor="middle" font-weight="bold" fill="#0a0a0a" stroke="#0a0a0a" stroke-width="0.24" >00</text>
<text x="228" y="386.1" font-size="6.8" text-anchor="middle" font-weight="bold" fill="#0a0a0a" stroke="#0a0a0a" stroke-width="0.24" >5</text>
<text x="250.3" y="368.9" font-size="6.8" text-anchor="middle" font-weight="bold" fill="#0a0a0a" stroke="#0a0a0a" stroke-width="0.24" >10</text>
<text x="39" y="404.4" font-size="7.2" text-anchor="start" font-weight="bold" fill="#1a1a1a">×10<tspan dy="-2.88" font-size="5.4">4</tspan></text>
<text x="256.3" y="384.6" font-size="7.2" text-anchor="start" font-weight="bold" fill="#1a1a1a">×10<tspan dy="-2.88" font-size="5.4">4</tspan></text>
<text x="139.3" y="406.3" font-size="6.8" text-anchor="middle" font-weight="bold" fill="#0a0a0a" stroke="#0a0a0a" stroke-width="0.24" >Y</text>
<text x="238" y="400" font-size="6.8" text-anchor="middle" font-weight="bold" fill="#0a0a0a" stroke="#0a0a0a" stroke-width="0.24" >X</text>
<g>
<circle r="1" transform="matrix(-8.47 0 0 25.25 128.2 325)" fill="#ff0000" fill-opacity="1.0" stroke="none"/>
<g fill="none" stroke="#6a000c" stroke-width="0.5" vector-effect="non-scaling-stroke">
<path d="M-0.359 0.933A1 1 0 0 1 0.07 -0.998" transform="matrix(0.71 -0.58 -3.18 -0.13 128.2 348.26)" vector-effect="non-scaling-stroke"/>
<path d="M-0.312 0.95A1 1 0 0 1 0.121 -0.993" transform="matrix(0.98 -0.81 -4.41 -0.18 128.2 346.33)" vector-effect="non-scaling-stroke"/>
<path d="M-0.289 0.957A1 1 0 0 1 0.144 -0.99" transform="matrix(1.18 -0.97 -5.29 -0.22 128.2 344.39)" vector-effect="non-scaling-stroke"/>
<path d="M-0.275 0.962A1 1 0 0 1 0.159 -0.987" transform="matrix(1.33 -1.09 -5.97 -0.24 128.2 342.45)" vector-effect="non-scaling-stroke"/>
<path d="M-0.264 0.965A1 1 0 0 1 0.17 -0.985" transform="matrix(1.45 -1.19 -6.52 -0.27 128.2 340.51)" vector-effect="non-scaling-stroke"/>
<path d="M-0.256 0.967A1 1 0 0 1 0.179 -0.984" transform="matrix(1.55 -1.28 -6.97 -0.29 128.2 338.57)" vector-effect="non-scaling-stroke"/>
<path d="M-0.248 0.969A1 1 0 0 1 0.186 -0.983" transform="matrix(1.63 -1.34 -7.34 -0.3 128.2 336.63)" vector-effect="non-scaling-stroke"/>
<path d="M-0.242 0.97A1 1 0 0 1 0.192 -0.981" transform="matrix(1.7 -1.4 -7.64 -0.31 128.2 334.69)" vector-effect="non-scaling-stroke"/>
<path d="M-0.237 0.972A1 1 0 0 1 0.198 -0.98" transform="matrix(1.75 -1.44 -7.87 -0.32 128.2 332.75)" vector-effect="non-scaling-stroke"/>
<path d="M-0.232 0.973A1 1 0 0 1 0.203 -0.979" transform="matrix(1.79 -1.47 -8.05 -0.33 128.2 330.82)" vector-effect="non-scaling-stroke"/>
<path d="M-0.227 0.974A1 1 0 0 1 0.208 -0.978" transform="matrix(1.82 -1.5 -8.17 -0.34 128.2 328.88)" vector-effect="non-scaling-stroke"/>
<path d="M-0.222 0.975A1 1 0 0 1 0.213 -0.977" transform="matrix(1.84 -1.51 -8.25 -0.34 128.2 326.94)" vector-effect="non-scaling-stroke"/>
<path d="M-0.217 0.976A1 1 0 0 1 0.217 -0.976" transform="matrix(1.84 -1.52 -8.27 -0.34 128.2 325)" vector-effect="non-scaling-stroke"/>
<path d="M-0.213 0.977A1 1 0 1 1 0.222 -0.975" transform="matrix(1.84 -1.51 -8.25 -0.34 128.2 323.06)" vector-effect="non-scaling-stroke"/>
<path d="M-0.208 0.978A1 1 0 1 1 0.227 -0.974" transform="matrix(1.82 -1.5 -8.17 -0.34 128.2 321.12)" vector-effect="non-scaling-stroke"/>
<path d="M-0.203 0.979A1 1 0 1 1 0.232 -0.973" transform="matrix(1.79 -1.47 -8.05 -0.33 128.2 319.18)" vector-effect="non-scaling-stroke"/>
<path d="M-0.198 0.98A1 1 0 1 1 0.237 -0.972" transform="matrix(1.75 -1.44 -7.87 -0.32 128.2 317.25)" vector-effect="non-scaling-stroke"/>
<path d="M-0.192 0.981A1 1 0 1 1 0.242 -0.97" transform="matrix(1.7 -1.4 -7.64 -0.31 128.2 315.31)" vector-effect="non-scaling-stroke"/>
<path d="M-0.186 0.983A1 1 0 1 1 0.248 -0.969" transform="matrix(1.63 -1.34 -7.34 -0.3 128.2 313.37)" vector-effect="non-scaling-stroke"/>
<path d="M-0.179 0.984A1 1 0 1 1 0.256 -0.967" transform="matrix(1.55 -1.28 -6.97 -0.29 128.2 311.43)" vector-effect="non-scaling-stroke"/>
<path d="M-0.17 0.985A1 1 0 1 1 0.264 -0.965" transform="matrix(1.45 -1.19 -6.52 -0.27 128.2 309.49)" vector-effect="non-scaling-stroke"/>
<path d="M-0.159 0.987A1 1 0 1 1 0.275 -0.962" transform="matrix(1.33 -1.09 -5.97 -0.24 128.2 307.55)" vector-effect="non-scaling-stroke"/>
<path d="M-0.144 0.99A1 1 0 1 1 0.289 -0.957" transform="matrix(1.18 -0.97 -5.29 -0.22 128.2 305.61)" vector-effect="non-scaling-stroke"/>
<path d="M-0.121 0.993A1 1 0 1 1 0.312 -0.95" transform="matrix(0.98 -0.81 -4.41 -0.18 128.2 303.67)" vector-effect="non-scaling-stroke"/>
<path d="M-0.07 0.998A1 1 0 1 1 0.359 -0.933" transform="matrix(0.71 -0.58 -3.18 -0.13 128.2 301.74)" vector-effect="non-scaling-stroke"/>
<path d="M0.063 0.998A1 1 0 0 1 0 1" transform="matrix(1.84 -1.52 0 -25.2 128.2 325)" vector-effect="non-scaling-stroke"/>
<path d="M0.062 0.998A1 1 0 0 1 0 1" transform="matrix(-0.56 -1.55 0 -25.2 128.2 325)" vector-effect="non-scaling-stroke"/>
<path d="M0.066 0.998A1 1 0 0 1 0 1" transform="matrix(-2.92 -1.46 0 -25.2 128.2 325)" vector-effect="non-scaling-stroke"/>
<path d="M0.076 0.997A1 1 0 0 1 0 1" transform="matrix(-5.05 -1.25 0 -25.2 128.2 325)" vector-effect="non-scaling-stroke"/>
<path d="M0.102 0.995A1 1 0 0 1 0 1" transform="matrix(-6.76 -0.94 0 -25.2 128.2 325)" vector-effect="non-scaling-stroke"/>
<path d="M0.172 0.985A1 1 0 0 1 0 1" transform="matrix(-7.93 -0.55 0 -25.2 128.2 325)" vector-effect="non-scaling-stroke"/>
<path d="M0.629 0.777A1 1 0 0 1 0 1" transform="matrix(-8.45 -0.12 0 -25.2 128.2 325)" vector-effect="non-scaling-stroke"/>
<path d="M0.284 -0.959A1 1 0 0 1 0 1" transform="matrix(-8.29 0.32 0 -25.2 128.2 325)" vector-effect="non-scaling-stroke"/>
<path d="M0.129 -0.992A1 1 0 0 1 0 1" transform="matrix(-7.46 0.74 0 -25.2 128.2 325)" vector-effect="non-scaling-stroke"/>
<path d="M0.087 -0.996A1 1 0 0 1 0 1" transform="matrix(-6.02 1.09 0 -25.2 128.2 325)" vector-effect="non-scaling-stroke"/>
<path d="M0.07 -0.998A1 1 0 0 1 0 1" transform="matrix(-4.1 1.36 0 -25.2 128.2 325)" vector-effect="non-scaling-stroke"/>
<path d="M0.063 -0.998A1 1 0 0 1 0 1" transform="matrix(-1.84 1.52 0 -25.2 128.2 325)" vector-effect="non-scaling-stroke"/>
<path d="M0.062 -0.998A1 1 0 0 1 0 1" transform="matrix(0.56 1.55 0 -25.2 128.2 325)" vector-effect="non-scaling-stroke"/>
<path d="M0.066 -0.998A1 1 0 0 1 0 1" transform="matrix(2.92 1.46 0 -25.2 128.2 325)" vector-effect="non-scaling-stroke"/>
<path d="M0.076 -0.997A1 1 0 0 1 0 1" transform="matrix(5.05 1.25 0 -25.2 128.2 325)" vector-effect="non-scaling-stroke"/>
<path d="M0.102 -0.995A1 1 0 0 1 0 1" transform="matrix(6.76 0.94 0 -25.2 128.2 325)" vector-effect="non-scaling-stroke"/>
<path d="M0.172 -0.985A1 1 0 0 1 0 1" transform="matrix(7.93 0.55 0 -25.2 128.2 325)" vector-effect="non-scaling-stroke"/>
<path d="M0.629 -0.777A1 1 0 0 1 0 1" transform="matrix(8.45 0.12 0 -25.2 128.2 325)" vector-effect="non-scaling-stroke"/>
<path d="M0.284 0.959A1 1 0 0 1 0 1" transform="matrix(8.29 -0.32 0 -25.2 128.2 325)" vector-effect="non-scaling-stroke"/>
<path d="M0.129 0.992A1 1 0 0 1 0 1" transform="matrix(7.46 -0.74 0 -25.2 128.2 325)" vector-effect="non-scaling-stroke"/>
<path d="M0.087 0.996A1 1 0 0 1 0 1" transform="matrix(6.02 -1.09 0 -25.2 128.2 325)" vector-effect="non-scaling-stroke"/>
<path d="M0.07 0.998A1 1 0 0 1 0 1" transform="matrix(4.1 -1.36 0 -25.2 128.2 325)" vector-effect="non-scaling-stroke"/>
</g>
<circle r="1" transform="matrix(-8.47 0 0 25.25 128.2 325)" fill="none" stroke="#000" stroke-width="0.65" vector-effect="non-scaling-stroke"/>
</g>
<g>
<circle r="1" transform="matrix(-6.83 0 0 20.36 93.3 290.5)" fill="#ff0000" fill-opacity="1.0" stroke="none"/>
<g fill="none" stroke="#6a000c" stroke-width="0.5" vector-effect="non-scaling-stroke">
<path d="M-0.359 0.933A1 1 0 0 1 0.07 -0.998" transform="matrix(0.57 -0.47 -2.57 -0.11 93.3 309.26)" vector-effect="non-scaling-stroke"/>
<path d="M-0.312 0.95A1 1 0 0 1 0.121 -0.993" transform="matrix(0.79 -0.65 -3.56 -0.15 93.3 307.7)" vector-effect="non-scaling-stroke"/>
<path d="M-0.289 0.957A1 1 0 0 1 0.144 -0.99" transform="matrix(0.95 -0.78 -4.26 -0.17 93.3 306.13)" vector-effect="non-scaling-stroke"/>
<path d="M-0.275 0.962A1 1 0 0 1 0.159 -0.987" transform="matrix(1.07 -0.88 -4.81 -0.2 93.3 304.57)" vector-effect="non-scaling-stroke"/>
<path d="M-0.264 0.965A1 1 0 0 1 0.17 -0.985" transform="matrix(1.17 -0.96 -5.26 -0.22 93.3 303.01)" vector-effect="non-scaling-stroke"/>
<path d="M-0.256 0.967A1 1 0 0 1 0.179 -0.984" transform="matrix(1.25 -1.03 -5.62 -0.23 93.3 301.44)" vector-effect="non-scaling-stroke"/>
<path d="M-0.248 0.969A1 1 0 0 1 0.186 -0.983" transform="matrix(1.32 -1.08 -5.92 -0.24 93.3 299.88)" vector-effect="non-scaling-stroke"/>
<path d="M-0.242 0.97A1 1 0 0 1 0.192 -0.981" transform="matrix(1.37 -1.13 -6.16 -0.25 93.3 298.32)" vector-effect="non-scaling-stroke"/>
<path d="M-0.237 0.972A1 1 0 0 1 0.198 -0.98" transform="matrix(1.41 -1.16 -6.35 -0.26 93.3 296.75)" vector-effect="non-scaling-stroke"/>
<path d="M-0.232 0.973A1 1 0 0 1 0.203 -0.979" transform="matrix(1.44 -1.19 -6.49 -0.27 93.3 295.19)" vector-effect="non-scaling-stroke"/>
<path d="M-0.227 0.974A1 1 0 0 1 0.208 -0.978" transform="matrix(1.47 -1.21 -6.59 -0.27 93.3 293.63)" vector-effect="non-scaling-stroke"/>
<path d="M-0.222 0.975A1 1 0 0 1 0.213 -0.977" transform="matrix(1.48 -1.22 -6.65 -0.27 93.3 292.06)" vector-effect="non-scaling-stroke"/>
<path d="M-0.217 0.976A1 1 0 0 1 0.217 -0.976" transform="matrix(1.48 -1.22 -6.67 -0.27 93.3 290.5)" vector-effect="non-scaling-stroke"/>
<path d="M-0.213 0.977A1 1 0 1 1 0.222 -0.975" transform="matrix(1.48 -1.22 -6.65 -0.27 93.3 288.94)" vector-effect="non-scaling-stroke"/>
<path d="M-0.208 0.978A1 1 0 1 1 0.227 -0.974" transform="matrix(1.47 -1.21 -6.59 -0.27 93.3 287.37)" vector-effect="non-scaling-stroke"/>
<path d="M-0.203 0.979A1 1 0 1 1 0.232 -0.973" transform="matrix(1.44 -1.19 -6.49 -0.27 93.3 285.81)" vector-effect="non-scaling-stroke"/>
<path d="M-0.198 0.98A1 1 0 1 1 0.237 -0.972" transform="matrix(1.41 -1.16 -6.35 -0.26 93.3 284.25)" vector-effect="non-scaling-stroke"/>
<path d="M-0.192 0.981A1 1 0 1 1 0.242 -0.97" transform="matrix(1.37 -1.13 -6.16 -0.25 93.3 282.68)" vector-effect="non-scaling-stroke"/>
<path d="M-0.186 0.983A1 1 0 1 1 0.248 -0.969" transform="matrix(1.32 -1.08 -5.92 -0.24 93.3 281.12)" vector-effect="non-scaling-stroke"/>
<path d="M-0.179 0.984A1 1 0 1 1 0.256 -0.967" transform="matrix(1.25 -1.03 -5.62 -0.23 93.3 279.56)" vector-effect="non-scaling-stroke"/>
<path d="M-0.17 0.985A1 1 0 1 1 0.264 -0.965" transform="matrix(1.17 -0.96 -5.26 -0.22 93.3 277.99)" vector-effect="non-scaling-stroke"/>
<path d="M-0.159 0.987A1 1 0 1 1 0.275 -0.962" transform="matrix(1.07 -0.88 -4.81 -0.2 93.3 276.43)" vector-effect="non-scaling-stroke"/>
<path d="M-0.144 0.99A1 1 0 1 1 0.289 -0.957" transform="matrix(0.95 -0.78 -4.26 -0.17 93.3 274.87)" vector-effect="non-scaling-stroke"/>
<path d="M-0.121 0.993A1 1 0 1 1 0.312 -0.95" transform="matrix(0.79 -0.65 -3.56 -0.15 93.3 273.3)" vector-effect="non-scaling-stroke"/>
<path d="M-0.07 0.998A1 1 0 1 1 0.359 -0.933" transform="matrix(0.57 -0.47 -2.57 -0.11 93.3 271.74)" vector-effect="non-scaling-stroke"/>
<path d="M0.063 0.998A1 1 0 0 1 0 1" transform="matrix(1.48 -1.22 0 -20.33 93.3 290.5)" vector-effect="non-scaling-stroke"/>
<path d="M0.062 0.998A1 1 0 0 1 0 1" transform="matrix(-0.45 -1.25 0 -20.33 93.3 290.5)" vector-effect="non-scaling-stroke"/>
<path d="M0.066 0.998A1 1 0 0 1 0 1" transform="matrix(-2.36 -1.18 0 -20.33 93.3 290.5)" vector-effect="non-scaling-stroke"/>
<path d="M0.076 0.997A1 1 0 0 1 0 1" transform="matrix(-4.07 -1.01 0 -20.33 93.3 290.5)" vector-effect="non-scaling-stroke"/>
<path d="M0.102 0.995A1 1 0 0 1 0 1" transform="matrix(-5.45 -0.76 0 -20.33 93.3 290.5)" vector-effect="non-scaling-stroke"/>
<path d="M0.172 0.985A1 1 0 0 1 0 1" transform="matrix(-6.39 -0.44 0 -20.33 93.3 290.5)" vector-effect="non-scaling-stroke"/>
<path d="M0.629 0.777A1 1 0 0 1 0 1" transform="matrix(-6.81 -0.1 0 -20.33 93.3 290.5)" vector-effect="non-scaling-stroke"/>
<path d="M0.284 -0.959A1 1 0 0 1 0 1" transform="matrix(-6.69 0.26 0 -20.33 93.3 290.5)" vector-effect="non-scaling-stroke"/>
<path d="M0.129 -0.992A1 1 0 0 1 0 1" transform="matrix(-6.01 0.59 0 -20.33 93.3 290.5)" vector-effect="non-scaling-stroke"/>
<path d="M0.087 -0.996A1 1 0 0 1 0 1" transform="matrix(-4.86 0.88 0 -20.33 93.3 290.5)" vector-effect="non-scaling-stroke"/>
<path d="M0.07 -0.998A1 1 0 0 1 0 1" transform="matrix(-3.3 1.1 0 -20.33 93.3 290.5)" vector-effect="non-scaling-stroke"/>
<path d="M0.063 -0.998A1 1 0 0 1 0 1" transform="matrix(-1.49 1.22 0 -20.33 93.3 290.5)" vector-effect="non-scaling-stroke"/>
<path d="M0.062 -0.998A1 1 0 0 1 0 1" transform="matrix(0.45 1.25 0 -20.33 93.3 290.5)" vector-effect="non-scaling-stroke"/>
<path d="M0.066 -0.998A1 1 0 0 1 0 1" transform="matrix(2.36 1.18 0 -20.33 93.3 290.5)" vector-effect="non-scaling-stroke"/>
<path d="M0.076 -0.997A1 1 0 0 1 0 1" transform="matrix(4.07 1.01 0 -20.33 93.3 290.5)" vector-effect="non-scaling-stroke"/>
<path d="M0.102 -0.995A1 1 0 0 1 0 1" transform="matrix(5.45 0.76 0 -20.33 93.3 290.5)" vector-effect="non-scaling-stroke"/>
<path d="M0.172 -0.985A1 1 0 0 1 0 1" transform="matrix(6.39 0.44 0 -20.33 93.3 290.5)" vector-effect="non-scaling-stroke"/>
<path d="M0.629 -0.777A1 1 0 0 1 0 1" transform="matrix(6.81 0.1 0 -20.33 93.3 290.5)" vector-effect="non-scaling-stroke"/>
<path d="M0.284 0.959A1 1 0 0 1 0 1" transform="matrix(6.69 -0.26 0 -20.33 93.3 290.5)" vector-effect="non-scaling-stroke"/>
<path d="M0.129 0.992A1 1 0 0 1 0 1" transform="matrix(6.01 -0.59 0 -20.33 93.3 290.5)" vector-effect="non-scaling-stroke"/>
<path d="M0.087 0.996A1 1 0 0 1 0 1" transform="matrix(4.86 -0.88 0 -20.33 93.3 290.5)" vector-effect="non-scaling-stroke"/>
<path d="M0.07 0.998A1 1 0 0 1 0 1" transform="matrix(3.3 -1.1 0 -20.33 93.3 290.5)" vector-effect="non-scaling-stroke"/>
</g>
<circle r="1" transform="matrix(-6.83 0 0 20.36 93.3 290.5)" fill="none" stroke="#000" stroke-width="0.65" vector-effect="non-scaling-stroke"/>
</g>
<g>
<circle r="1" transform="matrix(-14.31 0 0 42.63 87.5 279.5)" fill="#ff0000" fill-opacity="0.27" stroke="none"/>
<g fill="none" stroke="#000" stroke-width="0.22" vector-effect="non-scaling-stroke">
<circle r="1" transform="matrix(1.2 -0.98 -5.37 -0.22 87.5 318.77)" vector-effect="non-scaling-stroke"/>
<circle r="1" transform="matrix(1.66 -1.36 -7.44 -0.31 87.5 315.5)" vector-effect="non-scaling-stroke"/>
<circle r="1" transform="matrix(1.99 -1.64 -8.92 -0.37 87.5 312.23)" vector-effect="non-scaling-stroke"/>
<circle r="1" transform="matrix(2.24 -1.85 -10.08 -0.41 87.5 308.96)" vector-effect="non-scaling-stroke"/>
<circle r="1" transform="matrix(2.45 -2.02 -11.01 -0.45 87.5 305.68)" vector-effect="non-scaling-stroke"/>
<circle r="1" transform="matrix(2.62 -2.16 -11.77 -0.48 87.5 302.41)" vector-effect="non-scaling-stroke"/>
<circle r="1" transform="matrix(2.76 -2.27 -12.39 -0.51 87.5 299.14)" vector-effect="non-scaling-stroke"/>
<circle r="1" transform="matrix(2.87 -2.36 -12.89 -0.53 87.5 295.86)" vector-effect="non-scaling-stroke"/>
<circle r="1" transform="matrix(2.96 -2.43 -13.29 -0.55 87.5 292.59)" vector-effect="non-scaling-stroke"/>
<circle r="1" transform="matrix(3.02 -2.49 -13.59 -0.56 87.5 289.32)" vector-effect="non-scaling-stroke"/>
<circle r="1" transform="matrix(3.07 -2.53 -13.8 -0.57 87.5 286.05)" vector-effect="non-scaling-stroke"/>
<circle r="1" transform="matrix(3.1 -2.55 -13.92 -0.57 87.5 282.77)" vector-effect="non-scaling-stroke"/>
<circle r="1" transform="matrix(3.11 -2.56 -13.97 -0.57 87.5 279.5)" vector-effect="non-scaling-stroke"/>
<circle r="1" transform="matrix(3.1 -2.55 -13.92 -0.57 87.5 276.23)" vector-effect="non-scaling-stroke"/>
<circle r="1" transform="matrix(3.07 -2.53 -13.8 -0.57 87.5 272.95)" vector-effect="non-scaling-stroke"/>
<circle r="1" transform="matrix(3.02 -2.49 -13.59 -0.56 87.5 269.68)" vector-effect="non-scaling-stroke"/>
<circle r="1" transform="matrix(2.96 -2.43 -13.29 -0.55 87.5 266.41)" vector-effect="non-scaling-stroke"/>
<circle r="1" transform="matrix(2.87 -2.36 -12.89 -0.53 87.5 263.14)" vector-effect="non-scaling-stroke"/>
<circle r="1" transform="matrix(2.76 -2.27 -12.39 -0.51 87.5 259.86)" vector-effect="non-scaling-stroke"/>
<circle r="1" transform="matrix(2.62 -2.16 -11.77 -0.48 87.5 256.59)" vector-effect="non-scaling-stroke"/>
<circle r="1" transform="matrix(2.45 -2.02 -11.01 -0.45 87.5 253.32)" vector-effect="non-scaling-stroke"/>
<circle r="1" transform="matrix(2.24 -1.85 -10.08 -0.41 87.5 250.04)" vector-effect="non-scaling-stroke"/>
<circle r="1" transform="matrix(1.99 -1.64 -8.92 -0.37 87.5 246.77)" vector-effect="non-scaling-stroke"/>
<circle r="1" transform="matrix(1.66 -1.36 -7.44 -0.31 87.5 243.5)" vector-effect="non-scaling-stroke"/>
<circle r="1" transform="matrix(1.2 -0.98 -5.37 -0.22 87.5 240.23)" vector-effect="non-scaling-stroke"/>
<path d="M0 -1A1 1 0 0 1 0 1" transform="matrix(3.11 -2.56 0 -42.55 87.5 279.5)" vector-effect="non-scaling-stroke"/>
<path d="M0 -1A1 1 0 0 1 0 1" transform="matrix(0.64 -2.62 0 -42.55 87.5 279.5)" vector-effect="non-scaling-stroke"/>
<path d="M0 -1A1 1 0 0 1 0 1" transform="matrix(-1.86 -2.6 0 -42.55 87.5 279.5)" vector-effect="non-scaling-stroke"/>
<path d="M0 -1A1 1 0 0 1 0 1" transform="matrix(-4.29 -2.5 0 -42.55 87.5 279.5)" vector-effect="non-scaling-stroke"/>
<path d="M0 -1A1 1 0 0 1 0 1" transform="matrix(-6.6 -2.33 0 -42.55 87.5 279.5)" vector-effect="non-scaling-stroke"/>
<path d="M0 -1A1 1 0 0 1 0 1" transform="matrix(-8.7 -2.08 0 -42.55 87.5 279.5)" vector-effect="non-scaling-stroke"/>
<path d="M0 -1A1 1 0 0 1 0 1" transform="matrix(-10.54 -1.78 0 -42.55 87.5 279.5)" vector-effect="non-scaling-stroke"/>
<path d="M0 -1A1 1 0 0 1 0 1" transform="matrix(-12.06 -1.41 0 -42.55 87.5 279.5)" vector-effect="non-scaling-stroke"/>
<path d="M0 -1A1 1 0 0 1 0 1" transform="matrix(-13.21 -1.01 0 -42.55 87.5 279.5)" vector-effect="non-scaling-stroke"/>
<path d="M0 -1A1 1 0 0 1 0 1" transform="matrix(-13.97 -0.57 0 -42.55 87.5 279.5)" vector-effect="non-scaling-stroke"/>
<path d="M0 -1A1 1 0 0 1 0 1" transform="matrix(-14.29 -0.12 0 -42.55 87.5 279.5)" vector-effect="non-scaling-stroke"/>
<path d="M0 -1A1 1 0 0 1 0 1" transform="matrix(-14.19 0.34 0 -42.55 87.5 279.5)" vector-effect="non-scaling-stroke"/>
<path d="M0 -1A1 1 0 0 1 0 1" transform="matrix(-13.65 0.78 0 -42.55 87.5 279.5)" vector-effect="non-scaling-stroke"/>
<path d="M0 -1A1 1 0 0 1 0 1" transform="matrix(-12.7 1.21 0 -42.55 87.5 279.5)" vector-effect="non-scaling-stroke"/>
<path d="M0 -1A1 1 0 0 1 0 1" transform="matrix(-11.36 1.59 0 -42.55 87.5 279.5)" vector-effect="non-scaling-stroke"/>
<path d="M0 -1A1 1 0 0 1 0 1" transform="matrix(-9.67 1.93 0 -42.55 87.5 279.5)" vector-effect="non-scaling-stroke"/>
<path d="M0 -1A1 1 0 0 1 0 1" transform="matrix(-7.7 2.21 0 -42.55 87.5 279.5)" vector-effect="non-scaling-stroke"/>
<path d="M0 -1A1 1 0 0 1 0 1" transform="matrix(-5.49 2.42 0 -42.55 87.5 279.5)" vector-effect="non-scaling-stroke"/>
<path d="M0 -1A1 1 0 0 1 0 1" transform="matrix(-3.11 2.56 0 -42.55 87.5 279.5)" vector-effect="non-scaling-stroke"/>
<path d="M0 -1A1 1 0 0 1 0 1" transform="matrix(-0.64 2.62 0 -42.55 87.5 279.5)" vector-effect="non-scaling-stroke"/>
<path d="M0 -1A1 1 0 0 1 0 1" transform="matrix(1.86 2.6 0 -42.55 87.5 279.5)" vector-effect="non-scaling-stroke"/>
<path d="M0 -1A1 1 0 0 1 0 1" transform="matrix(4.29 2.5 0 -42.55 87.5 279.5)" vector-effect="non-scaling-stroke"/>
<path d="M0 -1A1 1 0 0 1 0 1" transform="matrix(6.6 2.33 0 -42.55 87.5 279.5)" vector-effect="non-scaling-stroke"/>
<path d="M0 -1A1 1 0 0 1 0 1" transform="matrix(8.7 2.08 0 -42.55 87.5 279.5)" vector-effect="non-scaling-stroke"/>
<path d="M0 -1A1 1 0 0 1 0 1" transform="matrix(10.54 1.78 0 -42.55 87.5 279.5)" vector-effect="non-scaling-stroke"/>
<path d="M0 -1A1 1 0 0 1 0 1" transform="matrix(12.06 1.41 0 -42.55 87.5 279.5)" vector-effect="non-scaling-stroke"/>
<path d="M0 -1A1 1 0 0 1 0 1" transform="matrix(13.21 1.01 0 -42.55 87.5 279.5)" vector-effect="non-scaling-stroke"/>
<path d="M0 -1A1 1 0 0 1 0 1" transform="matrix(13.97 0.57 0 -42.55 87.5 279.5)" vector-effect="non-scaling-stroke"/>
<path d="M0 -1A1 1 0 0 1 0 1" transform="matrix(14.29 0.12 0 -42.55 87.5 279.5)" vector-effect="non-scaling-stroke"/>
<path d="M0 -1A1 1 0 0 1 0 1" transform="matrix(14.19 -0.34 0 -42.55 87.5 279.5)" vector-effect="non-scaling-stroke"/>
<path d="M0 -1A1 1 0 0 1 0 1" transform="matrix(13.65 -0.78 0 -42.55 87.5 279.5)" vector-effect="non-scaling-stroke"/>
<path d="M0 -1A1 1 0 0 1 0 1" transform="matrix(12.7 -1.21 0 -42.55 87.5 279.5)" vector-effect="non-scaling-stroke"/>
<path d="M0 -1A1 1 0 0 1 0 1" transform="matrix(11.36 -1.59 0 -42.55 87.5 279.5)" vector-effect="non-scaling-stroke"/>
<path d="M0 -1A1 1 0 0 1 0 1" transform="matrix(9.67 -1.93 0 -42.55 87.5 279.5)" vector-effect="non-scaling-stroke"/>
<path d="M0 -1A1 1 0 0 1 0 1" transform="matrix(7.7 -2.21 0 -42.55 87.5 279.5)" vector-effect="non-scaling-stroke"/>
<path d="M0 -1A1 1 0 0 1 0 1" transform="matrix(5.49 -2.42 0 -42.55 87.5 279.5)" vector-effect="non-scaling-stroke"/>
</g>
<circle r="1" transform="matrix(-14.31 0 0 42.63 87.5 279.5)" fill="none" stroke="#000" stroke-width="0.55" vector-effect="non-scaling-stroke"/>
</g>
<g>
<circle r="1" transform="matrix(-5.47 0 0 16.29 74.4 329.7)" fill="#ff0000" fill-opacity="1.0" stroke="none"/>
<g fill="none" stroke="#6a000c" stroke-width="0.5" vector-effect="non-scaling-stroke">
<path d="M-0.359 0.933A1 1 0 0 1 0.07 -0.998" transform="matrix(0.46 -0.38 -2.05 -0.08 74.4 344.71)" vector-effect="non-scaling-stroke"/>
<path d="M-0.312 0.95A1 1 0 0 1 0.121 -0.993" transform="matrix(0.63 -0.52 -2.84 -0.12 74.4 343.46)" vector-effect="non-scaling-stroke"/>
<path d="M-0.289 0.957A1 1 0 0 1 0.144 -0.99" transform="matrix(0.76 -0.62 -3.41 -0.14 74.4 342.21)" vector-effect="non-scaling-stroke"/>
<path d="M-0.275 0.962A1 1 0 0 1 0.159 -0.987" transform="matrix(0.86 -0.71 -3.85 -0.16 74.4 340.96)" vector-effect="non-scaling-stroke"/>
<path d="M-0.264 0.965A1 1 0 0 1 0.17 -0.985" transform="matrix(0.94 -0.77 -4.21 -0.17 74.4 339.71)" vector-effect="non-scaling-stroke"/>
<path d="M-0.256 0.967A1 1 0 0 1 0.179 -0.984" transform="matrix(1 -0.82 -4.5 -0.18 74.4 338.46)" vector-effect="non-scaling-stroke"/>
<path d="M-0.248 0.969A1 1 0 0 1 0.186 -0.983" transform="matrix(1.05 -0.87 -4.73 -0.19 74.4 337.2)" vector-effect="non-scaling-stroke"/>
<path d="M-0.242 0.97A1 1 0 0 1 0.192 -0.981" transform="matrix(1.1 -0.9 -4.93 -0.2 74.4 335.95)" vector-effect="non-scaling-stroke"/>
<path d="M-0.237 0.972A1 1 0 0 1 0.198 -0.98" transform="matrix(1.13 -0.93 -5.08 -0.21 74.4 334.7)" vector-effect="non-scaling-stroke"/>
<path d="M-0.232 0.973A1 1 0 0 1 0.203 -0.979" transform="matrix(1.16 -0.95 -5.19 -0.21 74.4 333.45)" vector-effect="non-scaling-stroke"/>
<path d="M-0.227 0.974A1 1 0 0 1 0.208 -0.978" transform="matrix(1.17 -0.97 -5.27 -0.22 74.4 332.2)" vector-effect="non-scaling-stroke"/>
<path d="M-0.222 0.975A1 1 0 0 1 0.213 -0.977" transform="matrix(1.18 -0.98 -5.32 -0.22 74.4 330.95)" vector-effect="non-scaling-stroke"/>
<path d="M-0.217 0.976A1 1 0 0 1 0.217 -0.976" transform="matrix(1.19 -0.98 -5.34 -0.22 74.4 329.7)" vector-effect="non-scaling-stroke"/>
<path d="M-0.213 0.977A1 1 0 1 1 0.222 -0.975" transform="matrix(1.18 -0.98 -5.32 -0.22 74.4 328.45)" vector-effect="non-scaling-stroke"/>
<path d="M-0.208 0.978A1 1 0 1 1 0.227 -0.974" transform="matrix(1.17 -0.97 -5.27 -0.22 74.4 327.2)" vector-effect="non-scaling-stroke"/>
<path d="M-0.203 0.979A1 1 0 1 1 0.232 -0.973" transform="matrix(1.16 -0.95 -5.19 -0.21 74.4 325.95)" vector-effect="non-scaling-stroke"/>
<path d="M-0.198 0.98A1 1 0 1 1 0.237 -0.972" transform="matrix(1.13 -0.93 -5.08 -0.21 74.4 324.7)" vector-effect="non-scaling-stroke"/>
<path d="M-0.192 0.981A1 1 0 1 1 0.242 -0.97" transform="matrix(1.1 -0.9 -4.93 -0.2 74.4 323.45)" vector-effect="non-scaling-stroke"/>
<path d="M-0.186 0.983A1 1 0 1 1 0.248 -0.969" transform="matrix(1.05 -0.87 -4.73 -0.19 74.4 322.2)" vector-effect="non-scaling-stroke"/>
<path d="M-0.179 0.984A1 1 0 1 1 0.256 -0.967" transform="matrix(1 -0.82 -4.5 -0.18 74.4 320.94)" vector-effect="non-scaling-stroke"/>
<path d="M-0.17 0.985A1 1 0 1 1 0.264 -0.965" transform="matrix(0.94 -0.77 -4.21 -0.17 74.4 319.69)" vector-effect="non-scaling-stroke"/>
<path d="M-0.159 0.987A1 1 0 1 1 0.275 -0.962" transform="matrix(0.86 -0.71 -3.85 -0.16 74.4 318.44)" vector-effect="non-scaling-stroke"/>
<path d="M-0.144 0.99A1 1 0 1 1 0.289 -0.957" transform="matrix(0.76 -0.62 -3.41 -0.14 74.4 317.19)" vector-effect="non-scaling-stroke"/>
<path d="M-0.121 0.993A1 1 0 1 1 0.312 -0.95" transform="matrix(0.63 -0.52 -2.84 -0.12 74.4 315.94)" vector-effect="non-scaling-stroke"/>
<path d="M-0.07 0.998A1 1 0 1 1 0.359 -0.933" transform="matrix(0.46 -0.38 -2.05 -0.08 74.4 314.69)" vector-effect="non-scaling-stroke"/>
<path d="M0.063 0.998A1 1 0 0 1 0 1" transform="matrix(1.19 -0.98 0 -16.26 74.4 329.7)" vector-effect="non-scaling-stroke"/>
<path d="M0.062 0.998A1 1 0 0 1 0 1" transform="matrix(-0.36 -1 0 -16.26 74.4 329.7)" vector-effect="non-scaling-stroke"/>
<path d="M0.066 0.998A1 1 0 0 1 0 1" transform="matrix(-1.89 -0.94 0 -16.26 74.4 329.7)" vector-effect="non-scaling-stroke"/>
<path d="M0.076 0.997A1 1 0 0 1 0 1" transform="matrix(-3.26 -0.81 0 -16.26 74.4 329.7)" vector-effect="non-scaling-stroke"/>
<path d="M0.102 0.995A1 1 0 0 1 0 1" transform="matrix(-4.36 -0.61 0 -16.26 74.4 329.7)" vector-effect="non-scaling-stroke"/>
<path d="M0.172 0.985A1 1 0 0 1 0 1" transform="matrix(-5.11 -0.36 0 -16.26 74.4 329.7)" vector-effect="non-scaling-stroke"/>
<path d="M0.629 0.777A1 1 0 0 1 0 1" transform="matrix(-5.45 -0.08 0 -16.26 74.4 329.7)" vector-effect="non-scaling-stroke"/>
<path d="M0.284 -0.959A1 1 0 0 1 0 1" transform="matrix(-5.35 0.21 0 -16.26 74.4 329.7)" vector-effect="non-scaling-stroke"/>
<path d="M0.129 -0.992A1 1 0 0 1 0 1" transform="matrix(-4.81 0.47 0 -16.26 74.4 329.7)" vector-effect="non-scaling-stroke"/>
<path d="M0.087 -0.996A1 1 0 0 1 0 1" transform="matrix(-3.88 0.7 0 -16.26 74.4 329.7)" vector-effect="non-scaling-stroke"/>
<path d="M0.07 -0.998A1 1 0 0 1 0 1" transform="matrix(-2.64 0.88 0 -16.26 74.4 329.7)" vector-effect="non-scaling-stroke"/>
<path d="M0.063 -0.998A1 1 0 0 1 0 1" transform="matrix(-1.19 0.98 0 -16.26 74.4 329.7)" vector-effect="non-scaling-stroke"/>
<path d="M0.062 -0.998A1 1 0 0 1 0 1" transform="matrix(0.36 1 0 -16.26 74.4 329.7)" vector-effect="non-scaling-stroke"/>
<path d="M0.066 -0.998A1 1 0 0 1 0 1" transform="matrix(1.89 0.94 0 -16.26 74.4 329.7)" vector-effect="non-scaling-stroke"/>
<path d="M0.076 -0.997A1 1 0 0 1 0 1" transform="matrix(3.26 0.81 0 -16.26 74.4 329.7)" vector-effect="non-scaling-stroke"/>
<path d="M0.102 -0.995A1 1 0 0 1 0 1" transform="matrix(4.36 0.61 0 -16.26 74.4 329.7)" vector-effect="non-scaling-stroke"/>
<path d="M0.172 -0.985A1 1 0 0 1 0 1" transform="matrix(5.11 0.36 0 -16.26 74.4 329.7)" vector-effect="non-scaling-stroke"/>
<path d="M0.629 -0.777A1 1 0 0 1 0 1" transform="matrix(5.45 0.08 0 -16.26 74.4 329.7)" vector-effect="non-scaling-stroke"/>
<path d="M0.284 0.959A1 1 0 0 1 0 1" transform="matrix(5.35 -0.21 0 -16.26 74.4 329.7)" vector-effect="non-scaling-stroke"/>
<path d="M0.129 0.992A1 1 0 0 1 0 1" transform="matrix(4.81 -0.47 0 -16.26 74.4 329.7)" vector-effect="non-scaling-stroke"/>
<path d="M0.087 0.996A1 1 0 0 1 0 1" transform="matrix(3.88 -0.7 0 -16.26 74.4 329.7)" vector-effect="non-scaling-stroke"/>
<path d="M0.07 0.998A1 1 0 0 1 0 1" transform="matrix(2.64 -0.88 0 -16.26 74.4 329.7)" vector-effect="non-scaling-stroke"/>
</g>
<circle r="1" transform="matrix(-5.47 0 0 16.29 74.4 329.7)" fill="none" stroke="#000" stroke-width="0.65" vector-effect="non-scaling-stroke"/>
</g>
<g>
<circle r="1" transform="matrix(-14.85 0 0 44.26 120.4 273.2)" fill="#ff0000" fill-opacity="1.0" stroke="none"/>
<g fill="none" stroke="#6a000c" stroke-width="0.5" vector-effect="non-scaling-stroke">
<path d="M-0.359 0.933A1 1 0 0 1 0.07 -0.998" transform="matrix(1.24 -1.02 -5.58 -0.23 120.4 313.98)" vector-effect="non-scaling-stroke"/>
<path d="M-0.312 0.95A1 1 0 0 1 0.121 -0.993" transform="matrix(1.72 -1.42 -7.73 -0.32 120.4 310.58)" vector-effect="non-scaling-stroke"/>
<path d="M-0.289 0.957A1 1 0 0 1 0.144 -0.99" transform="matrix(2.06 -1.7 -9.26 -0.38 120.4 307.18)" vector-effect="non-scaling-stroke"/>
<path d="M-0.275 0.962A1 1 0 0 1 0.159 -0.987" transform="matrix(2.33 -1.92 -10.46 -0.43 120.4 303.78)" vector-effect="non-scaling-stroke"/>
<path d="M-0.264 0.965A1 1 0 0 1 0.17 -0.985" transform="matrix(2.54 -2.09 -11.43 -0.47 120.4 300.38)" vector-effect="non-scaling-stroke"/>
<path d="M-0.256 0.967A1 1 0 0 1 0.179 -0.984" transform="matrix(2.72 -2.24 -12.22 -0.5 120.4 296.99)" vector-effect="non-scaling-stroke"/>
<path d="M-0.248 0.969A1 1 0 0 1 0.186 -0.983" transform="matrix(2.86 -2.36 -12.86 -0.53 120.4 293.59)" vector-effect="non-scaling-stroke"/>
<path d="M-0.242 0.97A1 1 0 0 1 0.192 -0.981" transform="matrix(2.98 -2.45 -13.38 -0.55 120.4 290.19)" vector-effect="non-scaling-stroke"/>
<path d="M-0.237 0.972A1 1 0 0 1 0.198 -0.98" transform="matrix(3.07 -2.53 -13.8 -0.57 120.4 286.79)" vector-effect="non-scaling-stroke"/>
<path d="M-0.232 0.973A1 1 0 0 1 0.203 -0.979" transform="matrix(3.14 -2.59 -14.11 -0.58 120.4 283.39)" vector-effect="non-scaling-stroke"/>
<path d="M-0.227 0.974A1 1 0 0 1 0.208 -0.978" transform="matrix(3.19 -2.63 -14.33 -0.59 120.4 280)" vector-effect="non-scaling-stroke"/>
<path d="M-0.222 0.975A1 1 0 0 1 0.213 -0.977" transform="matrix(3.22 -2.65 -14.46 -0.59 120.4 276.6)" vector-effect="non-scaling-stroke"/>
<path d="M-0.217 0.976A1 1 0 0 1 0.217 -0.976" transform="matrix(3.23 -2.66 -14.5 -0.59 120.4 273.2)" vector-effect="non-scaling-stroke"/>
<path d="M-0.213 0.977A1 1 0 1 1 0.222 -0.975" transform="matrix(3.22 -2.65 -14.46 -0.59 120.4 269.8)" vector-effect="non-scaling-stroke"/>
<path d="M-0.208 0.978A1 1 0 1 1 0.227 -0.974" transform="matrix(3.19 -2.63 -14.33 -0.59 120.4 266.4)" vector-effect="non-scaling-stroke"/>
<path d="M-0.203 0.979A1 1 0 1 1 0.232 -0.973" transform="matrix(3.14 -2.59 -14.11 -0.58 120.4 263.01)" vector-effect="non-scaling-stroke"/>
<path d="M-0.198 0.98A1 1 0 1 1 0.237 -0.972" transform="matrix(3.07 -2.53 -13.8 -0.57 120.4 259.61)" vector-effect="non-scaling-stroke"/>
<path d="M-0.192 0.981A1 1 0 1 1 0.242 -0.97" transform="matrix(2.98 -2.45 -13.38 -0.55 120.4 256.21)" vector-effect="non-scaling-stroke"/>
<path d="M-0.186 0.983A1 1 0 1 1 0.248 -0.969" transform="matrix(2.86 -2.36 -12.86 -0.53 120.4 252.81)" vector-effect="non-scaling-stroke"/>
<path d="M-0.179 0.984A1 1 0 1 1 0.256 -0.967" transform="matrix(2.72 -2.24 -12.22 -0.5 120.4 249.41)" vector-effect="non-scaling-stroke"/>
<path d="M-0.17 0.985A1 1 0 1 1 0.264 -0.965" transform="matrix(2.54 -2.09 -11.43 -0.47 120.4 246.02)" vector-effect="non-scaling-stroke"/>
<path d="M-0.159 0.987A1 1 0 1 1 0.275 -0.962" transform="matrix(2.33 -1.92 -10.46 -0.43 120.4 242.62)" vector-effect="non-scaling-stroke"/>
<path d="M-0.144 0.99A1 1 0 1 1 0.289 -0.957" transform="matrix(2.06 -1.7 -9.26 -0.38 120.4 239.22)" vector-effect="non-scaling-stroke"/>
<path d="M-0.121 0.993A1 1 0 1 1 0.312 -0.95" transform="matrix(1.72 -1.42 -7.73 -0.32 120.4 235.82)" vector-effect="non-scaling-stroke"/>
<path d="M-0.07 0.998A1 1 0 1 1 0.359 -0.933" transform="matrix(1.24 -1.02 -5.58 -0.23 120.4 232.42)" vector-effect="non-scaling-stroke"/>
<path d="M0.063 0.998A1 1 0 0 1 0 1" transform="matrix(3.23 -2.66 0 -44.17 120.4 273.2)" vector-effect="non-scaling-stroke"/>
<path d="M0.062 0.998A1 1 0 0 1 0 1" transform="matrix(0.14 -2.72 0 -44.17 120.4 273.2)" vector-effect="non-scaling-stroke"/>
<path d="M0.063 0.998A1 1 0 0 1 0 1" transform="matrix(-2.95 -2.67 0 -44.17 120.4 273.2)" vector-effect="non-scaling-stroke"/>
<path d="M0.067 0.998A1 1 0 0 1 0 1" transform="matrix(-5.91 -2.5 0 -44.17 120.4 273.2)" vector-effect="non-scaling-stroke"/>
<path d="M0.075 0.997A1 1 0 0 1 0 1" transform="matrix(-8.62 -2.22 0 -44.17 120.4 273.2)" vector-effect="non-scaling-stroke"/>
<path d="M0.091 0.996A1 1 0 0 1 0 1" transform="matrix(-10.94 -1.84 0 -44.17 120.4 273.2)" vector-effect="non-scaling-stroke"/>
<path d="M0.12 0.993A1 1 0 0 1 0 1" transform="matrix(-12.79 -1.39 0 -44.17 120.4 273.2)" vector-effect="non-scaling-stroke"/>
<path d="M0.19 0.982A1 1 0 0 1 0 1" transform="matrix(-14.08 -0.87 0 -44.17 120.4 273.2)" vector-effect="non-scaling-stroke"/>
<path d="M0.475 0.88A1 1 0 0 1 0 1" transform="matrix(-14.76 -0.31 0 -44.17 120.4 273.2)" vector-effect="non-scaling-stroke"/>
<path d="M0.544 -0.839A1 1 0 0 1 0 1" transform="matrix(-14.79 0.26 0 -44.17 120.4 273.2)" vector-effect="non-scaling-stroke"/>
<path d="M0.201 -0.98A1 1 0 0 1 0 1" transform="matrix(-14.17 0.81 0 -44.17 120.4 273.2)" vector-effect="non-scaling-stroke"/>
<path d="M0.124 -0.992A1 1 0 0 1 0 1" transform="matrix(-12.93 1.34 0 -44.17 120.4 273.2)" vector-effect="non-scaling-stroke"/>
<path d="M0.093 -0.996A1 1 0 0 1 0 1" transform="matrix(-11.13 1.8 0 -44.17 120.4 273.2)" vector-effect="non-scaling-stroke"/>
<path d="M0.077 -0.997A1 1 0 0 1 0 1" transform="matrix(-8.85 2.19 0 -44.17 120.4 273.2)" vector-effect="non-scaling-stroke"/>
<path d="M0.068 -0.998A1 1 0 0 1 0 1" transform="matrix(-6.17 2.48 0 -44.17 120.4 273.2)" vector-effect="non-scaling-stroke"/>
<path d="M0.063 -0.998A1 1 0 0 1 0 1" transform="matrix(-3.23 2.66 0 -44.17 120.4 273.2)" vector-effect="non-scaling-stroke"/>
<path d="M0.062 -0.998A1 1 0 0 1 0 1" transform="matrix(-0.14 2.72 0 -44.17 120.4 273.2)" vector-effect="non-scaling-stroke"/>
<path d="M0.063 -0.998A1 1 0 0 1 0 1" transform="matrix(2.95 2.67 0 -44.17 120.4 273.2)" vector-effect="non-scaling-stroke"/>
<path d="M0.067 -0.998A1 1 0 0 1 0 1" transform="matrix(5.91 2.5 0 -44.17 120.4 273.2)" vector-effect="non-scaling-stroke"/>
<path d="M0.075 -0.997A1 1 0 0 1 0 1" transform="matrix(8.62 2.22 0 -44.17 120.4 273.2)" vector-effect="non-scaling-stroke"/>
<path d="M0.091 -0.996A1 1 0 0 1 0 1" transform="matrix(10.94 1.84 0 -44.17 120.4 273.2)" vector-effect="non-scaling-stroke"/>
<path d="M0.12 -0.993A1 1 0 0 1 0 1" transform="matrix(12.79 1.39 0 -44.17 120.4 273.2)" vector-effect="non-scaling-stroke"/>
<path d="M0.19 -0.982A1 1 0 0 1 0 1" transform="matrix(14.08 0.87 0 -44.17 120.4 273.2)" vector-effect="non-scaling-stroke"/>
<path d="M0.475 -0.88A1 1 0 0 1 0 1" transform="matrix(14.76 0.31 0 -44.17 120.4 273.2)" vector-effect="non-scaling-stroke"/>
<path d="M0.544 0.839A1 1 0 0 1 0 1" transform="matrix(14.79 -0.26 0 -44.17 120.4 273.2)" vector-effect="non-scaling-stroke"/>
<path d="M0.201 0.98A1 1 0 0 1 0 1" transform="matrix(14.17 -0.81 0 -44.17 120.4 273.2)" vector-effect="non-scaling-stroke"/>
<path d="M0.124 0.992A1 1 0 0 1 0 1" transform="matrix(12.93 -1.34 0 -44.17 120.4 273.2)" vector-effect="non-scaling-stroke"/>
<path d="M0.093 0.996A1 1 0 0 1 0 1" transform="matrix(11.13 -1.8 0 -44.17 120.4 273.2)" vector-effect="non-scaling-stroke"/>
<path d="M0.077 0.997A1 1 0 0 1 0 1" transform="matrix(8.85 -2.19 0 -44.17 120.4 273.2)" vector-effect="non-scaling-stroke"/>
<path d="M0.068 0.998A1 1 0 0 1 0 1" transform="matrix(6.17 -2.48 0 -44.17 120.4 273.2)" vector-effect="non-scaling-stroke"/>
</g>
<circle r="1" transform="matrix(-14.85 0 0 44.26 120.4 273.2)" fill="none" stroke="#000" stroke-width="0.65" vector-effect="non-scaling-stroke"/>
</g>
<g>
<circle r="1" transform="matrix(-5.1 0 0 15.2 121 342)" fill="#ff0000" fill-opacity="1.0" stroke="none"/>
<g fill="none" stroke="#6a000c" stroke-width="0.5" vector-effect="non-scaling-stroke">
<path d="M-0.359 0.933A1 1 0 0 1 0.07 -0.998" transform="matrix(0.43 -0.35 -1.92 -0.08 121 356.01)" vector-effect="non-scaling-stroke"/>
<path d="M-0.312 0.95A1 1 0 0 1 0.121 -0.993" transform="matrix(0.59 -0.49 -2.65 -0.11 121 354.84)" vector-effect="non-scaling-stroke"/>
<path d="M-0.289 0.957A1 1 0 0 1 0.144 -0.99" transform="matrix(0.71 -0.58 -3.18 -0.13 121 353.67)" vector-effect="non-scaling-stroke"/>
<path d="M-0.275 0.962A1 1 0 0 1 0.159 -0.987" transform="matrix(0.8 -0.66 -3.59 -0.15 121 352.51)" vector-effect="non-scaling-stroke"/>
<path d="M-0.264 0.965A1 1 0 0 1 0.17 -0.985" transform="matrix(0.87 -0.72 -3.93 -0.16 121 351.34)" vector-effect="non-scaling-stroke"/>
<path d="M-0.256 0.967A1 1 0 0 1 0.179 -0.984" transform="matrix(0.93 -0.77 -4.2 -0.17 121 350.17)" vector-effect="non-scaling-stroke"/>
<path d="M-0.248 0.969A1 1 0 0 1 0.186 -0.983" transform="matrix(0.98 -0.81 -4.42 -0.18 121 349)" vector-effect="non-scaling-stroke"/>
<path d="M-0.242 0.97A1 1 0 0 1 0.192 -0.981" transform="matrix(1.02 -0.84 -4.6 -0.19 121 347.84)" vector-effect="non-scaling-stroke"/>
<path d="M-0.237 0.972A1 1 0 0 1 0.198 -0.98" transform="matrix(1.06 -0.87 -4.74 -0.19 121 346.67)" vector-effect="non-scaling-stroke"/>
<path d="M-0.232 0.973A1 1 0 0 1 0.203 -0.979" transform="matrix(1.08 -0.89 -4.85 -0.2 121 345.5)" vector-effect="non-scaling-stroke"/>
<path d="M-0.227 0.974A1 1 0 0 1 0.208 -0.978" transform="matrix(1.1 -0.9 -4.92 -0.2 121 344.33)" vector-effect="non-scaling-stroke"/>
<path d="M-0.222 0.975A1 1 0 0 1 0.213 -0.977" transform="matrix(1.11 -0.91 -4.97 -0.2 121 343.17)" vector-effect="non-scaling-stroke"/>
<path d="M-0.217 0.976A1 1 0 0 1 0.217 -0.976" transform="matrix(1.11 -0.91 -4.98 -0.2 121 342)" vector-effect="non-scaling-stroke"/>
<path d="M-0.213 0.977A1 1 0 1 1 0.222 -0.975" transform="matrix(1.11 -0.91 -4.97 -0.2 121 340.83)" vector-effect="non-scaling-stroke"/>
<path d="M-0.208 0.978A1 1 0 1 1 0.227 -0.974" transform="matrix(1.1 -0.9 -4.92 -0.2 121 339.67)" vector-effect="non-scaling-stroke"/>
<path d="M-0.203 0.979A1 1 0 1 1 0.232 -0.973" transform="matrix(1.08 -0.89 -4.85 -0.2 121 338.5)" vector-effect="non-scaling-stroke"/>
<path d="M-0.198 0.98A1 1 0 1 1 0.237 -0.972" transform="matrix(1.06 -0.87 -4.74 -0.19 121 337.33)" vector-effect="non-scaling-stroke"/>
<path d="M-0.192 0.981A1 1 0 1 1 0.242 -0.97" transform="matrix(1.02 -0.84 -4.6 -0.19 121 336.16)" vector-effect="non-scaling-stroke"/>
<path d="M-0.186 0.983A1 1 0 1 1 0.248 -0.969" transform="matrix(0.98 -0.81 -4.42 -0.18 121 335)" vector-effect="non-scaling-stroke"/>
<path d="M-0.179 0.984A1 1 0 1 1 0.256 -0.967" transform="matrix(0.93 -0.77 -4.2 -0.17 121 333.83)" vector-effect="non-scaling-stroke"/>
<path d="M-0.17 0.985A1 1 0 1 1 0.264 -0.965" transform="matrix(0.87 -0.72 -3.93 -0.16 121 332.66)" vector-effect="non-scaling-stroke"/>
<path d="M-0.159 0.987A1 1 0 1 1 0.275 -0.962" transform="matrix(0.8 -0.66 -3.59 -0.15 121 331.49)" vector-effect="non-scaling-stroke"/>
<path d="M-0.144 0.99A1 1 0 1 1 0.289 -0.957" transform="matrix(0.71 -0.58 -3.18 -0.13 121 330.33)" vector-effect="non-scaling-stroke"/>
<path d="M-0.121 0.993A1 1 0 1 1 0.312 -0.95" transform="matrix(0.59 -0.49 -2.65 -0.11 121 329.16)" vector-effect="non-scaling-stroke"/>
<path d="M-0.07 0.998A1 1 0 1 1 0.359 -0.933" transform="matrix(0.43 -0.35 -1.92 -0.08 121 327.99)" vector-effect="non-scaling-stroke"/>
<path d="M0.063 0.998A1 1 0 0 1 0 1" transform="matrix(1.11 -0.91 0 -15.18 121 342)" vector-effect="non-scaling-stroke"/>
<path d="M0.062 0.998A1 1 0 0 1 0 1" transform="matrix(-0.34 -0.93 0 -15.18 121 342)" vector-effect="non-scaling-stroke"/>
<path d="M0.066 0.998A1 1 0 0 1 0 1" transform="matrix(-1.76 -0.88 0 -15.18 121 342)" vector-effect="non-scaling-stroke"/>
<path d="M0.076 0.997A1 1 0 0 1 0 1" transform="matrix(-3.04 -0.75 0 -15.18 121 342)" vector-effect="non-scaling-stroke"/>
<path d="M0.102 0.995A1 1 0 0 1 0 1" transform="matrix(-4.07 -0.57 0 -15.18 121 342)" vector-effect="non-scaling-stroke"/>
<path d="M0.172 0.985A1 1 0 0 1 0 1" transform="matrix(-4.77 -0.33 0 -15.18 121 342)" vector-effect="non-scaling-stroke"/>
<path d="M0.629 0.777A1 1 0 0 1 0 1" transform="matrix(-5.09 -0.07 0 -15.18 121 342)" vector-effect="non-scaling-stroke"/>
<path d="M0.284 -0.959A1 1 0 0 1 0 1" transform="matrix(-4.99 0.19 0 -15.18 121 342)" vector-effect="non-scaling-stroke"/>
<path d="M0.129 -0.992A1 1 0 0 1 0 1" transform="matrix(-4.49 0.44 0 -15.18 121 342)" vector-effect="non-scaling-stroke"/>
<path d="M0.087 -0.996A1 1 0 0 1 0 1" transform="matrix(-3.63 0.66 0 -15.18 121 342)" vector-effect="non-scaling-stroke"/>
<path d="M0.07 -0.998A1 1 0 0 1 0 1" transform="matrix(-2.47 0.82 0 -15.18 121 342)" vector-effect="non-scaling-stroke"/>
<path d="M0.063 -0.998A1 1 0 0 1 0 1" transform="matrix(-1.11 0.91 0 -15.18 121 342)" vector-effect="non-scaling-stroke"/>
<path d="M0.062 -0.998A1 1 0 0 1 0 1" transform="matrix(0.34 0.93 0 -15.18 121 342)" vector-effect="non-scaling-stroke"/>
<path d="M0.066 -0.998A1 1 0 0 1 0 1" transform="matrix(1.76 0.88 0 -15.18 121 342)" vector-effect="non-scaling-stroke"/>
<path d="M0.076 -0.997A1 1 0 0 1 0 1" transform="matrix(3.04 0.75 0 -15.18 121 342)" vector-effect="non-scaling-stroke"/>
<path d="M0.102 -0.995A1 1 0 0 1 0 1" transform="matrix(4.07 0.57 0 -15.18 121 342)" vector-effect="non-scaling-stroke"/>
<path d="M0.172 -0.985A1 1 0 0 1 0 1" transform="matrix(4.77 0.33 0 -15.18 121 342)" vector-effect="non-scaling-stroke"/>
<path d="M0.629 -0.777A1 1 0 0 1 0 1" transform="matrix(5.09 0.07 0 -15.18 121 342)" vector-effect="non-scaling-stroke"/>
<path d="M0.284 0.959A1 1 0 0 1 0 1" transform="matrix(4.99 -0.19 0 -15.18 121 342)" vector-effect="non-scaling-stroke"/>
<path d="M0.129 0.992A1 1 0 0 1 0 1" transform="matrix(4.49 -0.44 0 -15.18 121 342)" vector-effect="non-scaling-stroke"/>
<path d="M0.087 0.996A1 1 0 0 1 0 1" transform="matrix(3.63 -0.66 0 -15.18 121 342)" vector-effect="non-scaling-stroke"/>
<path d="M0.07 0.998A1 1 0 0 1 0 1" transform="matrix(2.47 -0.82 0 -15.18 121 342)" vector-effect="non-scaling-stroke"/>
</g>
<circle r="1" transform="matrix(-5.1 0 0 15.2 121 342)" fill="none" stroke="#000" stroke-width="0.65" vector-effect="non-scaling-stroke"/>
</g>
<g>
<circle r="1" transform="matrix(-6.38 0 0 19.01 138.7 294.3)" fill="#ff0000" fill-opacity="1.0" stroke="none"/>
<g fill="none" stroke="#6a000c" stroke-width="0.5" vector-effect="non-scaling-stroke">
<path d="M-0.359 0.933A1 1 0 0 1 0.07 -0.998" transform="matrix(0.53 -0.44 -2.39 -0.1 138.7 311.81)" vector-effect="non-scaling-stroke"/>
<path d="M-0.312 0.95A1 1 0 0 1 0.121 -0.993" transform="matrix(0.74 -0.61 -3.32 -0.14 138.7 310.35)" vector-effect="non-scaling-stroke"/>
<path d="M-0.289 0.957A1 1 0 0 1 0.144 -0.99" transform="matrix(0.89 -0.73 -3.98 -0.16 138.7 308.89)" vector-effect="non-scaling-stroke"/>
<path d="M-0.275 0.962A1 1 0 0 1 0.159 -0.987" transform="matrix(1 -0.82 -4.49 -0.18 138.7 307.43)" vector-effect="non-scaling-stroke"/>
<path d="M-0.264 0.965A1 1 0 0 1 0.17 -0.985" transform="matrix(1.09 -0.9 -4.91 -0.2 138.7 305.97)" vector-effect="non-scaling-stroke"/>
<path d="M-0.256 0.967A1 1 0 0 1 0.179 -0.984" transform="matrix(1.17 -0.96 -5.25 -0.22 138.7 304.51)" vector-effect="non-scaling-stroke"/>
<path d="M-0.248 0.969A1 1 0 0 1 0.186 -0.983" transform="matrix(1.23 -1.01 -5.52 -0.23 138.7 303.06)" vector-effect="non-scaling-stroke"/>
<path d="M-0.242 0.97A1 1 0 0 1 0.192 -0.981" transform="matrix(1.28 -1.05 -5.75 -0.24 138.7 301.6)" vector-effect="non-scaling-stroke"/>
<path d="M-0.237 0.972A1 1 0 0 1 0.198 -0.98" transform="matrix(1.32 -1.09 -5.92 -0.24 138.7 300.14)" vector-effect="non-scaling-stroke"/>
<path d="M-0.232 0.973A1 1 0 0 1 0.203 -0.979" transform="matrix(1.35 -1.11 -6.06 -0.25 138.7 298.68)" vector-effect="non-scaling-stroke"/>
<path d="M-0.227 0.974A1 1 0 0 1 0.208 -0.978" transform="matrix(1.37 -1.13 -6.15 -0.25 138.7 297.22)" vector-effect="non-scaling-stroke"/>
<path d="M-0.222 0.975A1 1 0 0 1 0.213 -0.977" transform="matrix(1.38 -1.14 -6.21 -0.25 138.7 295.76)" vector-effect="non-scaling-stroke"/>
<path d="M-0.217 0.976A1 1 0 0 1 0.217 -0.976" transform="matrix(1.39 -1.14 -6.23 -0.26 138.7 294.3)" vector-effect="non-scaling-stroke"/>
<path d="M-0.213 0.977A1 1 0 1 1 0.222 -0.975" transform="matrix(1.38 -1.14 -6.21 -0.25 138.7 292.84)" vector-effect="non-scaling-stroke"/>
<path d="M-0.208 0.978A1 1 0 1 1 0.227 -0.974" transform="matrix(1.37 -1.13 -6.15 -0.25 138.7 291.38)" vector-effect="non-scaling-stroke"/>
<path d="M-0.203 0.979A1 1 0 1 1 0.232 -0.973" transform="matrix(1.35 -1.11 -6.06 -0.25 138.7 289.92)" vector-effect="non-scaling-stroke"/>
<path d="M-0.198 0.98A1 1 0 1 1 0.237 -0.972" transform="matrix(1.32 -1.09 -5.92 -0.24 138.7 288.46)" vector-effect="non-scaling-stroke"/>
<path d="M-0.192 0.981A1 1 0 1 1 0.242 -0.97" transform="matrix(1.28 -1.05 -5.75 -0.24 138.7 287)" vector-effect="non-scaling-stroke"/>
<path d="M-0.186 0.983A1 1 0 1 1 0.248 -0.969" transform="matrix(1.23 -1.01 -5.52 -0.23 138.7 285.54)" vector-effect="non-scaling-stroke"/>
<path d="M-0.179 0.984A1 1 0 1 1 0.256 -0.967" transform="matrix(1.17 -0.96 -5.25 -0.22 138.7 284.09)" vector-effect="non-scaling-stroke"/>
<path d="M-0.17 0.985A1 1 0 1 1 0.264 -0.965" transform="matrix(1.09 -0.9 -4.91 -0.2 138.7 282.63)" vector-effect="non-scaling-stroke"/>
<path d="M-0.159 0.987A1 1 0 1 1 0.275 -0.962" transform="matrix(1 -0.82 -4.49 -0.18 138.7 281.17)" vector-effect="non-scaling-stroke"/>
<path d="M-0.144 0.99A1 1 0 1 1 0.289 -0.957" transform="matrix(0.89 -0.73 -3.98 -0.16 138.7 279.71)" vector-effect="non-scaling-stroke"/>
<path d="M-0.121 0.993A1 1 0 1 1 0.312 -0.95" transform="matrix(0.74 -0.61 -3.32 -0.14 138.7 278.25)" vector-effect="non-scaling-stroke"/>
<path d="M-0.07 0.998A1 1 0 1 1 0.359 -0.933" transform="matrix(0.53 -0.44 -2.39 -0.1 138.7 276.79)" vector-effect="non-scaling-stroke"/>
<path d="M0.063 0.998A1 1 0 0 1 0 1" transform="matrix(1.39 -1.14 0 -18.97 138.7 294.3)" vector-effect="non-scaling-stroke"/>
<path d="M0.062 0.998A1 1 0 0 1 0 1" transform="matrix(-0.42 -1.17 0 -18.97 138.7 294.3)" vector-effect="non-scaling-stroke"/>
<path d="M0.066 0.998A1 1 0 0 1 0 1" transform="matrix(-2.2 -1.1 0 -18.97 138.7 294.3)" vector-effect="non-scaling-stroke"/>
<path d="M0.076 0.997A1 1 0 0 1 0 1" transform="matrix(-3.8 -0.94 0 -18.97 138.7 294.3)" vector-effect="non-scaling-stroke"/>
<path d="M0.102 0.995A1 1 0 0 1 0 1" transform="matrix(-5.09 -0.71 0 -18.97 138.7 294.3)" vector-effect="non-scaling-stroke"/>
<path d="M0.172 0.985A1 1 0 0 1 0 1" transform="matrix(-5.97 -0.42 0 -18.97 138.7 294.3)" vector-effect="non-scaling-stroke"/>
<path d="M0.629 0.777A1 1 0 0 1 0 1" transform="matrix(-6.36 -0.09 0 -18.97 138.7 294.3)" vector-effect="non-scaling-stroke"/>
<path d="M0.284 -0.959A1 1 0 0 1 0 1" transform="matrix(-6.24 0.24 0 -18.97 138.7 294.3)" vector-effect="non-scaling-stroke"/>
<path d="M0.129 -0.992A1 1 0 0 1 0 1" transform="matrix(-5.61 0.55 0 -18.97 138.7 294.3)" vector-effect="non-scaling-stroke"/>
<path d="M0.087 -0.996A1 1 0 0 1 0 1" transform="matrix(-4.53 0.82 0 -18.97 138.7 294.3)" vector-effect="non-scaling-stroke"/>
<path d="M0.07 -0.998A1 1 0 0 1 0 1" transform="matrix(-3.08 1.02 0 -18.97 138.7 294.3)" vector-effect="non-scaling-stroke"/>
<path d="M0.063 -0.998A1 1 0 0 1 0 1" transform="matrix(-1.39 1.14 0 -18.97 138.7 294.3)" vector-effect="non-scaling-stroke"/>
<path d="M0.062 -0.998A1 1 0 0 1 0 1" transform="matrix(0.42 1.17 0 -18.97 138.7 294.3)" vector-effect="non-scaling-stroke"/>
<path d="M0.066 -0.998A1 1 0 0 1 0 1" transform="matrix(2.2 1.1 0 -18.97 138.7 294.3)" vector-effect="non-scaling-stroke"/>
<path d="M0.076 -0.997A1 1 0 0 1 0 1" transform="matrix(3.8 0.94 0 -18.97 138.7 294.3)" vector-effect="non-scaling-stroke"/>
<path d="M0.102 -0.995A1 1 0 0 1 0 1" transform="matrix(5.09 0.71 0 -18.97 138.7 294.3)" vector-effect="non-scaling-stroke"/>
<path d="M0.172 -0.985A1 1 0 0 1 0 1" transform="matrix(5.97 0.42 0 -18.97 138.7 294.3)" vector-effect="non-scaling-stroke"/>
<path d="M0.629 -0.777A1 1 0 0 1 0 1" transform="matrix(6.36 0.09 0 -18.97 138.7 294.3)" vector-effect="non-scaling-stroke"/>
<path d="M0.284 0.959A1 1 0 0 1 0 1" transform="matrix(6.24 -0.24 0 -18.97 138.7 294.3)" vector-effect="non-scaling-stroke"/>
<path d="M0.129 0.992A1 1 0 0 1 0 1" transform="matrix(5.61 -0.55 0 -18.97 138.7 294.3)" vector-effect="non-scaling-stroke"/>
<path d="M0.087 0.996A1 1 0 0 1 0 1" transform="matrix(4.53 -0.82 0 -18.97 138.7 294.3)" vector-effect="non-scaling-stroke"/>
<path d="M0.07 0.998A1 1 0 0 1 0 1" transform="matrix(3.08 -1.02 0 -18.97 138.7 294.3)" vector-effect="non-scaling-stroke"/>
</g>
<circle r="1" transform="matrix(-6.38 0 0 19.01 138.7 294.3)" fill="none" stroke="#000" stroke-width="0.65" vector-effect="non-scaling-stroke"/>
</g>
<g>
<circle r="1" transform="matrix(-7.84 0 0 23.35 146.5 350)" fill="#ff0000" fill-opacity="1.0" stroke="none"/>
<g fill="none" stroke="#6a000c" stroke-width="0.5" vector-effect="non-scaling-stroke">
<path d="M-0.359 0.933A1 1 0 0 1 0.07 -0.998" transform="matrix(0.65 -0.54 -2.94 -0.12 146.5 371.51)" vector-effect="non-scaling-stroke"/>
<path d="M-0.312 0.95A1 1 0 0 1 0.121 -0.993" transform="matrix(0.91 -0.75 -4.08 -0.17 146.5 369.72)" vector-effect="non-scaling-stroke"/>
<path d="M-0.289 0.957A1 1 0 0 1 0.144 -0.99" transform="matrix(1.09 -0.9 -4.89 -0.2 146.5 367.93)" vector-effect="non-scaling-stroke"/>
<path d="M-0.275 0.962A1 1 0 0 1 0.159 -0.987" transform="matrix(1.23 -1.01 -5.52 -0.23 146.5 366.13)" vector-effect="non-scaling-stroke"/>
<path d="M-0.264 0.965A1 1 0 0 1 0.17 -0.985" transform="matrix(1.34 -1.1 -6.03 -0.25 146.5 364.34)" vector-effect="non-scaling-stroke"/>
<path d="M-0.256 0.967A1 1 0 0 1 0.179 -0.984" transform="matrix(1.43 -1.18 -6.45 -0.26 146.5 362.55)" vector-effect="non-scaling-stroke"/>
<path d="M-0.248 0.969A1 1 0 0 1 0.186 -0.983" transform="matrix(1.51 -1.24 -6.79 -0.28 146.5 360.76)" vector-effect="non-scaling-stroke"/>
<path d="M-0.242 0.97A1 1 0 0 1 0.192 -0.981" transform="matrix(1.57 -1.29 -7.06 -0.29 146.5 358.96)" vector-effect="non-scaling-stroke"/>
<path d="M-0.237 0.972A1 1 0 0 1 0.198 -0.98" transform="matrix(1.62 -1.33 -7.28 -0.3 146.5 357.17)" vector-effect="non-scaling-stroke"/>
<path d="M-0.232 0.973A1 1 0 0 1 0.203 -0.979" transform="matrix(1.66 -1.36 -7.44 -0.31 146.5 355.38)" vector-effect="non-scaling-stroke"/>
<path d="M-0.227 0.974A1 1 0 0 1 0.208 -0.978" transform="matrix(1.68 -1.39 -7.56 -0.31 146.5 353.59)" vector-effect="non-scaling-stroke"/>
<path d="M-0.222 0.975A1 1 0 0 1 0.213 -0.977" transform="matrix(1.7 -1.4 -7.63 -0.31 146.5 351.79)" vector-effect="non-scaling-stroke"/>
<path d="M-0.217 0.976A1 1 0 0 1 0.217 -0.976" transform="matrix(1.7 -1.4 -7.65 -0.31 146.5 350)" vector-effect="non-scaling-stroke"/>
<path d="M-0.213 0.977A1 1 0 1 1 0.222 -0.975" transform="matrix(1.7 -1.4 -7.63 -0.31 146.5 348.21)" vector-effect="non-scaling-stroke"/>
<path d="M-0.208 0.978A1 1 0 1 1 0.227 -0.974" transform="matrix(1.68 -1.39 -7.56 -0.31 146.5 346.41)" vector-effect="non-scaling-stroke"/>
<path d="M-0.203 0.979A1 1 0 1 1 0.232 -0.973" transform="matrix(1.66 -1.36 -7.44 -0.31 146.5 344.62)" vector-effect="non-scaling-stroke"/>
<path d="M-0.198 0.98A1 1 0 1 1 0.237 -0.972" transform="matrix(1.62 -1.33 -7.28 -0.3 146.5 342.83)" vector-effect="non-scaling-stroke"/>
<path d="M-0.192 0.981A1 1 0 1 1 0.242 -0.97" transform="matrix(1.57 -1.29 -7.06 -0.29 146.5 341.04)" vector-effect="non-scaling-stroke"/>
<path d="M-0.186 0.983A1 1 0 1 1 0.248 -0.969" transform="matrix(1.51 -1.24 -6.79 -0.28 146.5 339.24)" vector-effect="non-scaling-stroke"/>
<path d="M-0.179 0.984A1 1 0 1 1 0.256 -0.967" transform="matrix(1.43 -1.18 -6.45 -0.26 146.5 337.45)" vector-effect="non-scaling-stroke"/>
<path d="M-0.17 0.985A1 1 0 1 1 0.264 -0.965" transform="matrix(1.34 -1.1 -6.03 -0.25 146.5 335.66)" vector-effect="non-scaling-stroke"/>
<path d="M-0.159 0.987A1 1 0 1 1 0.275 -0.962" transform="matrix(1.23 -1.01 -5.52 -0.23 146.5 333.87)" vector-effect="non-scaling-stroke"/>
<path d="M-0.144 0.99A1 1 0 1 1 0.289 -0.957" transform="matrix(1.09 -0.9 -4.89 -0.2 146.5 332.07)" vector-effect="non-scaling-stroke"/>
<path d="M-0.121 0.993A1 1 0 1 1 0.312 -0.95" transform="matrix(0.91 -0.75 -4.08 -0.17 146.5 330.28)" vector-effect="non-scaling-stroke"/>
<path d="M-0.07 0.998A1 1 0 1 1 0.359 -0.933" transform="matrix(0.65 -0.54 -2.94 -0.12 146.5 328.49)" vector-effect="non-scaling-stroke"/>
<path d="M0.063 0.998A1 1 0 0 1 0 1" transform="matrix(1.7 -1.4 0 -23.31 146.5 350)" vector-effect="non-scaling-stroke"/>
<path d="M0.062 0.998A1 1 0 0 1 0 1" transform="matrix(-0.52 -1.43 0 -23.31 146.5 350)" vector-effect="non-scaling-stroke"/>
<path d="M0.066 0.998A1 1 0 0 1 0 1" transform="matrix(-2.7 -1.35 0 -23.31 146.5 350)" vector-effect="non-scaling-stroke"/>
<path d="M0.076 0.997A1 1 0 0 1 0 1" transform="matrix(-4.67 -1.16 0 -23.31 146.5 350)" vector-effect="non-scaling-stroke"/>
<path d="M0.102 0.995A1 1 0 0 1 0 1" transform="matrix(-6.25 -0.87 0 -23.31 146.5 350)" vector-effect="non-scaling-stroke"/>
<path d="M0.172 0.985A1 1 0 0 1 0 1" transform="matrix(-7.33 -0.51 0 -23.31 146.5 350)" vector-effect="non-scaling-stroke"/>
<path d="M0.629 0.777A1 1 0 0 1 0 1" transform="matrix(-7.81 -0.11 0 -23.31 146.5 350)" vector-effect="non-scaling-stroke"/>
<path d="M0.284 -0.959A1 1 0 0 1 0 1" transform="matrix(-7.67 0.3 0 -23.31 146.5 350)" vector-effect="non-scaling-stroke"/>
<path d="M0.129 -0.992A1 1 0 0 1 0 1" transform="matrix(-6.9 0.68 0 -23.31 146.5 350)" vector-effect="non-scaling-stroke"/>
<path d="M0.087 -0.996A1 1 0 0 1 0 1" transform="matrix(-5.57 1.01 0 -23.31 146.5 350)" vector-effect="non-scaling-stroke"/>
<path d="M0.07 -0.998A1 1 0 0 1 0 1" transform="matrix(-3.79 1.26 0 -23.31 146.5 350)" vector-effect="non-scaling-stroke"/>
<path d="M0.063 -0.998A1 1 0 0 1 0 1" transform="matrix(-1.7 1.4 0 -23.31 146.5 350)" vector-effect="non-scaling-stroke"/>
<path d="M0.062 -0.998A1 1 0 0 1 0 1" transform="matrix(0.52 1.43 0 -23.31 146.5 350)" vector-effect="non-scaling-stroke"/>
<path d="M0.066 -0.998A1 1 0 0 1 0 1" transform="matrix(2.7 1.35 0 -23.31 146.5 350)" vector-effect="non-scaling-stroke"/>
<path d="M0.076 -0.997A1 1 0 0 1 0 1" transform="matrix(4.67 1.16 0 -23.31 146.5 350)" vector-effect="non-scaling-stroke"/>
<path d="M0.102 -0.995A1 1 0 0 1 0 1" transform="matrix(6.25 0.87 0 -23.31 146.5 350)" vector-effect="non-scaling-stroke"/>
<path d="M0.172 -0.985A1 1 0 0 1 0 1" transform="matrix(7.33 0.51 0 -23.31 146.5 350)" vector-effect="non-scaling-stroke"/>
<path d="M0.629 -0.777A1 1 0 0 1 0 1" transform="matrix(7.81 0.11 0 -23.31 146.5 350)" vector-effect="non-scaling-stroke"/>
<path d="M0.284 0.959A1 1 0 0 1 0 1" transform="matrix(7.67 -0.3 0 -23.31 146.5 350)" vector-effect="non-scaling-stroke"/>
<path d="M0.129 0.992A1 1 0 0 1 0 1" transform="matrix(6.9 -0.68 0 -23.31 146.5 350)" vector-effect="non-scaling-stroke"/>
<path d="M0.087 0.996A1 1 0 0 1 0 1" transform="matrix(5.57 -1.01 0 -23.31 146.5 350)" vector-effect="non-scaling-stroke"/>
<path d="M0.07 0.998A1 1 0 0 1 0 1" transform="matrix(3.79 -1.26 0 -23.31 146.5 350)" vector-effect="non-scaling-stroke"/>
</g>
<circle r="1" transform="matrix(-7.84 0 0 23.35 146.5 350)" fill="none" stroke="#000" stroke-width="0.65" vector-effect="non-scaling-stroke"/>
</g>
<g>
<circle r="1" transform="matrix(-11.48 0 0 34.21 99 322)" fill="#ff0000" fill-opacity="1.0" stroke="none"/>
<g fill="none" stroke="#6a000c" stroke-width="0.5" vector-effect="non-scaling-stroke">
<path d="M-0.359 0.933A1 1 0 0 1 0.07 -0.998" transform="matrix(0.96 -0.79 -4.31 -0.18 99 353.52)" vector-effect="non-scaling-stroke"/>
<path d="M-0.312 0.95A1 1 0 0 1 0.121 -0.993" transform="matrix(1.33 -1.09 -5.97 -0.25 99 350.89)" vector-effect="non-scaling-stroke"/>
<path d="M-0.289 0.957A1 1 0 0 1 0.144 -0.99" transform="matrix(1.59 -1.31 -7.16 -0.29 99 348.27)" vector-effect="non-scaling-stroke"/>
<path d="M-0.275 0.962A1 1 0 0 1 0.159 -0.987" transform="matrix(1.8 -1.48 -8.09 -0.33 99 345.64)" vector-effect="non-scaling-stroke"/>
<path d="M-0.264 0.965A1 1 0 0 1 0.17 -0.985" transform="matrix(1.97 -1.62 -8.83 -0.36 99 343.01)" vector-effect="non-scaling-stroke"/>
<path d="M-0.256 0.967A1 1 0 0 1 0.179 -0.984" transform="matrix(2.1 -1.73 -9.44 -0.39 99 340.39)" vector-effect="non-scaling-stroke"/>
<path d="M-0.248 0.969A1 1 0 0 1 0.186 -0.983" transform="matrix(2.21 -1.82 -9.94 -0.41 99 337.76)" vector-effect="non-scaling-stroke"/>
<path d="M-0.242 0.97A1 1 0 0 1 0.192 -0.981" transform="matrix(2.3 -1.9 -10.35 -0.42 99 335.13)" vector-effect="non-scaling-stroke"/>
<path d="M-0.237 0.972A1 1 0 0 1 0.198 -0.98" transform="matrix(2.37 -1.95 -10.66 -0.44 99 332.51)" vector-effect="non-scaling-stroke"/>
<path d="M-0.232 0.973A1 1 0 0 1 0.203 -0.979" transform="matrix(2.43 -2 -10.91 -0.45 99 329.88)" vector-effect="non-scaling-stroke"/>
<path d="M-0.227 0.974A1 1 0 0 1 0.208 -0.978" transform="matrix(2.47 -2.03 -11.07 -0.45 99 327.25)" vector-effect="non-scaling-stroke"/>
<path d="M-0.222 0.975A1 1 0 0 1 0.213 -0.977" transform="matrix(2.49 -2.05 -11.17 -0.46 99 324.63)" vector-effect="non-scaling-stroke"/>
<path d="M-0.217 0.976A1 1 0 0 1 0.217 -0.976" transform="matrix(2.49 -2.05 -11.21 -0.46 99 322)" vector-effect="non-scaling-stroke"/>
<path d="M-0.213 0.977A1 1 0 1 1 0.222 -0.975" transform="matrix(2.49 -2.05 -11.17 -0.46 99 319.37)" vector-effect="non-scaling-stroke"/>
<path d="M-0.208 0.978A1 1 0 1 1 0.227 -0.974" transform="matrix(2.47 -2.03 -11.07 -0.45 99 316.75)" vector-effect="non-scaling-stroke"/>
<path d="M-0.203 0.979A1 1 0 1 1 0.232 -0.973" transform="matrix(2.43 -2 -10.91 -0.45 99 314.12)" vector-effect="non-scaling-stroke"/>
<path d="M-0.198 0.98A1 1 0 1 1 0.237 -0.972" transform="matrix(2.37 -1.95 -10.66 -0.44 99 311.49)" vector-effect="non-scaling-stroke"/>
<path d="M-0.192 0.981A1 1 0 1 1 0.242 -0.97" transform="matrix(2.3 -1.9 -10.35 -0.42 99 308.87)" vector-effect="non-scaling-stroke"/>
<path d="M-0.186 0.983A1 1 0 1 1 0.248 -0.969" transform="matrix(2.21 -1.82 -9.94 -0.41 99 306.24)" vector-effect="non-scaling-stroke"/>
<path d="M-0.179 0.984A1 1 0 1 1 0.256 -0.967" transform="matrix(2.1 -1.73 -9.44 -0.39 99 303.61)" vector-effect="non-scaling-stroke"/>
<path d="M-0.17 0.985A1 1 0 1 1 0.264 -0.965" transform="matrix(1.97 -1.62 -8.83 -0.36 99 300.99)" vector-effect="non-scaling-stroke"/>
<path d="M-0.159 0.987A1 1 0 1 1 0.275 -0.962" transform="matrix(1.8 -1.48 -8.09 -0.33 99 298.36)" vector-effect="non-scaling-stroke"/>
<path d="M-0.144 0.99A1 1 0 1 1 0.289 -0.957" transform="matrix(1.59 -1.31 -7.16 -0.29 99 295.73)" vector-effect="non-scaling-stroke"/>
<path d="M-0.121 0.993A1 1 0 1 1 0.312 -0.95" transform="matrix(1.33 -1.09 -5.97 -0.25 99 293.11)" vector-effect="non-scaling-stroke"/>
<path d="M-0.07 0.998A1 1 0 1 1 0.359 -0.933" transform="matrix(0.96 -0.79 -4.31 -0.18 99 290.48)" vector-effect="non-scaling-stroke"/>
<path d="M0.063 0.998A1 1 0 0 1 0 1" transform="matrix(2.49 -2.05 0 -34.15 99 322)" vector-effect="non-scaling-stroke"/>
<path d="M0.062 0.998A1 1 0 0 1 0 1" transform="matrix(0.11 -2.1 0 -34.15 99 322)" vector-effect="non-scaling-stroke"/>
<path d="M0.063 0.998A1 1 0 0 1 0 1" transform="matrix(-2.28 -2.06 0 -34.15 99 322)" vector-effect="non-scaling-stroke"/>
<path d="M0.067 0.998A1 1 0 0 1 0 1" transform="matrix(-4.57 -1.93 0 -34.15 99 322)" vector-effect="non-scaling-stroke"/>
<path d="M0.075 0.997A1 1 0 0 1 0 1" transform="matrix(-6.66 -1.72 0 -34.15 99 322)" vector-effect="non-scaling-stroke"/>
<path d="M0.091 0.996A1 1 0 0 1 0 1" transform="matrix(-8.46 -1.43 0 -34.15 99 322)" vector-effect="non-scaling-stroke"/>
<path d="M0.12 0.993A1 1 0 0 1 0 1" transform="matrix(-9.89 -1.07 0 -34.15 99 322)" vector-effect="non-scaling-stroke"/>
<path d="M0.19 0.982A1 1 0 0 1 0 1" transform="matrix(-10.89 -0.67 0 -34.15 99 322)" vector-effect="non-scaling-stroke"/>
<path d="M0.475 0.88A1 1 0 0 1 0 1" transform="matrix(-11.41 -0.24 0 -34.15 99 322)" vector-effect="non-scaling-stroke"/>
<path d="M0.544 -0.839A1 1 0 0 1 0 1" transform="matrix(-11.43 0.2 0 -34.15 99 322)" vector-effect="non-scaling-stroke"/>
<path d="M0.201 -0.98A1 1 0 0 1 0 1" transform="matrix(-10.95 0.63 0 -34.15 99 322)" vector-effect="non-scaling-stroke"/>
<path d="M0.124 -0.992A1 1 0 0 1 0 1" transform="matrix(-10 1.03 0 -34.15 99 322)" vector-effect="non-scaling-stroke"/>
<path d="M0.093 -0.996A1 1 0 0 1 0 1" transform="matrix(-8.61 1.39 0 -34.15 99 322)" vector-effect="non-scaling-stroke"/>
<path d="M0.077 -0.997A1 1 0 0 1 0 1" transform="matrix(-6.84 1.69 0 -34.15 99 322)" vector-effect="non-scaling-stroke"/>
<path d="M0.068 -0.998A1 1 0 0 1 0 1" transform="matrix(-4.77 1.91 0 -34.15 99 322)" vector-effect="non-scaling-stroke"/>
<path d="M0.063 -0.998A1 1 0 0 1 0 1" transform="matrix(-2.49 2.05 0 -34.15 99 322)" vector-effect="non-scaling-stroke"/>
<path d="M0.062 -0.998A1 1 0 0 1 0 1" transform="matrix(-0.11 2.1 0 -34.15 99 322)" vector-effect="non-scaling-stroke"/>
<path d="M0.063 -0.998A1 1 0 0 1 0 1" transform="matrix(2.28 2.06 0 -34.15 99 322)" vector-effect="non-scaling-stroke"/>
<path d="M0.067 -0.998A1 1 0 0 1 0 1" transform="matrix(4.57 1.93 0 -34.15 99 322)" vector-effect="non-scaling-stroke"/>
<path d="M0.075 -0.997A1 1 0 0 1 0 1" transform="matrix(6.66 1.72 0 -34.15 99 322)" vector-effect="non-scaling-stroke"/>
<path d="M0.091 -0.996A1 1 0 0 1 0 1" transform="matrix(8.46 1.43 0 -34.15 99 322)" vector-effect="non-scaling-stroke"/>
<path d="M0.12 -0.993A1 1 0 0 1 0 1" transform="matrix(9.89 1.07 0 -34.15 99 322)" vector-effect="non-scaling-stroke"/>
<path d="M0.19 -0.982A1 1 0 0 1 0 1" transform="matrix(10.89 0.67 0 -34.15 99 322)" vector-effect="non-scaling-stroke"/>
<path d="M0.475 -0.88A1 1 0 0 1 0 1" transform="matrix(11.41 0.24 0 -34.15 99 322)" vector-effect="non-scaling-stroke"/>
<path d="M0.544 0.839A1 1 0 0 1 0 1" transform="matrix(11.43 -0.2 0 -34.15 99 322)" vector-effect="non-scaling-stroke"/>
<path d="M0.201 0.98A1 1 0 0 1 0 1" transform="matrix(10.95 -0.63 0 -34.15 99 322)" vector-effect="non-scaling-stroke"/>
<path d="M0.124 0.992A1 1 0 0 1 0 1" transform="matrix(10 -1.03 0 -34.15 99 322)" vector-effect="non-scaling-stroke"/>
<path d="M0.093 0.996A1 1 0 0 1 0 1" transform="matrix(8.61 -1.39 0 -34.15 99 322)" vector-effect="non-scaling-stroke"/>
<path d="M0.077 0.997A1 1 0 0 1 0 1" transform="matrix(6.84 -1.69 0 -34.15 99 322)" vector-effect="non-scaling-stroke"/>
<path d="M0.068 0.998A1 1 0 0 1 0 1" transform="matrix(4.77 -1.91 0 -34.15 99 322)" vector-effect="non-scaling-stroke"/>
</g>
<circle r="1" transform="matrix(-11.48 0 0 34.21 99 322)" fill="none" stroke="#000" stroke-width="0.65" vector-effect="non-scaling-stroke"/>
</g>
<g>
<circle r="1" transform="matrix(-13.49 0 0 40.18 185.5 284.3)" fill="#ff0000" fill-opacity="1.0" stroke="none"/>
<g fill="none" stroke="#6a000c" stroke-width="0.5" vector-effect="non-scaling-stroke">
<path d="M-0.359 0.933A1 1 0 0 1 0.07 -0.998" transform="matrix(1.13 -0.93 -5.06 -0.21 185.5 321.32)" vector-effect="non-scaling-stroke"/>
<path d="M-0.312 0.95A1 1 0 0 1 0.121 -0.993" transform="matrix(1.56 -1.29 -7.02 -0.29 185.5 318.24)" vector-effect="non-scaling-stroke"/>
<path d="M-0.289 0.957A1 1 0 0 1 0.144 -0.99" transform="matrix(1.87 -1.54 -8.41 -0.35 185.5 315.15)" vector-effect="non-scaling-stroke"/>
<path d="M-0.275 0.962A1 1 0 0 1 0.159 -0.987" transform="matrix(2.11 -1.74 -9.5 -0.39 185.5 312.07)" vector-effect="non-scaling-stroke"/>
<path d="M-0.264 0.965A1 1 0 0 1 0.17 -0.985" transform="matrix(2.31 -1.9 -10.38 -0.43 185.5 308.98)" vector-effect="non-scaling-stroke"/>
<path d="M-0.256 0.967A1 1 0 0 1 0.179 -0.984" transform="matrix(2.47 -2.03 -11.09 -0.46 185.5 305.9)" vector-effect="non-scaling-stroke"/>
<path d="M-0.248 0.969A1 1 0 0 1 0.186 -0.983" transform="matrix(2.6 -2.14 -11.68 -0.48 185.5 302.81)" vector-effect="non-scaling-stroke"/>
<path d="M-0.242 0.97A1 1 0 0 1 0.192 -0.981" transform="matrix(2.7 -2.23 -12.15 -0.5 185.5 299.73)" vector-effect="non-scaling-stroke"/>
<path d="M-0.237 0.972A1 1 0 0 1 0.198 -0.98" transform="matrix(2.79 -2.3 -12.53 -0.51 185.5 296.64)" vector-effect="non-scaling-stroke"/>
<path d="M-0.232 0.973A1 1 0 0 1 0.203 -0.979" transform="matrix(2.85 -2.35 -12.81 -0.53 185.5 293.56)" vector-effect="non-scaling-stroke"/>
<path d="M-0.227 0.974A1 1 0 0 1 0.208 -0.978" transform="matrix(2.9 -2.38 -13.01 -0.53 185.5 290.47)" vector-effect="non-scaling-stroke"/>
<path d="M-0.222 0.975A1 1 0 0 1 0.213 -0.977" transform="matrix(2.92 -2.41 -13.13 -0.54 185.5 287.39)" vector-effect="non-scaling-stroke"/>
<path d="M-0.217 0.976A1 1 0 0 1 0.217 -0.976" transform="matrix(2.93 -2.41 -13.16 -0.54 185.5 284.3)" vector-effect="non-scaling-stroke"/>
<path d="M-0.213 0.977A1 1 0 1 1 0.222 -0.975" transform="matrix(2.92 -2.41 -13.13 -0.54 185.5 281.21)" vector-effect="non-scaling-stroke"/>
<path d="M-0.208 0.978A1 1 0 1 1 0.227 -0.974" transform="matrix(2.9 -2.38 -13.01 -0.53 185.5 278.13)" vector-effect="non-scaling-stroke"/>
<path d="M-0.203 0.979A1 1 0 1 1 0.232 -0.973" transform="matrix(2.85 -2.35 -12.81 -0.53 185.5 275.04)" vector-effect="non-scaling-stroke"/>
<path d="M-0.198 0.98A1 1 0 1 1 0.237 -0.972" transform="matrix(2.79 -2.3 -12.53 -0.51 185.5 271.96)" vector-effect="non-scaling-stroke"/>
<path d="M-0.192 0.981A1 1 0 1 1 0.242 -0.97" transform="matrix(2.7 -2.23 -12.15 -0.5 185.5 268.87)" vector-effect="non-scaling-stroke"/>
<path d="M-0.186 0.983A1 1 0 1 1 0.248 -0.969" transform="matrix(2.6 -2.14 -11.68 -0.48 185.5 265.79)" vector-effect="non-scaling-stroke"/>
<path d="M-0.179 0.984A1 1 0 1 1 0.256 -0.967" transform="matrix(2.47 -2.03 -11.09 -0.46 185.5 262.7)" vector-effect="non-scaling-stroke"/>
<path d="M-0.17 0.985A1 1 0 1 1 0.264 -0.965" transform="matrix(2.31 -1.9 -10.38 -0.43 185.5 259.62)" vector-effect="non-scaling-stroke"/>
<path d="M-0.159 0.987A1 1 0 1 1 0.275 -0.962" transform="matrix(2.11 -1.74 -9.5 -0.39 185.5 256.53)" vector-effect="non-scaling-stroke"/>
<path d="M-0.144 0.99A1 1 0 1 1 0.289 -0.957" transform="matrix(1.87 -1.54 -8.41 -0.35 185.5 253.45)" vector-effect="non-scaling-stroke"/>
<path d="M-0.121 0.993A1 1 0 1 1 0.312 -0.95" transform="matrix(1.56 -1.29 -7.02 -0.29 185.5 250.36)" vector-effect="non-scaling-stroke"/>
<path d="M-0.07 0.998A1 1 0 1 1 0.359 -0.933" transform="matrix(1.13 -0.93 -5.06 -0.21 185.5 247.28)" vector-effect="non-scaling-stroke"/>
<path d="M0.063 0.998A1 1 0 0 1 0 1" transform="matrix(2.93 -2.41 0 -40.11 185.5 284.3)" vector-effect="non-scaling-stroke"/>
<path d="M0.062 0.998A1 1 0 0 1 0 1" transform="matrix(0.13 -2.47 0 -40.11 185.5 284.3)" vector-effect="non-scaling-stroke"/>
<path d="M0.063 0.998A1 1 0 0 1 0 1" transform="matrix(-2.68 -2.42 0 -40.11 185.5 284.3)" vector-effect="non-scaling-stroke"/>
<path d="M0.067 0.998A1 1 0 0 1 0 1" transform="matrix(-5.37 -2.27 0 -40.11 185.5 284.3)" vector-effect="non-scaling-stroke"/>
<path d="M0.075 0.997A1 1 0 0 1 0 1" transform="matrix(-7.82 -2.02 0 -40.11 185.5 284.3)" vector-effect="non-scaling-stroke"/>
<path d="M0.091 0.996A1 1 0 0 1 0 1" transform="matrix(-9.94 -1.67 0 -40.11 185.5 284.3)" vector-effect="non-scaling-stroke"/>
<path d="M0.12 0.993A1 1 0 0 1 0 1" transform="matrix(-11.61 -1.26 0 -40.11 185.5 284.3)" vector-effect="non-scaling-stroke"/>
<path d="M0.19 0.982A1 1 0 0 1 0 1" transform="matrix(-12.79 -0.79 0 -40.11 185.5 284.3)" vector-effect="non-scaling-stroke"/>
<path d="M0.475 0.88A1 1 0 0 1 0 1" transform="matrix(-13.4 -0.29 0 -40.11 185.5 284.3)" vector-effect="non-scaling-stroke"/>
<path d="M0.544 -0.839A1 1 0 0 1 0 1" transform="matrix(-13.43 0.23 0 -40.11 185.5 284.3)" vector-effect="non-scaling-stroke"/>
<path d="M0.201 -0.98A1 1 0 0 1 0 1" transform="matrix(-12.87 0.74 0 -40.11 185.5 284.3)" vector-effect="non-scaling-stroke"/>
<path d="M0.124 -0.992A1 1 0 0 1 0 1" transform="matrix(-11.74 1.21 0 -40.11 185.5 284.3)" vector-effect="non-scaling-stroke"/>
<path d="M0.093 -0.996A1 1 0 0 1 0 1" transform="matrix(-10.11 1.63 0 -40.11 185.5 284.3)" vector-effect="non-scaling-stroke"/>
<path d="M0.077 -0.997A1 1 0 0 1 0 1" transform="matrix(-8.03 1.98 0 -40.11 185.5 284.3)" vector-effect="non-scaling-stroke"/>
<path d="M0.068 -0.998A1 1 0 0 1 0 1" transform="matrix(-5.6 2.25 0 -40.11 185.5 284.3)" vector-effect="non-scaling-stroke"/>
<path d="M0.063 -0.998A1 1 0 0 1 0 1" transform="matrix(-2.93 2.41 0 -40.11 185.5 284.3)" vector-effect="non-scaling-stroke"/>
<path d="M0.062 -0.998A1 1 0 0 1 0 1" transform="matrix(-0.13 2.47 0 -40.11 185.5 284.3)" vector-effect="non-scaling-stroke"/>
<path d="M0.063 -0.998A1 1 0 0 1 0 1" transform="matrix(2.68 2.42 0 -40.11 185.5 284.3)" vector-effect="non-scaling-stroke"/>
<path d="M0.067 -0.998A1 1 0 0 1 0 1" transform="matrix(5.37 2.27 0 -40.11 185.5 284.3)" vector-effect="non-scaling-stroke"/>
<path d="M0.075 -0.997A1 1 0 0 1 0 1" transform="matrix(7.82 2.02 0 -40.11 185.5 284.3)" vector-effect="non-scaling-stroke"/>
<path d="M0.091 -0.996A1 1 0 0 1 0 1" transform="matrix(9.94 1.67 0 -40.11 185.5 284.3)" vector-effect="non-scaling-stroke"/>
<path d="M0.12 -0.993A1 1 0 0 1 0 1" transform="matrix(11.61 1.26 0 -40.11 185.5 284.3)" vector-effect="non-scaling-stroke"/>
<path d="M0.19 -0.982A1 1 0 0 1 0 1" transform="matrix(12.79 0.79 0 -40.11 185.5 284.3)" vector-effect="non-scaling-stroke"/>
<path d="M0.475 -0.88A1 1 0 0 1 0 1" transform="matrix(13.4 0.29 0 -40.11 185.5 284.3)" vector-effect="non-scaling-stroke"/>
<path d="M0.544 0.839A1 1 0 0 1 0 1" transform="matrix(13.43 -0.23 0 -40.11 185.5 284.3)" vector-effect="non-scaling-stroke"/>
<path d="M0.201 0.98A1 1 0 0 1 0 1" transform="matrix(12.87 -0.74 0 -40.11 185.5 284.3)" vector-effect="non-scaling-stroke"/>
<path d="M0.124 0.992A1 1 0 0 1 0 1" transform="matrix(11.74 -1.21 0 -40.11 185.5 284.3)" vector-effect="non-scaling-stroke"/>
<path d="M0.093 0.996A1 1 0 0 1 0 1" transform="matrix(10.11 -1.63 0 -40.11 185.5 284.3)" vector-effect="non-scaling-stroke"/>
<path d="M0.077 0.997A1 1 0 0 1 0 1" transform="matrix(8.03 -1.98 0 -40.11 185.5 284.3)" vector-effect="non-scaling-stroke"/>
<path d="M0.068 0.998A1 1 0 0 1 0 1" transform="matrix(5.6 -2.25 0 -40.11 185.5 284.3)" vector-effect="non-scaling-stroke"/>
</g>
<circle r="1" transform="matrix(-13.49 0 0 40.18 185.5 284.3)" fill="none" stroke="#000" stroke-width="0.65" vector-effect="non-scaling-stroke"/>
</g>
<g>
<circle r="1" transform="matrix(-4.92 0 0 14.66 167.5 343.6)" fill="#ff0000" fill-opacity="1.0" stroke="none"/>
<g fill="none" stroke="#6a000c" stroke-width="0.5" vector-effect="non-scaling-stroke">
<path d="M-0.359 0.933A1 1 0 0 1 0.07 -0.998" transform="matrix(0.41 -0.34 -1.85 -0.08 167.5 357.11)" vector-effect="non-scaling-stroke"/>
<path d="M-0.312 0.95A1 1 0 0 1 0.121 -0.993" transform="matrix(0.57 -0.47 -2.56 -0.11 167.5 355.98)" vector-effect="non-scaling-stroke"/>
<path d="M-0.289 0.957A1 1 0 0 1 0.144 -0.99" transform="matrix(0.68 -0.56 -3.07 -0.13 167.5 354.86)" vector-effect="non-scaling-stroke"/>
<path d="M-0.275 0.962A1 1 0 0 1 0.159 -0.987" transform="matrix(0.77 -0.64 -3.47 -0.14 167.5 353.73)" vector-effect="non-scaling-stroke"/>
<path d="M-0.264 0.965A1 1 0 0 1 0.17 -0.985" transform="matrix(0.84 -0.69 -3.79 -0.16 167.5 352.61)" vector-effect="non-scaling-stroke"/>
<path d="M-0.256 0.967A1 1 0 0 1 0.179 -0.984" transform="matrix(0.9 -0.74 -4.05 -0.17 167.5 351.48)" vector-effect="non-scaling-stroke"/>
<path d="M-0.248 0.969A1 1 0 0 1 0.186 -0.983" transform="matrix(0.95 -0.78 -4.26 -0.17 167.5 350.35)" vector-effect="non-scaling-stroke"/>
<path d="M-0.242 0.97A1 1 0 0 1 0.192 -0.981" transform="matrix(0.99 -0.81 -4.43 -0.18 167.5 349.23)" vector-effect="non-scaling-stroke"/>
<path d="M-0.237 0.972A1 1 0 0 1 0.198 -0.98" transform="matrix(1.02 -0.84 -4.57 -0.19 167.5 348.1)" vector-effect="non-scaling-stroke"/>
<path d="M-0.232 0.973A1 1 0 0 1 0.203 -0.979" transform="matrix(1.04 -0.86 -4.67 -0.19 167.5 346.98)" vector-effect="non-scaling-stroke"/>
<path d="M-0.227 0.974A1 1 0 0 1 0.208 -0.978" transform="matrix(1.06 -0.87 -4.75 -0.19 167.5 345.85)" vector-effect="non-scaling-stroke"/>
<path d="M-0.222 0.975A1 1 0 0 1 0.213 -0.977" transform="matrix(1.07 -0.88 -4.79 -0.2 167.5 344.73)" vector-effect="non-scaling-stroke"/>
<path d="M-0.217 0.976A1 1 0 0 1 0.217 -0.976" transform="matrix(1.07 -0.88 -4.8 -0.2 167.5 343.6)" vector-effect="non-scaling-stroke"/>
<path d="M-0.213 0.977A1 1 0 1 1 0.222 -0.975" transform="matrix(1.07 -0.88 -4.79 -0.2 167.5 342.47)" vector-effect="non-scaling-stroke"/>
<path d="M-0.208 0.978A1 1 0 1 1 0.227 -0.974" transform="matrix(1.06 -0.87 -4.75 -0.19 167.5 341.35)" vector-effect="non-scaling-stroke"/>
<path d="M-0.203 0.979A1 1 0 1 1 0.232 -0.973" transform="matrix(1.04 -0.86 -4.67 -0.19 167.5 340.22)" vector-effect="non-scaling-stroke"/>
<path d="M-0.198 0.98A1 1 0 1 1 0.237 -0.972" transform="matrix(1.02 -0.84 -4.57 -0.19 167.5 339.1)" vector-effect="non-scaling-stroke"/>
<path d="M-0.192 0.981A1 1 0 1 1 0.242 -0.97" transform="matrix(0.99 -0.81 -4.43 -0.18 167.5 337.97)" vector-effect="non-scaling-stroke"/>
<path d="M-0.186 0.983A1 1 0 1 1 0.248 -0.969" transform="matrix(0.95 -0.78 -4.26 -0.17 167.5 336.85)" vector-effect="non-scaling-stroke"/>
<path d="M-0.179 0.984A1 1 0 1 1 0.256 -0.967" transform="matrix(0.9 -0.74 -4.05 -0.17 167.5 335.72)" vector-effect="non-scaling-stroke"/>
<path d="M-0.17 0.985A1 1 0 1 1 0.264 -0.965" transform="matrix(0.84 -0.69 -3.79 -0.16 167.5 334.59)" vector-effect="non-scaling-stroke"/>
<path d="M-0.159 0.987A1 1 0 1 1 0.275 -0.962" transform="matrix(0.77 -0.64 -3.47 -0.14 167.5 333.47)" vector-effect="non-scaling-stroke"/>
<path d="M-0.144 0.99A1 1 0 1 1 0.289 -0.957" transform="matrix(0.68 -0.56 -3.07 -0.13 167.5 332.34)" vector-effect="non-scaling-stroke"/>
<path d="M-0.121 0.993A1 1 0 1 1 0.312 -0.95" transform="matrix(0.57 -0.47 -2.56 -0.11 167.5 331.22)" vector-effect="non-scaling-stroke"/>
<path d="M-0.07 0.998A1 1 0 1 1 0.359 -0.933" transform="matrix(0.41 -0.34 -1.85 -0.08 167.5 330.09)" vector-effect="non-scaling-stroke"/>
<path d="M0.063 0.998A1 1 0 0 1 0 1" transform="matrix(1.07 -0.88 0 -14.63 167.5 343.6)" vector-effect="non-scaling-stroke"/>
<path d="M0.062 0.998A1 1 0 0 1 0 1" transform="matrix(-0.33 -0.9 0 -14.63 167.5 343.6)" vector-effect="non-scaling-stroke"/>
<path d="M0.066 0.998A1 1 0 0 1 0 1" transform="matrix(-1.7 -0.85 0 -14.63 167.5 343.6)" vector-effect="non-scaling-stroke"/>
<path d="M0.076 0.997A1 1 0 0 1 0 1" transform="matrix(-2.93 -0.73 0 -14.63 167.5 343.6)" vector-effect="non-scaling-stroke"/>
<path d="M0.102 0.995A1 1 0 0 1 0 1" transform="matrix(-3.93 -0.54 0 -14.63 167.5 343.6)" vector-effect="non-scaling-stroke"/>
<path d="M0.172 0.985A1 1 0 0 1 0 1" transform="matrix(-4.6 -0.32 0 -14.63 167.5 343.6)" vector-effect="non-scaling-stroke"/>
<path d="M0.629 0.777A1 1 0 0 1 0 1" transform="matrix(-4.91 -0.07 0 -14.63 167.5 343.6)" vector-effect="non-scaling-stroke"/>
<path d="M0.284 -0.959A1 1 0 0 1 0 1" transform="matrix(-4.81 0.19 0 -14.63 167.5 343.6)" vector-effect="non-scaling-stroke"/>
<path d="M0.129 -0.992A1 1 0 0 1 0 1" transform="matrix(-4.33 0.43 0 -14.63 167.5 343.6)" vector-effect="non-scaling-stroke"/>
<path d="M0.087 -0.996A1 1 0 0 1 0 1" transform="matrix(-3.5 0.63 0 -14.63 167.5 343.6)" vector-effect="non-scaling-stroke"/>
<path d="M0.07 -0.998A1 1 0 0 1 0 1" transform="matrix(-2.38 0.79 0 -14.63 167.5 343.6)" vector-effect="non-scaling-stroke"/>
<path d="M0.063 -0.998A1 1 0 0 1 0 1" transform="matrix(-1.07 0.88 0 -14.63 167.5 343.6)" vector-effect="non-scaling-stroke"/>
<path d="M0.062 -0.998A1 1 0 0 1 0 1" transform="matrix(0.33 0.9 0 -14.63 167.5 343.6)" vector-effect="non-scaling-stroke"/>
<path d="M0.066 -0.998A1 1 0 0 1 0 1" transform="matrix(1.7 0.85 0 -14.63 167.5 343.6)" vector-effect="non-scaling-stroke"/>
<path d="M0.076 -0.997A1 1 0 0 1 0 1" transform="matrix(2.93 0.73 0 -14.63 167.5 343.6)" vector-effect="non-scaling-stroke"/>
<path d="M0.102 -0.995A1 1 0 0 1 0 1" transform="matrix(3.93 0.54 0 -14.63 167.5 343.6)" vector-effect="non-scaling-stroke"/>
<path d="M0.172 -0.985A1 1 0 0 1 0 1" transform="matrix(4.6 0.32 0 -14.63 167.5 343.6)" vector-effect="non-scaling-stroke"/>
<path d="M0.629 -0.777A1 1 0 0 1 0 1" transform="matrix(4.91 0.07 0 -14.63 167.5 343.6)" vector-effect="non-scaling-stroke"/>
<path d="M0.284 0.959A1 1 0 0 1 0 1" transform="matrix(4.81 -0.19 0 -14.63 167.5 343.6)" vector-effect="non-scaling-stroke"/>
<path d="M0.129 0.992A1 1 0 0 1 0 1" transform="matrix(4.33 -0.43 0 -14.63 167.5 343.6)" vector-effect="non-scaling-stroke"/>
<path d="M0.087 0.996A1 1 0 0 1 0 1" transform="matrix(3.5 -0.63 0 -14.63 167.5 343.6)" vector-effect="non-scaling-stroke"/>
<path d="M0.07 0.998A1 1 0 0 1 0 1" transform="matrix(2.38 -0.79 0 -14.63 167.5 343.6)" vector-effect="non-scaling-stroke"/>
</g>
<circle r="1" transform="matrix(-4.92 0 0 14.66 167.5 343.6)" fill="none" stroke="#000" stroke-width="0.65" vector-effect="non-scaling-stroke"/>
</g>
<g>
<circle r="1" transform="matrix(-4.92 0 0 14.66 172.7 362)" fill="#ff0000" fill-opacity="1.0" stroke="none"/>
<g fill="none" stroke="#6a000c" stroke-width="0.5" vector-effect="non-scaling-stroke">
<path d="M-0.359 0.933A1 1 0 0 1 0.07 -0.998" transform="matrix(0.41 -0.34 -1.85 -0.08 172.7 375.51)" vector-effect="non-scaling-stroke"/>
<path d="M-0.312 0.95A1 1 0 0 1 0.121 -0.993" transform="matrix(0.57 -0.47 -2.56 -0.11 172.7 374.38)" vector-effect="non-scaling-stroke"/>
<path d="M-0.289 0.957A1 1 0 0 1 0.144 -0.99" transform="matrix(0.68 -0.56 -3.07 -0.13 172.7 373.26)" vector-effect="non-scaling-stroke"/>
<path d="M-0.275 0.962A1 1 0 0 1 0.159 -0.987" transform="matrix(0.77 -0.64 -3.47 -0.14 172.7 372.13)" vector-effect="non-scaling-stroke"/>
<path d="M-0.264 0.965A1 1 0 0 1 0.17 -0.985" transform="matrix(0.84 -0.69 -3.79 -0.16 172.7 371.01)" vector-effect="non-scaling-stroke"/>
<path d="M-0.256 0.967A1 1 0 0 1 0.179 -0.984" transform="matrix(0.9 -0.74 -4.05 -0.17 172.7 369.88)" vector-effect="non-scaling-stroke"/>
<path d="M-0.248 0.969A1 1 0 0 1 0.186 -0.983" transform="matrix(0.95 -0.78 -4.26 -0.17 172.7 368.75)" vector-effect="non-scaling-stroke"/>
<path d="M-0.242 0.97A1 1 0 0 1 0.192 -0.981" transform="matrix(0.99 -0.81 -4.43 -0.18 172.7 367.63)" vector-effect="non-scaling-stroke"/>
<path d="M-0.237 0.972A1 1 0 0 1 0.198 -0.98" transform="matrix(1.02 -0.84 -4.57 -0.19 172.7 366.5)" vector-effect="non-scaling-stroke"/>
<path d="M-0.232 0.973A1 1 0 0 1 0.203 -0.979" transform="matrix(1.04 -0.86 -4.67 -0.19 172.7 365.38)" vector-effect="non-scaling-stroke"/>
<path d="M-0.227 0.974A1 1 0 0 1 0.208 -0.978" transform="matrix(1.06 -0.87 -4.75 -0.19 172.7 364.25)" vector-effect="non-scaling-stroke"/>
<path d="M-0.222 0.975A1 1 0 0 1 0.213 -0.977" transform="matrix(1.07 -0.88 -4.79 -0.2 172.7 363.13)" vector-effect="non-scaling-stroke"/>
<path d="M-0.217 0.976A1 1 0 0 1 0.217 -0.976" transform="matrix(1.07 -0.88 -4.8 -0.2 172.7 362)" vector-effect="non-scaling-stroke"/>
<path d="M-0.213 0.977A1 1 0 1 1 0.222 -0.975" transform="matrix(1.07 -0.88 -4.79 -0.2 172.7 360.87)" vector-effect="non-scaling-stroke"/>
<path d="M-0.208 0.978A1 1 0 1 1 0.227 -0.974" transform="matrix(1.06 -0.87 -4.75 -0.19 172.7 359.75)" vector-effect="non-scaling-stroke"/>
<path d="M-0.203 0.979A1 1 0 1 1 0.232 -0.973" transform="matrix(1.04 -0.86 -4.67 -0.19 172.7 358.62)" vector-effect="non-scaling-stroke"/>
<path d="M-0.198 0.98A1 1 0 1 1 0.237 -0.972" transform="matrix(1.02 -0.84 -4.57 -0.19 172.7 357.5)" vector-effect="non-scaling-stroke"/>
<path d="M-0.192 0.981A1 1 0 1 1 0.242 -0.97" transform="matrix(0.99 -0.81 -4.43 -0.18 172.7 356.37)" vector-effect="non-scaling-stroke"/>
<path d="M-0.186 0.983A1 1 0 1 1 0.248 -0.969" transform="matrix(0.95 -0.78 -4.26 -0.17 172.7 355.25)" vector-effect="non-scaling-stroke"/>
<path d="M-0.179 0.984A1 1 0 1 1 0.256 -0.967" transform="matrix(0.9 -0.74 -4.05 -0.17 172.7 354.12)" vector-effect="non-scaling-stroke"/>
<path d="M-0.17 0.985A1 1 0 1 1 0.264 -0.965" transform="matrix(0.84 -0.69 -3.79 -0.16 172.7 352.99)" vector-effect="non-scaling-stroke"/>
<path d="M-0.159 0.987A1 1 0 1 1 0.275 -0.962" transform="matrix(0.77 -0.64 -3.47 -0.14 172.7 351.87)" vector-effect="non-scaling-stroke"/>
<path d="M-0.144 0.99A1 1 0 1 1 0.289 -0.957" transform="matrix(0.68 -0.56 -3.07 -0.13 172.7 350.74)" vector-effect="non-scaling-stroke"/>
<path d="M-0.121 0.993A1 1 0 1 1 0.312 -0.95" transform="matrix(0.57 -0.47 -2.56 -0.11 172.7 349.62)" vector-effect="non-scaling-stroke"/>
<path d="M-0.07 0.998A1 1 0 1 1 0.359 -0.933" transform="matrix(0.41 -0.34 -1.85 -0.08 172.7 348.49)" vector-effect="non-scaling-stroke"/>
<path d="M0.063 0.998A1 1 0 0 1 0 1" transform="matrix(1.07 -0.88 0 -14.63 172.7 362)" vector-effect="non-scaling-stroke"/>
<path d="M0.062 0.998A1 1 0 0 1 0 1" transform="matrix(-0.33 -0.9 0 -14.63 172.7 362)" vector-effect="non-scaling-stroke"/>
<path d="M0.066 0.998A1 1 0 0 1 0 1" transform="matrix(-1.7 -0.85 0 -14.63 172.7 362)" vector-effect="non-scaling-stroke"/>
<path d="M0.076 0.997A1 1 0 0 1 0 1" transform="matrix(-2.93 -0.73 0 -14.63 172.7 362)" vector-effect="non-scaling-stroke"/>
<path d="M0.102 0.995A1 1 0 0 1 0 1" transform="matrix(-3.93 -0.54 0 -14.63 172.7 362)" vector-effect="non-scaling-stroke"/>
<path d="M0.172 0.985A1 1 0 0 1 0 1" transform="matrix(-4.6 -0.32 0 -14.63 172.7 362)" vector-effect="non-scaling-stroke"/>
<path d="M0.629 0.777A1 1 0 0 1 0 1" transform="matrix(-4.91 -0.07 0 -14.63 172.7 362)" vector-effect="non-scaling-stroke"/>
<path d="M0.284 -0.959A1 1 0 0 1 0 1" transform="matrix(-4.81 0.19 0 -14.63 172.7 362)" vector-effect="non-scaling-stroke"/>
<path d="M0.129 -0.992A1 1 0 0 1 0 1" transform="matrix(-4.33 0.43 0 -14.63 172.7 362)" vector-effect="non-scaling-stroke"/>
<path d="M0.087 -0.996A1 1 0 0 1 0 1" transform="matrix(-3.5 0.63 0 -14.63 172.7 362)" vector-effect="non-scaling-stroke"/>
<path d="M0.07 -0.998A1 1 0 0 1 0 1" transform="matrix(-2.38 0.79 0 -14.63 172.7 362)" vector-effect="non-scaling-stroke"/>
<path d="M0.063 -0.998A1 1 0 0 1 0 1" transform="matrix(-1.07 0.88 0 -14.63 172.7 362)" vector-effect="non-scaling-stroke"/>
<path d="M0.062 -0.998A1 1 0 0 1 0 1" transform="matrix(0.33 0.9 0 -14.63 172.7 362)" vector-effect="non-scaling-stroke"/>
<path d="M0.066 -0.998A1 1 0 0 1 0 1" transform="matrix(1.7 0.85 0 -14.63 172.7 362)" vector-effect="non-scaling-stroke"/>
<path d="M0.076 -0.997A1 1 0 0 1 0 1" transform="matrix(2.93 0.73 0 -14.63 172.7 362)" vector-effect="non-scaling-stroke"/>
<path d="M0.102 -0.995A1 1 0 0 1 0 1" transform="matrix(3.93 0.54 0 -14.63 172.7 362)" vector-effect="non-scaling-stroke"/>
<path d="M0.172 -0.985A1 1 0 0 1 0 1" transform="matrix(4.6 0.32 0 -14.63 172.7 362)" vector-effect="non-scaling-stroke"/>
<path d="M0.629 -0.777A1 1 0 0 1 0 1" transform="matrix(4.91 0.07 0 -14.63 172.7 362)" vector-effect="non-scaling-stroke"/>
<path d="M0.284 0.959A1 1 0 0 1 0 1" transform="matrix(4.81 -0.19 0 -14.63 172.7 362)" vector-effect="non-scaling-stroke"/>
<path d="M0.129 0.992A1 1 0 0 1 0 1" transform="matrix(4.33 -0.43 0 -14.63 172.7 362)" vector-effect="non-scaling-stroke"/>
<path d="M0.087 0.996A1 1 0 0 1 0 1" transform="matrix(3.5 -0.63 0 -14.63 172.7 362)" vector-effect="non-scaling-stroke"/>
<path d="M0.07 0.998A1 1 0 0 1 0 1" transform="matrix(2.38 -0.79 0 -14.63 172.7 362)" vector-effect="non-scaling-stroke"/>
</g>
<circle r="1" transform="matrix(-4.92 0 0 14.66 172.7 362)" fill="none" stroke="#000" stroke-width="0.65" vector-effect="non-scaling-stroke"/>
</g>
<path d="M68.7 241.7 C70.58 242.05 75.03 243.17 80 243.8 C84.97 244.43 93.17 244.87 98.5 245.5 C103.83 246.13 107.58 246.92 112 247.6 C116.42 248.28 121.17 248.83 125 249.6 C128.83 250.37 130.83 249.13 135 252.2 C139.17 255.27 143.77 260.62 150 268 C156.23 275.38 166.45 288.17 172.4 296.5 C178.35 304.83 180.1 311.2 185.7 318 C191.3 324.8 202.62 334.08 206 337.3" fill="none" stroke="#A2142F" stroke-width="1.35" stroke-linejoin="round" stroke-linecap="round" />
<path d="M68.7 241.7 C69.94 241.87 74.8 242.49 78 243 C81.2 243.51 89.1 244.7 92.7 245.5 C96.3 246.3 101.89 248.03 105 249 C108.11 249.97 114 251.07 116 252.8 C118 254.53 119.03 259.48 120 262 C120.97 264.52 121.3 269.57 123.3 271.7 C125.3 273.83 131.71 276.25 135 278 C138.29 279.75 145.47 282.53 148 284.8 C150.53 287.07 152.45 292.28 154 295 C155.55 297.72 158.2 303.07 159.6 305.2 C161 307.33 163.22 308.95 164.5 311 C165.78 313.05 168.15 318.44 169.2 320.6 C170.25 322.76 171.27 325.96 172.4 327.2 C173.53 328.44 176.46 328.3 177.7 329.9 C178.94 331.5 180.35 338.49 181.7 339.2 C183.05 339.91 186.39 335.73 187.8 335.2 C189.21 334.67 191.34 335.8 192.3 335.2 C193.26 334.6 194.04 331.06 195 330.7 C195.96 330.34 198.03 331.62 199.5 332.5 C200.97 333.38 205.13 336.66 206 337.3" fill="none" stroke="#4DBEEE" stroke-width="1.35" stroke-linejoin="round" stroke-linecap="round" />
<circle cx="68.7" cy="241.7" r="2.5" fill="#e514e5" stroke="#c000c0" stroke-width="0.4"/>
<circle cx="206" cy="337.3" r="2.5" fill="#22e6e6" stroke="#00b8c8" stroke-width="0.4"/>
<text x="208.5" y="340" font-size="6.4" text-anchor="start" font-weight="bold" fill="#0a0a0a" stroke="#0a0a0a" stroke-width="0.22" >UAV</text>
<text x="88.6" y="268.2" font-size="6.4" text-anchor="middle" font-weight="bold" fill="#0a0a0a" stroke="#0a0a0a" stroke-width="0.22" >9</text>
<text x="91.6" y="284" font-size="6.4" text-anchor="middle" font-weight="bold" fill="#0a0a0a" stroke="#0a0a0a" stroke-width="0.22" >0</text>
<text x="77.6" y="233.1" font-size="6.4" text-anchor="middle" font-weight="bold" fill="#0a0a0a" stroke="#0a0a0a" stroke-width="0.22" >8</text>
<text x="110" y="224.9" font-size="6.4" text-anchor="middle" font-weight="bold" fill="#0a0a0a" stroke="#0a0a0a" stroke-width="0.22" >7</text>
<text x="176" y="239.7" font-size="6.4" text-anchor="middle" font-weight="bold" fill="#0a0a0a" stroke="#0a0a0a" stroke-width="0.22" >3</text>
<text x="72.4" y="310.3" font-size="6.4" text-anchor="middle" font-weight="bold" fill="#0a0a0a" stroke="#0a0a0a" stroke-width="0.22" >11</text>
<text x="135.5" y="272.6" font-size="6.4" text-anchor="middle" font-weight="bold" fill="#0a0a0a" stroke="#0a0a0a" stroke-width="0.22" >5</text>
<text x="117.5" y="326.2" font-size="6.4" text-anchor="middle" font-weight="bold" fill="#0a0a0a" stroke="#0a0a0a" stroke-width="0.22" >6</text>
<text x="141.6" y="324.1" font-size="6.4" text-anchor="middle" font-weight="bold" fill="#0a0a0a" stroke="#0a0a0a" stroke-width="0.22" >4</text>
<text x="164.6" y="329.1" font-size="6.4" text-anchor="middle" font-weight="bold" fill="#0a0a0a" stroke="#0a0a0a" stroke-width="0.22" >1</text>
<line x1="205" y1="229.5" x2="223.3" y2="229.5" stroke="#4DBEEE" stroke-width="1.35" />
<text x="225.3" y="231.7" font-size="6" text-anchor="start" font-weight="bold" fill="#0a0a0a" stroke="#0a0a0a" stroke-width="0.21" >PDQN</text>
<line x1="205" y1="237.4" x2="223.3" y2="237.4" stroke="#A2142F" stroke-width="1.35" />
<text x="225.3" y="239.6" font-size="6" text-anchor="start" font-weight="bold" fill="#0a0a0a" stroke="#0a0a0a" stroke-width="0.21" >MSAO2H</text>
<text class="cap" transform="translate(135.7 427) scale(1.06 1)" font-size="12" text-anchor="middle" fill="#111">(<tspan font-weight="bold">c</tspan>)</text>
<line x1="322.7" y1="389.5" x2="322.7" y2="222.5" stroke="#e4e4e4" stroke-width="0.5" />
<line x1="298.5" y1="372.8" x2="540.5" y2="372.8" stroke="#e4e4e4" stroke-width="0.5" />
<line x1="346.9" y1="389.5" x2="346.9" y2="222.5" stroke="#e4e4e4" stroke-width="0.5" />
<line x1="298.5" y1="356.1" x2="540.5" y2="356.1" stroke="#e4e4e4" stroke-width="0.5" />
<line x1="371.1" y1="389.5" x2="371.1" y2="222.5" stroke="#e4e4e4" stroke-width="0.5" />
<line x1="298.5" y1="339.4" x2="540.5" y2="339.4" stroke="#e4e4e4" stroke-width="0.5" />
<line x1="395.3" y1="389.5" x2="395.3" y2="222.5" stroke="#e4e4e4" stroke-width="0.5" />
<line x1="298.5" y1="322.7" x2="540.5" y2="322.7" stroke="#e4e4e4" stroke-width="0.5" />
<line x1="419.5" y1="389.5" x2="419.5" y2="222.5" stroke="#e4e4e4" stroke-width="0.5" />
<line x1="298.5" y1="306" x2="540.5" y2="306" stroke="#e4e4e4" stroke-width="0.5" />
<line x1="443.7" y1="389.5" x2="443.7" y2="222.5" stroke="#e4e4e4" stroke-width="0.5" />
<line x1="298.5" y1="289.3" x2="540.5" y2="289.3" stroke="#e4e4e4" stroke-width="0.5" />
<line x1="467.9" y1="389.5" x2="467.9" y2="222.5" stroke="#e4e4e4" stroke-width="0.5" />
<line x1="298.5" y1="272.6" x2="540.5" y2="272.6" stroke="#e4e4e4" stroke-width="0.5" />
<line x1="492.1" y1="389.5" x2="492.1" y2="222.5" stroke="#e4e4e4" stroke-width="0.5" />
<line x1="298.5" y1="255.9" x2="540.5" y2="255.9" stroke="#e4e4e4" stroke-width="0.5" />
<line x1="516.3" y1="389.5" x2="516.3" y2="222.5" stroke="#e4e4e4" stroke-width="0.5" />
<line x1="298.5" y1="239.2" x2="540.5" y2="239.2" stroke="#e4e4e4" stroke-width="0.5" />
<line x1="540.5" y1="389.5" x2="540.5" y2="222.5" stroke="#e4e4e4" stroke-width="0.5" />
<line x1="298.5" y1="222.5" x2="540.5" y2="222.5" stroke="#e4e4e4" stroke-width="0.5" />
<line x1="298.5" y1="389.5" x2="540.5" y2="389.5" stroke="#333" stroke-width="0.7" />
<line x1="298.5" y1="389.5" x2="298.5" y2="222.5" stroke="#333" stroke-width="0.7" />
<line x1="298.5" y1="389.5" x2="298.5" y2="388.5" stroke="#333" stroke-width="0.4" />
<line x1="298.5" y1="389.5" x2="299.5" y2="389.5" stroke="#333" stroke-width="0.4" />
<line x1="322.7" y1="389.5" x2="322.7" y2="388.5" stroke="#333" stroke-width="0.4" />
<line x1="298.5" y1="372.8" x2="299.5" y2="372.8" stroke="#333" stroke-width="0.4" />
<line x1="346.9" y1="389.5" x2="346.9" y2="388.5" stroke="#333" stroke-width="0.4" />
<line x1="298.5" y1="356.1" x2="299.5" y2="356.1" stroke="#333" stroke-width="0.4" />
<line x1="371.1" y1="389.5" x2="371.1" y2="388.5" stroke="#333" stroke-width="0.4" />
<line x1="298.5" y1="339.4" x2="299.5" y2="339.4" stroke="#333" stroke-width="0.4" />
<line x1="395.3" y1="389.5" x2="395.3" y2="388.5" stroke="#333" stroke-width="0.4" />
<line x1="298.5" y1="322.7" x2="299.5" y2="322.7" stroke="#333" stroke-width="0.4" />
<line x1="419.5" y1="389.5" x2="419.5" y2="388.5" stroke="#333" stroke-width="0.4" />
<line x1="298.5" y1="306" x2="299.5" y2="306" stroke="#333" stroke-width="0.4" />
<line x1="443.7" y1="389.5" x2="443.7" y2="388.5" stroke="#333" stroke-width="0.4" />
<line x1="298.5" y1="289.3" x2="299.5" y2="289.3" stroke="#333" stroke-width="0.4" />
<line x1="467.9" y1="389.5" x2="467.9" y2="388.5" stroke="#333" stroke-width="0.4" />
<line x1="298.5" y1="272.6" x2="299.5" y2="272.6" stroke="#333" stroke-width="0.4" />
<line x1="492.1" y1="389.5" x2="492.1" y2="388.5" stroke="#333" stroke-width="0.4" />
<line x1="298.5" y1="255.9" x2="299.5" y2="255.9" stroke="#333" stroke-width="0.4" />
<line x1="516.3" y1="389.5" x2="516.3" y2="388.5" stroke="#333" stroke-width="0.4" />
<line x1="298.5" y1="239.2" x2="299.5" y2="239.2" stroke="#333" stroke-width="0.4" />
<line x1="540.5" y1="389.5" x2="540.5" y2="388.5" stroke="#333" stroke-width="0.4" />
<line x1="298.5" y1="222.5" x2="299.5" y2="222.5" stroke="#333" stroke-width="0.4" />
<text x="298.5" y="395.8" font-size="4.2" text-anchor="middle" font-weight="bold" fill="#0a0a0a" stroke="#0a0a0a" stroke-width="0.15" >0</text>
<text x="296.3" y="391" font-size="4.2" text-anchor="end" font-weight="bold" fill="#0a0a0a" stroke="#0a0a0a" stroke-width="0.15" >0</text>
<text x="322.7" y="395.8" font-size="4.2" text-anchor="middle" font-weight="bold" fill="#0a0a0a" stroke="#0a0a0a" stroke-width="0.15" >1</text>
<text x="296.3" y="374.3" font-size="4.2" text-anchor="end" font-weight="bold" fill="#0a0a0a" stroke="#0a0a0a" stroke-width="0.15" >1</text>
<text x="346.9" y="395.8" font-size="4.2" text-anchor="middle" font-weight="bold" fill="#0a0a0a" stroke="#0a0a0a" stroke-width="0.15" >2</text>
<text x="296.3" y="357.6" font-size="4.2" text-anchor="end" font-weight="bold" fill="#0a0a0a" stroke="#0a0a0a" stroke-width="0.15" >2</text>
<text x="371.1" y="395.8" font-size="4.2" text-anchor="middle" font-weight="bold" fill="#0a0a0a" stroke="#0a0a0a" stroke-width="0.15" >3</text>
<text x="296.3" y="340.9" font-size="4.2" text-anchor="end" font-weight="bold" fill="#0a0a0a" stroke="#0a0a0a" stroke-width="0.15" >3</text>
<text x="395.3" y="395.8" font-size="4.2" text-anchor="middle" font-weight="bold" fill="#0a0a0a" stroke="#0a0a0a" stroke-width="0.15" >4</text>
<text x="296.3" y="324.2" font-size="4.2" text-anchor="end" font-weight="bold" fill="#0a0a0a" stroke="#0a0a0a" stroke-width="0.15" >4</text>
<text x="419.5" y="395.8" font-size="4.2" text-anchor="middle" font-weight="bold" fill="#0a0a0a" stroke="#0a0a0a" stroke-width="0.15" >5</text>
<text x="296.3" y="307.5" font-size="4.2" text-anchor="end" font-weight="bold" fill="#0a0a0a" stroke="#0a0a0a" stroke-width="0.15" >5</text>
<text x="443.7" y="395.8" font-size="4.2" text-anchor="middle" font-weight="bold" fill="#0a0a0a" stroke="#0a0a0a" stroke-width="0.15" >6</text>
<text x="296.3" y="290.8" font-size="4.2" text-anchor="end" font-weight="bold" fill="#0a0a0a" stroke="#0a0a0a" stroke-width="0.15" >6</text>
<text x="467.9" y="395.8" font-size="4.2" text-anchor="middle" font-weight="bold" fill="#0a0a0a" stroke="#0a0a0a" stroke-width="0.15" >7</text>
<text x="296.3" y="274.1" font-size="4.2" text-anchor="end" font-weight="bold" fill="#0a0a0a" stroke="#0a0a0a" stroke-width="0.15" >7</text>
<text x="492.1" y="395.8" font-size="4.2" text-anchor="middle" font-weight="bold" fill="#0a0a0a" stroke="#0a0a0a" stroke-width="0.15" >8</text>
<text x="296.3" y="257.4" font-size="4.2" text-anchor="end" font-weight="bold" fill="#0a0a0a" stroke="#0a0a0a" stroke-width="0.15" >8</text>
<text x="516.3" y="395.8" font-size="4.2" text-anchor="middle" font-weight="bold" fill="#0a0a0a" stroke="#0a0a0a" stroke-width="0.15" >9</text>
<text x="296.3" y="240.7" font-size="4.2" text-anchor="end" font-weight="bold" fill="#0a0a0a" stroke="#0a0a0a" stroke-width="0.15" >9</text>
<text x="540.5" y="395.8" font-size="4.2" text-anchor="middle" font-weight="bold" fill="#0a0a0a" stroke="#0a0a0a" stroke-width="0.15" >10</text>
<text x="296.3" y="224" font-size="4.2" text-anchor="end" font-weight="bold" fill="#0a0a0a" stroke="#0a0a0a" stroke-width="0.15" >10</text>
<text x="299.7" y="221.6" font-size="5.2" text-anchor="start" font-weight="bold" fill="#1a1a1a">×10<tspan dy="-2.08" font-size="3.9">4</tspan></text>
<text x="529.3" y="404" font-size="5.0" text-anchor="start" font-weight="bold" fill="#1a1a1a">×10<tspan dy="-2" font-size="3.75">4</tspan></text>
<text x="420" y="402.5" font-size="4.2" text-anchor="middle" font-weight="bold" fill="#0a0a0a" stroke="#0a0a0a" stroke-width="0.15" >X</text>
<text x="0" y="0" font-size="4.2" text-anchor="middle" font-weight="bold" fill="#0a0a0a" stroke="#0a0a0a" stroke-width="0.15" transform="translate(288.5,305.4) rotate(-90)">Y</text>
<g transform="matrix(15.25 0 0 10.52 375.94 276.11)">
<circle r="1" fill="#ff0000" fill-opacity="1.0"/>
<g fill="none" stroke="#5a0008" stroke-width="0.42">
<circle r="0.392" stroke-width="0.21" vector-effect="non-scaling-stroke"/>
<circle r="0.543" stroke-width="0.21" vector-effect="non-scaling-stroke"/>
<circle r="0.65" stroke-width="0.21" vector-effect="non-scaling-stroke"/>
<circle r="0.733" stroke-width="0.21" vector-effect="non-scaling-stroke"/>
<circle r="0.8" stroke-width="0.21" vector-effect="non-scaling-stroke"/>
<circle r="0.854" stroke-width="0.21" vector-effect="non-scaling-stroke"/>
<circle r="0.898" stroke-width="0.21" vector-effect="non-scaling-stroke"/>
<circle r="0.933" stroke-width="0.21" vector-effect="non-scaling-stroke"/>
<circle r="0.96" stroke-width="0.21" vector-effect="non-scaling-stroke"/>
<circle r="0.98" stroke-width="0.21" vector-effect="non-scaling-stroke"/>
<circle r="0.993" stroke-width="0.21" vector-effect="non-scaling-stroke"/>
<circle r="0.999" stroke-width="0.21" vector-effect="non-scaling-stroke"/>
<path d="M-1 0L1 0M-0.975 -0.223L0.975 0.223M-0.901 -0.434L0.901 0.434M-0.782 -0.623L0.782 0.623M-0.623 -0.782L0.623 0.782M-0.434 -0.901L0.434 0.901M-0.223 -0.975L0.223 0.975M0 -1L0 1M0.223 -0.975L-0.223 0.975M0.434 -0.901L-0.434 0.901M0.623 -0.782L-0.623 0.782M0.782 -0.623L-0.782 0.623M0.901 -0.434L-0.901 0.434M0.975 -0.223L-0.975 0.223" vector-effect="non-scaling-stroke"/>
</g>
<circle r="0.13" fill="#140000"/>
<circle r="1" fill="none" stroke="#000" stroke-width="0.75" vector-effect="non-scaling-stroke"/>
</g>
<g transform="matrix(6.53 0 0 4.51 321.97 353.34)">
<circle r="1" fill="#ff0000" fill-opacity="1.0"/>
<g fill="none" stroke="#5a0008" stroke-width="0.62">
<circle r="0.392" stroke-width="0.31" vector-effect="non-scaling-stroke"/>
<circle r="0.543" stroke-width="0.31" vector-effect="non-scaling-stroke"/>
<circle r="0.65" stroke-width="0.31" vector-effect="non-scaling-stroke"/>
<circle r="0.733" stroke-width="0.31" vector-effect="non-scaling-stroke"/>
<circle r="0.8" stroke-width="0.31" vector-effect="non-scaling-stroke"/>
<circle r="0.854" stroke-width="0.31" vector-effect="non-scaling-stroke"/>
<circle r="0.898" stroke-width="0.31" vector-effect="non-scaling-stroke"/>
<circle r="0.933" stroke-width="0.31" vector-effect="non-scaling-stroke"/>
<circle r="0.96" stroke-width="0.31" vector-effect="non-scaling-stroke"/>
<circle r="0.98" stroke-width="0.31" vector-effect="non-scaling-stroke"/>
<circle r="0.993" stroke-width="0.31" vector-effect="non-scaling-stroke"/>
<circle r="0.999" stroke-width="0.31" vector-effect="non-scaling-stroke"/>
<path d="M-1 0L1 0M-0.975 -0.223L0.975 0.223M-0.901 -0.434L0.901 0.434M-0.782 -0.623L0.782 0.623M-0.623 -0.782L0.623 0.782M-0.434 -0.901L0.434 0.901M-0.223 -0.975L0.223 0.975M0 -1L0 1M0.223 -0.975L-0.223 0.975M0.434 -0.901L-0.434 0.901M0.623 -0.782L-0.623 0.782M0.782 -0.623L-0.782 0.623M0.901 -0.434L-0.901 0.434M0.975 -0.223L-0.975 0.223" vector-effect="non-scaling-stroke"/>
</g>
<circle r="0.13" fill="#140000"/>
<circle r="1" fill="none" stroke="#000" stroke-width="0.75" vector-effect="non-scaling-stroke"/>
</g>
<g transform="matrix(6.53 0 0 4.51 331.9 347.08)">
<circle r="1" fill="#ff0000" fill-opacity="1.0"/>
<g fill="none" stroke="#5a0008" stroke-width="0.62">
<circle r="0.392" stroke-width="0.31" vector-effect="non-scaling-stroke"/>
<circle r="0.543" stroke-width="0.31" vector-effect="non-scaling-stroke"/>
<circle r="0.65" stroke-width="0.31" vector-effect="non-scaling-stroke"/>
<circle r="0.733" stroke-width="0.31" vector-effect="non-scaling-stroke"/>
<circle r="0.8" stroke-width="0.31" vector-effect="non-scaling-stroke"/>
<circle r="0.854" stroke-width="0.31" vector-effect="non-scaling-stroke"/>
<circle r="0.898" stroke-width="0.31" vector-effect="non-scaling-stroke"/>
<circle r="0.933" stroke-width="0.31" vector-effect="non-scaling-stroke"/>
<circle r="0.96" stroke-width="0.31" vector-effect="non-scaling-stroke"/>
<circle r="0.98" stroke-width="0.31" vector-effect="non-scaling-stroke"/>
<circle r="0.993" stroke-width="0.31" vector-effect="non-scaling-stroke"/>
<circle r="0.999" stroke-width="0.31" vector-effect="non-scaling-stroke"/>
<path d="M-1 0L1 0M-0.975 -0.223L0.975 0.223M-0.901 -0.434L0.901 0.434M-0.782 -0.623L0.782 0.623M-0.623 -0.782L0.623 0.782M-0.434 -0.901L0.434 0.901M-0.223 -0.975L0.223 0.975M0 -1L0 1M0.223 -0.975L-0.223 0.975M0.434 -0.901L-0.434 0.901M0.623 -0.782L-0.623 0.782M0.782 -0.623L-0.782 0.623M0.901 -0.434L-0.901 0.434M0.975 -0.223L-0.975 0.223" vector-effect="non-scaling-stroke"/>
</g>
<circle r="0.13" fill="#140000"/>
<circle r="1" fill="none" stroke="#000" stroke-width="0.75" vector-effect="non-scaling-stroke"/>
</g>
<g transform="matrix(17.91 0 0 12.36 348.96 361.53)">
<circle r="1" fill="#ff0000" fill-opacity="1.0"/>
<g fill="none" stroke="#5a0008" stroke-width="0.42">
<circle r="0.392" stroke-width="0.21" vector-effect="non-scaling-stroke"/>
<circle r="0.543" stroke-width="0.21" vector-effect="non-scaling-stroke"/>
<circle r="0.65" stroke-width="0.21" vector-effect="non-scaling-stroke"/>
<circle r="0.733" stroke-width="0.21" vector-effect="non-scaling-stroke"/>
<circle r="0.8" stroke-width="0.21" vector-effect="non-scaling-stroke"/>
<circle r="0.854" stroke-width="0.21" vector-effect="non-scaling-stroke"/>
<circle r="0.898" stroke-width="0.21" vector-effect="non-scaling-stroke"/>
<circle r="0.933" stroke-width="0.21" vector-effect="non-scaling-stroke"/>
<circle r="0.96" stroke-width="0.21" vector-effect="non-scaling-stroke"/>
<circle r="0.98" stroke-width="0.21" vector-effect="non-scaling-stroke"/>
<circle r="0.993" stroke-width="0.21" vector-effect="non-scaling-stroke"/>
<circle r="0.999" stroke-width="0.21" vector-effect="non-scaling-stroke"/>
<path d="M-1 0L1 0M-0.975 -0.223L0.975 0.223M-0.901 -0.434L0.901 0.434M-0.782 -0.623L0.782 0.623M-0.623 -0.782L0.623 0.782M-0.434 -0.901L0.434 0.901M-0.223 -0.975L0.223 0.975M0 -1L0 1M0.223 -0.975L-0.223 0.975M0.434 -0.901L-0.434 0.901M0.623 -0.782L-0.623 0.782M0.782 -0.623L-0.782 0.623M0.901 -0.434L-0.901 0.434M0.975 -0.223L-0.975 0.223" vector-effect="non-scaling-stroke"/>
</g>
<circle r="0.13" fill="#140000"/>
<circle r="1" fill="none" stroke="#000" stroke-width="0.75" vector-effect="non-scaling-stroke"/>
</g>
<g transform="matrix(10.41 0 0 7.18 378.6 319.36)">
<circle r="1" fill="#ff0000" fill-opacity="1.0"/>
<g fill="none" stroke="#5a0008" stroke-width="0.62">
<circle r="0.392" stroke-width="0.31" vector-effect="non-scaling-stroke"/>
<circle r="0.543" stroke-width="0.31" vector-effect="non-scaling-stroke"/>
<circle r="0.65" stroke-width="0.31" vector-effect="non-scaling-stroke"/>
<circle r="0.733" stroke-width="0.31" vector-effect="non-scaling-stroke"/>
<circle r="0.8" stroke-width="0.31" vector-effect="non-scaling-stroke"/>
<circle r="0.854" stroke-width="0.31" vector-effect="non-scaling-stroke"/>
<circle r="0.898" stroke-width="0.31" vector-effect="non-scaling-stroke"/>
<circle r="0.933" stroke-width="0.31" vector-effect="non-scaling-stroke"/>
<circle r="0.96" stroke-width="0.31" vector-effect="non-scaling-stroke"/>
<circle r="0.98" stroke-width="0.31" vector-effect="non-scaling-stroke"/>
<circle r="0.993" stroke-width="0.31" vector-effect="non-scaling-stroke"/>
<circle r="0.999" stroke-width="0.31" vector-effect="non-scaling-stroke"/>
<path d="M-1 0L1 0M-0.975 -0.223L0.975 0.223M-0.901 -0.434L0.901 0.434M-0.782 -0.623L0.782 0.623M-0.623 -0.782L0.623 0.782M-0.434 -0.901L0.434 0.901M-0.223 -0.975L0.223 0.975M0 -1L0 1M0.223 -0.975L-0.223 0.975M0.434 -0.901L-0.434 0.901M0.623 -0.782L-0.623 0.782M0.782 -0.623L-0.782 0.623M0.901 -0.434L-0.901 0.434M0.975 -0.223L-0.975 0.223" vector-effect="non-scaling-stroke"/>
</g>
<circle r="0.13" fill="#140000"/>
<circle r="1" fill="none" stroke="#000" stroke-width="0.75" vector-effect="non-scaling-stroke"/>
</g>
<g transform="matrix(8.47 0 0 5.84 435.71 304.16)">
<circle r="1" fill="#ff0000" fill-opacity="1.0"/>
<g fill="none" stroke="#5a0008" stroke-width="0.62">
<circle r="0.392" stroke-width="0.31" vector-effect="non-scaling-stroke"/>
<circle r="0.543" stroke-width="0.31" vector-effect="non-scaling-stroke"/>
<circle r="0.65" stroke-width="0.31" vector-effect="non-scaling-stroke"/>
<circle r="0.733" stroke-width="0.31" vector-effect="non-scaling-stroke"/>
<circle r="0.8" stroke-width="0.31" vector-effect="non-scaling-stroke"/>
<circle r="0.854" stroke-width="0.31" vector-effect="non-scaling-stroke"/>
<circle r="0.898" stroke-width="0.31" vector-effect="non-scaling-stroke"/>
<circle r="0.933" stroke-width="0.31" vector-effect="non-scaling-stroke"/>
<circle r="0.96" stroke-width="0.31" vector-effect="non-scaling-stroke"/>
<circle r="0.98" stroke-width="0.31" vector-effect="non-scaling-stroke"/>
<circle r="0.993" stroke-width="0.31" vector-effect="non-scaling-stroke"/>
<circle r="0.999" stroke-width="0.31" vector-effect="non-scaling-stroke"/>
<path d="M-1 0L1 0M-0.975 -0.223L0.975 0.223M-0.901 -0.434L0.901 0.434M-0.782 -0.623L0.782 0.623M-0.623 -0.782L0.623 0.782M-0.434 -0.901L0.434 0.901M-0.223 -0.975L0.223 0.975M0 -1L0 1M0.223 -0.975L-0.223 0.975M0.434 -0.901L-0.434 0.901M0.623 -0.782L-0.623 0.782M0.782 -0.623L-0.782 0.623M0.901 -0.434L-0.901 0.434M0.975 -0.223L-0.975 0.223" vector-effect="non-scaling-stroke"/>
</g>
<circle r="0.13" fill="#140000"/>
<circle r="1" fill="none" stroke="#000" stroke-width="0.75" vector-effect="non-scaling-stroke"/>
</g>
<g transform="matrix(6.78 0 0 4.68 442.73 285.63)">
<circle r="1" fill="#ff0000" fill-opacity="1.0"/>
<g fill="none" stroke="#5a0008" stroke-width="0.62">
<circle r="0.392" stroke-width="0.31" vector-effect="non-scaling-stroke"/>
<circle r="0.543" stroke-width="0.31" vector-effect="non-scaling-stroke"/>
<circle r="0.65" stroke-width="0.31" vector-effect="non-scaling-stroke"/>
<circle r="0.733" stroke-width="0.31" vector-effect="non-scaling-stroke"/>
<circle r="0.8" stroke-width="0.31" vector-effect="non-scaling-stroke"/>
<circle r="0.854" stroke-width="0.31" vector-effect="non-scaling-stroke"/>
<circle r="0.898" stroke-width="0.31" vector-effect="non-scaling-stroke"/>
<circle r="0.933" stroke-width="0.31" vector-effect="non-scaling-stroke"/>
<circle r="0.96" stroke-width="0.31" vector-effect="non-scaling-stroke"/>
<circle r="0.98" stroke-width="0.31" vector-effect="non-scaling-stroke"/>
<circle r="0.993" stroke-width="0.31" vector-effect="non-scaling-stroke"/>
<circle r="0.999" stroke-width="0.31" vector-effect="non-scaling-stroke"/>
<path d="M-1 0L1 0M-0.975 -0.223L0.975 0.223M-0.901 -0.434L0.901 0.434M-0.782 -0.623L0.782 0.623M-0.623 -0.782L0.623 0.782M-0.434 -0.901L0.434 0.901M-0.223 -0.975L0.223 0.975M0 -1L0 1M0.223 -0.975L-0.223 0.975M0.434 -0.901L-0.434 0.901M0.623 -0.782L-0.623 0.782M0.782 -0.623L-0.782 0.623M0.901 -0.434L-0.901 0.434M0.975 -0.223L-0.975 0.223" vector-effect="non-scaling-stroke"/>
</g>
<circle r="0.13" fill="#140000"/>
<circle r="1" fill="none" stroke="#000" stroke-width="0.75" vector-effect="non-scaling-stroke"/>
</g>
<g transform="matrix(19 0 0 13.11 493.07 246.21)">
<circle r="1" fill="#ff0000" fill-opacity="0.25"/>
<g fill="none" stroke="#1a0000" stroke-width="0.4">
<circle r="0.392" stroke-width="0.2" vector-effect="non-scaling-stroke"/>
<circle r="0.543" stroke-width="0.2" vector-effect="non-scaling-stroke"/>
<circle r="0.65" stroke-width="0.2" vector-effect="non-scaling-stroke"/>
<circle r="0.733" stroke-width="0.2" vector-effect="non-scaling-stroke"/>
<circle r="0.8" stroke-width="0.2" vector-effect="non-scaling-stroke"/>
<circle r="0.854" stroke-width="0.2" vector-effect="non-scaling-stroke"/>
<circle r="0.898" stroke-width="0.2" vector-effect="non-scaling-stroke"/>
<circle r="0.933" stroke-width="0.2" vector-effect="non-scaling-stroke"/>
<circle r="0.96" stroke-width="0.2" vector-effect="non-scaling-stroke"/>
<circle r="0.98" stroke-width="0.2" vector-effect="non-scaling-stroke"/>
<circle r="0.993" stroke-width="0.2" vector-effect="non-scaling-stroke"/>
<circle r="0.999" stroke-width="0.2" vector-effect="non-scaling-stroke"/>
<path d="M-1 0L1 0M-0.975 -0.223L0.975 0.223M-0.901 -0.434L0.901 0.434M-0.782 -0.623L0.782 0.623M-0.623 -0.782L0.623 0.782M-0.434 -0.901L0.434 0.901M-0.223 -0.975L0.223 0.975M0 -1L0 1M0.223 -0.975L-0.223 0.975M0.434 -0.901L-0.434 0.901M0.623 -0.782L-0.623 0.782M0.782 -0.623L-0.782 0.623M0.901 -0.434L-0.901 0.434M0.975 -0.223L-0.975 0.223" vector-effect="non-scaling-stroke"/>
</g>
<circle r="0.1" fill="#140000"/>
<circle r="1" fill="none" stroke="#000" stroke-width="0.7" vector-effect="non-scaling-stroke"/>
</g>
<g transform="matrix(7.26 0 0 5.01 482.9 235.19)">
<circle r="1" fill="#ff0000" fill-opacity="1.0"/>
<g fill="none" stroke="#5a0008" stroke-width="0.62">
<circle r="0.392" stroke-width="0.31" vector-effect="non-scaling-stroke"/>
<circle r="0.543" stroke-width="0.31" vector-effect="non-scaling-stroke"/>
<circle r="0.65" stroke-width="0.31" vector-effect="non-scaling-stroke"/>
<circle r="0.733" stroke-width="0.31" vector-effect="non-scaling-stroke"/>
<circle r="0.8" stroke-width="0.31" vector-effect="non-scaling-stroke"/>
<circle r="0.854" stroke-width="0.31" vector-effect="non-scaling-stroke"/>
<circle r="0.898" stroke-width="0.31" vector-effect="non-scaling-stroke"/>
<circle r="0.933" stroke-width="0.31" vector-effect="non-scaling-stroke"/>
<circle r="0.96" stroke-width="0.31" vector-effect="non-scaling-stroke"/>
<circle r="0.98" stroke-width="0.31" vector-effect="non-scaling-stroke"/>
<circle r="0.993" stroke-width="0.31" vector-effect="non-scaling-stroke"/>
<circle r="0.999" stroke-width="0.31" vector-effect="non-scaling-stroke"/>
<path d="M-1 0L1 0M-0.975 -0.223L0.975 0.223M-0.901 -0.434L0.901 0.434M-0.782 -0.623L0.782 0.623M-0.623 -0.782L0.623 0.782M-0.434 -0.901L0.434 0.901M-0.223 -0.975L0.223 0.975M0 -1L0 1M0.223 -0.975L-0.223 0.975M0.434 -0.901L-0.434 0.901M0.623 -0.782L-0.623 0.782M0.782 -0.623L-0.782 0.623M0.901 -0.434L-0.901 0.434M0.975 -0.223L-0.975 0.223" vector-effect="non-scaling-stroke"/>
</g>
<circle r="0.13" fill="#140000"/>
<circle r="1" fill="none" stroke="#000" stroke-width="0.75" vector-effect="non-scaling-stroke"/>
</g>
<g transform="matrix(9.07 0 0 6.26 510.25 249.55)">
<circle r="1" fill="#ff0000" fill-opacity="1.0"/>
<g fill="none" stroke="#5a0008" stroke-width="0.62">
<circle r="0.392" stroke-width="0.31" vector-effect="non-scaling-stroke"/>
<circle r="0.543" stroke-width="0.31" vector-effect="non-scaling-stroke"/>
<circle r="0.65" stroke-width="0.31" vector-effect="non-scaling-stroke"/>
<circle r="0.733" stroke-width="0.31" vector-effect="non-scaling-stroke"/>
<circle r="0.8" stroke-width="0.31" vector-effect="non-scaling-stroke"/>
<circle r="0.854" stroke-width="0.31" vector-effect="non-scaling-stroke"/>
<circle r="0.898" stroke-width="0.31" vector-effect="non-scaling-stroke"/>
<circle r="0.933" stroke-width="0.31" vector-effect="non-scaling-stroke"/>
<circle r="0.96" stroke-width="0.31" vector-effect="non-scaling-stroke"/>
<circle r="0.98" stroke-width="0.31" vector-effect="non-scaling-stroke"/>
<circle r="0.993" stroke-width="0.31" vector-effect="non-scaling-stroke"/>
<circle r="0.999" stroke-width="0.31" vector-effect="non-scaling-stroke"/>
<path d="M-1 0L1 0M-0.975 -0.223L0.975 0.223M-0.901 -0.434L0.901 0.434M-0.782 -0.623L0.782 0.623M-0.623 -0.782L0.623 0.782M-0.434 -0.901L0.434 0.901M-0.223 -0.975L0.223 0.975M0 -1L0 1M0.223 -0.975L-0.223 0.975M0.434 -0.901L-0.434 0.901M0.623 -0.782L-0.623 0.782M0.782 -0.623L-0.782 0.623M0.901 -0.434L-0.901 0.434M0.975 -0.223L-0.975 0.223" vector-effect="non-scaling-stroke"/>
</g>
<circle r="0.13" fill="#140000"/>
<circle r="1" fill="none" stroke="#000" stroke-width="0.75" vector-effect="non-scaling-stroke"/>
</g>
<g transform="matrix(19.72 0 0 13.61 470.08 281.12)">
<circle r="1" fill="#ff0000" fill-opacity="1.0"/>
<g fill="none" stroke="#5a0008" stroke-width="0.42">
<circle r="0.392" stroke-width="0.21" vector-effect="non-scaling-stroke"/>
<circle r="0.543" stroke-width="0.21" vector-effect="non-scaling-stroke"/>
<circle r="0.65" stroke-width="0.21" vector-effect="non-scaling-stroke"/>
<circle r="0.733" stroke-width="0.21" vector-effect="non-scaling-stroke"/>
<circle r="0.8" stroke-width="0.21" vector-effect="non-scaling-stroke"/>
<circle r="0.854" stroke-width="0.21" vector-effect="non-scaling-stroke"/>
<circle r="0.898" stroke-width="0.21" vector-effect="non-scaling-stroke"/>
<circle r="0.933" stroke-width="0.21" vector-effect="non-scaling-stroke"/>
<circle r="0.96" stroke-width="0.21" vector-effect="non-scaling-stroke"/>
<circle r="0.98" stroke-width="0.21" vector-effect="non-scaling-stroke"/>
<circle r="0.993" stroke-width="0.21" vector-effect="non-scaling-stroke"/>
<circle r="0.999" stroke-width="0.21" vector-effect="non-scaling-stroke"/>
<path d="M-1 0L1 0M-0.975 -0.223L0.975 0.223M-0.901 -0.434L0.901 0.434M-0.782 -0.623L0.782 0.623M-0.623 -0.782L0.623 0.782M-0.434 -0.901L0.434 0.901M-0.223 -0.975L0.223 0.975M0 -1L0 1M0.223 -0.975L-0.223 0.975M0.434 -0.901L-0.434 0.901M0.623 -0.782L-0.623 0.782M0.782 -0.623L-0.782 0.623M0.901 -0.434L-0.901 0.434M0.975 -0.223L-0.975 0.223" vector-effect="non-scaling-stroke"/>
</g>
<circle r="0.13" fill="#140000"/>
<circle r="1" fill="none" stroke="#000" stroke-width="0.75" vector-effect="non-scaling-stroke"/>
</g>
<g transform="matrix(11.25 0 0 7.77 516.3 280.45)">
<circle r="1" fill="#ff0000" fill-opacity="1.0"/>
<g fill="none" stroke="#5a0008" stroke-width="0.62">
<circle r="0.392" stroke-width="0.31" vector-effect="non-scaling-stroke"/>
<circle r="0.543" stroke-width="0.31" vector-effect="non-scaling-stroke"/>
<circle r="0.65" stroke-width="0.31" vector-effect="non-scaling-stroke"/>
<circle r="0.733" stroke-width="0.31" vector-effect="non-scaling-stroke"/>
<circle r="0.8" stroke-width="0.31" vector-effect="non-scaling-stroke"/>
<circle r="0.854" stroke-width="0.31" vector-effect="non-scaling-stroke"/>
<circle r="0.898" stroke-width="0.31" vector-effect="non-scaling-stroke"/>
<circle r="0.933" stroke-width="0.31" vector-effect="non-scaling-stroke"/>
<circle r="0.96" stroke-width="0.31" vector-effect="non-scaling-stroke"/>
<circle r="0.98" stroke-width="0.31" vector-effect="non-scaling-stroke"/>
<circle r="0.993" stroke-width="0.31" vector-effect="non-scaling-stroke"/>
<circle r="0.999" stroke-width="0.31" vector-effect="non-scaling-stroke"/>
<path d="M-1 0L1 0M-0.975 -0.223L0.975 0.223M-0.901 -0.434L0.901 0.434M-0.782 -0.623L0.782 0.623M-0.623 -0.782L0.623 0.782M-0.434 -0.901L0.434 0.901M-0.223 -0.975L0.223 0.975M0 -1L0 1M0.223 -0.975L-0.223 0.975M0.434 -0.901L-0.434 0.901M0.623 -0.782L-0.623 0.782M0.782 -0.623L-0.782 0.623M0.901 -0.434L-0.901 0.434M0.975 -0.223L-0.975 0.223" vector-effect="non-scaling-stroke"/>
</g>
<circle r="0.13" fill="#140000"/>
<circle r="1" fill="none" stroke="#000" stroke-width="0.75" vector-effect="non-scaling-stroke"/>
</g>
<path d="M298.4 389.4 C300 388.25 304.73 384.68 308 382.5 C311.27 380.32 316.1 377.97 318 376.3 C319.9 374.63 318.53 374.18 319.4 372.5 C320.27 370.82 322.15 368.32 323.2 366.2 C324.25 364.08 323.73 362.17 325.7 359.8 C327.67 357.43 331.62 354.55 335 352 C338.38 349.45 342.83 346.5 346 344.5 C349.17 342.5 351.23 341.48 354 340 C356.77 338.52 360.43 337.27 362.6 335.6 C364.77 333.93 365.52 331.7 367 330 C368.48 328.3 369.5 326.82 371.5 325.4 C373.5 323.98 376.45 322.77 379 321.5 C381.55 320.23 383.3 319.88 386.8 317.8 C390.3 315.72 395.55 311.97 400 309 C404.45 306.03 408.87 302.93 413.5 300 C418.13 297.07 424.55 293.73 427.8 291.4 C431.05 289.07 431.08 287.48 433 286 C434.92 284.52 436.47 284.17 439.3 282.5 C442.13 280.83 446.55 278.12 450 276 C453.45 273.88 455.27 272.53 460 269.8 C464.73 267.07 472.25 263.3 478.4 259.6 C484.55 255.9 490.75 251.58 496.9 247.6 C503.05 243.62 508.03 239.92 515.3 235.7 C522.57 231.48 536.3 224.53 540.5 222.3" fill="none" stroke="#4DBEEE" stroke-width="1.15" stroke-linejoin="round" stroke-linecap="round" />
<path d="M298.4 389.4 C299.57 388.07 302.33 384.63 305.4 381.4 C308.47 378.17 313.42 373.82 316.8 370 C320.18 366.18 322.52 362.75 325.7 358.5 C328.88 354.25 332.85 348.42 335.9 344.5 C338.95 340.58 341.03 338.18 344 335 C346.97 331.82 350.87 328.15 353.7 325.4 C356.53 322.65 358.45 320.62 361 318.5 C363.55 316.38 366.17 314.78 369 312.7 C371.83 310.62 374.4 308.28 378 306 C381.6 303.72 385.27 301.83 390.6 299 C395.93 296.17 404.27 291.97 410 289 C415.73 286.03 416.67 285.48 425 281.2 C433.33 276.92 447.5 269.7 460 263.3 C472.5 256.9 486.58 249.63 500 242.8 C513.42 235.97 533.75 225.72 540.5 222.3" fill="none" stroke="#A2142F" stroke-width="1.15" stroke-linejoin="round" stroke-linecap="round" />
<circle cx="540.5" cy="222.3" r="1.8" fill="#e514e5" stroke="#c000c0" stroke-width="0.4"/>
<circle cx="298.4" cy="389.4" r="1.6" fill="#22e6e6" stroke="#00b8c8" stroke-width="0.4"/>
<clipPath id="cd"><rect x="530" y="210" width="13.1" height="30"/></clipPath>
<g clip-path="url(#cd)">
<text x="541" y="224.1" font-size="4" text-anchor="start" font-weight="bold" fill="#0a0a0a" stroke="#0a0a0a" stroke-width="0.14" >Goal</text>
</g>
<text x="299.5" y="390.9" font-size="3.6" text-anchor="start" font-weight="bold" fill="#0a0a0a" stroke="#0a0a0a" stroke-width="0.13" >UAV</text>
<text x="394" y="266.1" font-size="4.3" text-anchor="middle" font-weight="bold" fill="#0a0a0a" stroke="#0a0a0a" stroke-width="0.15" >0</text>
<text x="495.8" y="231.2" font-size="4.3" text-anchor="middle" font-weight="bold" fill="#0a0a0a" stroke="#0a0a0a" stroke-width="0.15" >11</text>
<text x="515" y="234.4" font-size="4.3" text-anchor="middle" font-weight="bold" fill="#0a0a0a" stroke="#0a0a0a" stroke-width="0.15" >8</text>
<text x="522.5" y="243.7" font-size="4.3" text-anchor="middle" font-weight="bold" fill="#0a0a0a" stroke="#0a0a0a" stroke-width="0.15" >9</text>
<text x="492.7" y="268.7" font-size="4.3" text-anchor="middle" font-weight="bold" fill="#0a0a0a" stroke="#0a0a0a" stroke-width="0.15" >7</text>
<text x="532" y="273.7" font-size="4.3" text-anchor="middle" font-weight="bold" fill="#0a0a0a" stroke="#0a0a0a" stroke-width="0.15" >10</text>
<text x="447.7" y="299.2" font-size="4.3" text-anchor="middle" font-weight="bold" fill="#0a0a0a" stroke="#0a0a0a" stroke-width="0.15" >5</text>
<text x="341.5" y="343.4" font-size="4.3" text-anchor="middle" font-weight="bold" fill="#0a0a0a" stroke="#0a0a0a" stroke-width="0.15" >1</text>
<text x="369.7" y="349.7" font-size="4.3" text-anchor="middle" font-weight="bold" fill="#0a0a0a" stroke="#0a0a0a" stroke-width="0.15" >3</text>
<text x="391.9" y="312.9" font-size="4.3" text-anchor="middle" font-weight="bold" fill="#0a0a0a" stroke="#0a0a0a" stroke-width="0.15" >4</text>
<line x1="306.6" y1="229" x2="320.4" y2="229" stroke="#4DBEEE" stroke-width="1.3" />
<text x="322.4" y="230.5" font-size="4.2" text-anchor="start" font-weight="bold" fill="#0a0a0a" stroke="#0a0a0a" stroke-width="0.15" >PDQN</text>
<line x1="306.6" y1="235.4" x2="320.4" y2="235.4" stroke="#A2142F" stroke-width="1.3" />
<text x="322.4" y="236.9" font-size="4.2" text-anchor="start" font-weight="bold" fill="#0a0a0a" stroke="#0a0a0a" stroke-width="0.15" >MSAO2H</text>
<text class="cap" transform="translate(412.9 427) scale(1.1 1)" font-size="12" text-anchor="middle" fill="#111">(<tspan font-weight="bold">d</tspan>)</text>
</svg>
</body></html>
